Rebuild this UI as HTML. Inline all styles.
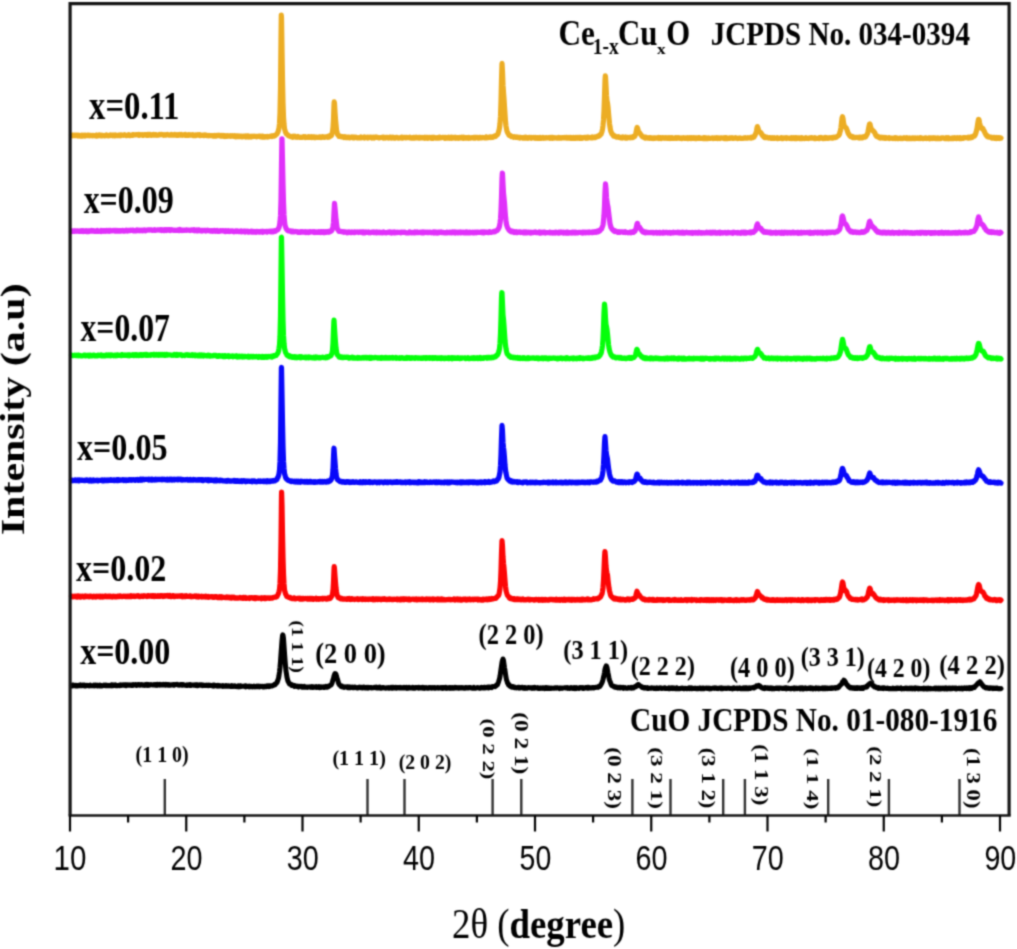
<!DOCTYPE html>
<html><head><meta charset="utf-8"><title>XRD patterns</title>
<style>html,body{margin:0;padding:0;background:#fff;}svg{display:block;}</style></head>
<body><svg width="1017" height="949" viewBox="0 0 1017 949">
<defs><filter id="bl" color-interpolation-filters="sRGB" x="0" y="0" width="1017" height="949" filterUnits="userSpaceOnUse"><feConvolveMatrix order="5" kernelMatrix="0.00009 0.00198 0.00548 0.00198 0.00009 0.00198 0.04220 0.11707 0.04220 0.00198 0.00548 0.11707 0.32480 0.11707 0.00548 0.00198 0.04220 0.11707 0.04220 0.00198 0.00009 0.00198 0.00548 0.00198 0.00009" edgeMode="duplicate" preserveAlpha="true"/></filter></defs>
<g filter="url(#bl)">
<rect width="1017" height="949" fill="#fff"/>
<path d="M71.5,135.39 L72.0,135.22 L72.5,135.72 L73.0,135.15 L73.5,135.61 L74.0,135.44 L74.5,135.14 L75.0,135.59 L75.5,135.12 L76.0,135.52 L76.5,135.16 L77.0,135.18 L77.5,135.51 L78.0,135.92 L78.5,135.21 L79.0,135.31 L79.5,135.72 L80.0,136.04 L80.5,135.67 L81.0,135.49 L81.5,136.07 L82.0,135.14 L82.5,135.95 L83.0,135.38 L83.5,135.24 L84.0,135.21 L84.5,135.40 L85.0,135.91 L85.5,135.27 L86.0,135.68 L86.5,135.73 L87.0,135.46 L87.5,135.64 L88.0,135.15 L88.5,135.15 L89.0,135.29 L89.5,135.77 L90.0,135.51 L90.5,135.40 L91.0,135.67 L91.5,135.54 L92.0,135.38 L92.5,135.87 L93.0,135.78 L93.5,135.32 L94.0,135.65 L94.5,135.60 L95.0,135.94 L95.5,135.79 L96.0,135.35 L96.5,136.04 L97.0,135.18 L97.5,135.47 L98.0,135.81 L98.5,135.20 L99.0,135.53 L99.5,135.08 L100.0,135.71 L100.5,135.80 L101.0,135.60 L101.5,135.90 L102.0,135.34 L102.5,135.71 L103.0,135.61 L103.5,135.59 L104.0,135.46 L104.5,135.84 L105.0,135.94 L105.5,135.47 L106.0,135.65 L106.5,135.04 L107.0,135.68 L107.5,135.62 L108.0,135.96 L108.5,135.78 L109.0,135.24 L109.5,135.34 L110.0,135.62 L110.5,134.96 L111.0,135.40 L111.5,135.10 L112.0,135.04 L112.5,134.98 L113.0,135.68 L113.5,135.03 L114.0,135.15 L114.5,135.28 L115.0,135.76 L115.5,134.96 L116.0,135.32 L116.5,135.42 L117.0,135.74 L117.5,135.67 L118.0,135.71 L118.5,135.12 L119.0,135.25 L119.5,135.18 L120.0,135.70 L120.5,135.77 L121.0,134.95 L121.5,134.97 L122.0,135.02 L122.5,135.02 L123.0,135.26 L123.5,135.36 L124.0,135.02 L124.5,134.76 L125.0,135.16 L125.5,135.11 L126.0,135.30 L126.5,135.67 L127.0,135.40 L127.5,135.22 L128.0,135.32 L128.5,135.37 L129.0,134.74 L129.5,135.57 L130.0,135.45 L130.5,135.53 L131.0,135.45 L131.5,135.03 L132.0,135.03 L132.5,134.73 L133.0,135.25 L133.5,134.67 L134.0,134.67 L134.5,134.80 L135.0,134.75 L135.5,134.92 L136.0,134.62 L136.5,134.56 L137.0,134.71 L137.5,134.65 L138.0,134.90 L138.5,134.56 L139.0,135.40 L139.5,135.13 L140.0,134.66 L140.5,134.76 L141.0,134.84 L141.5,134.85 L142.0,134.60 L142.5,135.32 L143.0,135.46 L143.5,134.93 L144.0,134.94 L144.5,134.53 L145.0,134.54 L145.5,134.78 L146.0,134.69 L146.5,135.25 L147.0,134.58 L147.5,134.43 L148.0,135.35 L148.5,134.92 L149.0,134.54 L149.5,134.93 L150.0,134.41 L150.5,134.90 L151.0,135.35 L151.5,135.23 L152.0,135.05 L152.5,134.61 L153.0,134.71 L153.5,134.51 L154.0,135.11 L154.5,134.87 L155.0,135.11 L155.5,134.65 L156.0,134.54 L156.5,135.13 L157.0,135.30 L157.5,135.16 L158.0,135.11 L158.5,135.12 L159.0,135.04 L159.5,134.52 L160.0,134.81 L160.5,134.65 L161.0,134.32 L161.5,134.32 L162.0,134.57 L162.5,134.54 L163.0,134.98 L163.5,135.24 L164.0,134.73 L164.5,135.22 L165.0,135.27 L165.5,135.23 L166.0,134.64 L166.5,134.50 L167.0,134.50 L167.5,134.47 L168.0,134.48 L168.5,134.90 L169.0,135.18 L169.5,135.12 L170.0,134.76 L170.5,134.94 L171.0,135.08 L171.5,134.37 L172.0,134.95 L172.5,135.20 L173.0,135.08 L173.5,135.05 L174.0,134.78 L174.5,134.48 L175.0,135.10 L175.5,134.64 L176.0,135.11 L176.5,135.29 L177.0,134.72 L177.5,134.73 L178.0,135.28 L178.5,135.06 L179.0,134.51 L179.5,134.47 L180.0,134.50 L180.5,135.26 L181.0,135.17 L181.5,134.52 L182.0,135.20 L182.5,135.36 L183.0,135.05 L183.5,134.75 L184.0,134.95 L184.5,134.54 L185.0,134.43 L185.5,135.40 L186.0,135.08 L186.5,134.97 L187.0,135.38 L187.5,134.89 L188.0,135.34 L188.5,135.30 L189.0,134.70 L189.5,134.75 L190.0,134.80 L190.5,134.75 L191.0,135.11 L191.5,134.79 L192.0,134.96 L192.5,134.69 L193.0,135.48 L193.5,134.93 L194.0,135.04 L194.5,135.18 L195.0,135.51 L195.5,135.04 L196.0,135.55 L196.5,135.14 L197.0,135.19 L197.5,135.19 L198.0,134.70 L198.5,135.13 L199.0,134.89 L199.5,134.72 L200.0,135.53 L200.5,134.91 L201.0,135.23 L201.5,135.49 L202.0,135.34 L202.5,135.12 L203.0,135.32 L203.5,135.37 L204.0,135.62 L204.5,134.95 L205.0,135.42 L205.5,135.12 L206.0,135.16 L206.5,135.67 L207.0,135.42 L207.5,135.49 L208.0,135.70 L208.5,135.87 L209.0,135.41 L209.5,135.60 L210.0,135.51 L210.5,135.53 L211.0,135.72 L211.5,135.50 L212.0,135.59 L212.5,135.55 L213.0,136.03 L213.5,135.80 L214.0,135.99 L214.5,136.07 L215.0,135.41 L215.5,135.72 L216.0,136.12 L216.5,136.03 L217.0,135.34 L217.5,135.34 L218.0,135.68 L218.5,135.32 L219.0,135.51 L219.5,135.35 L220.0,135.96 L220.5,136.09 L221.0,136.22 L221.5,135.49 L222.0,136.07 L222.5,136.03 L223.0,135.53 L223.5,136.28 L224.0,136.38 L224.5,135.65 L225.0,136.39 L225.5,135.85 L226.0,135.96 L226.5,136.47 L227.0,136.33 L227.5,135.67 L228.0,135.96 L228.5,136.06 L229.0,135.89 L229.5,135.77 L230.0,135.90 L230.5,136.32 L231.0,135.63 L231.5,136.18 L232.0,136.08 L232.5,135.67 L233.0,136.00 L233.5,136.30 L234.0,136.20 L234.5,135.77 L235.0,136.70 L235.5,136.52 L236.0,136.72 L236.5,135.86 L237.0,136.04 L237.5,135.82 L238.0,136.57 L238.5,136.08 L239.0,135.95 L239.5,136.25 L240.0,136.75 L240.5,136.67 L241.0,136.13 L241.5,136.03 L242.0,136.81 L242.5,136.47 L243.0,136.61 L243.5,136.01 L244.0,135.99 L244.5,136.63 L245.0,136.38 L245.5,136.04 L246.0,136.92 L246.5,136.62 L247.0,136.80 L247.5,136.09 L248.0,136.87 L248.5,136.09 L249.0,136.90 L249.5,136.50 L250.0,136.39 L250.5,136.61 L251.0,137.00 L251.5,136.35 L252.0,136.22 L252.5,136.62 L253.0,136.34 L253.5,136.22 L254.0,136.28 L254.5,136.17 L255.0,136.33 L255.5,136.45 L256.0,136.44 L256.5,136.90 L257.0,136.44 L257.5,136.65 L258.0,136.34 L258.5,136.51 L259.0,136.18 L259.5,136.42 L260.0,136.19 L260.5,136.91 L261.0,136.73 L261.5,136.36 L262.0,136.65 L262.5,137.11 L263.0,136.28 L263.5,136.99 L264.0,136.60 L264.5,136.65 L265.0,136.99 L265.5,136.54 L266.0,136.64 L266.5,136.81 L267.0,137.09 L267.5,136.44 L268.0,136.91 L268.5,136.76 L269.0,136.67 L269.5,136.41 L270.0,136.32 L270.5,135.98 L271.0,136.01 L271.5,135.90 L272.0,136.50 L272.5,135.94 L273.0,135.76 L273.5,135.57 L274.0,136.20 L274.5,136.07 L275.0,135.67 L275.5,135.03 L276.0,134.66 L276.5,134.29 L277.0,133.89 L277.5,132.82 L278.0,131.99 L278.5,130.14 L279.0,128.17 L279.5,123.47 L280.0,113.09 L280.5,88.35 L281.0,39.17 L281.3,15.20 L281.5,17.59 L282.0,49.65 L282.5,79.73 L283.0,102.92 L283.5,116.87 L284.0,124.15 L284.5,128.55 L285.0,130.42 L285.5,132.18 L286.0,133.03 L286.5,134.07 L287.0,134.24 L287.5,134.63 L288.0,135.23 L288.5,135.41 L289.0,135.96 L289.5,136.07 L290.0,136.43 L290.5,136.45 L291.0,136.61 L291.5,136.85 L292.0,136.44 L292.5,136.44 L293.0,137.15 L293.5,136.36 L294.0,136.98 L294.5,136.94 L295.0,136.37 L295.5,137.20 L296.0,137.28 L296.5,137.04 L297.0,137.17 L297.5,137.27 L298.0,136.62 L298.5,137.02 L299.0,137.02 L299.5,137.37 L300.0,137.35 L300.5,137.38 L301.0,137.16 L301.5,137.48 L302.0,137.28 L302.5,137.30 L303.0,136.84 L303.5,136.65 L304.0,136.77 L304.5,137.00 L305.0,136.75 L305.5,137.49 L306.0,137.22 L306.5,137.30 L307.0,137.30 L307.5,137.36 L308.0,137.18 L308.5,136.69 L309.0,137.49 L309.5,137.45 L310.0,137.21 L310.5,137.24 L311.0,137.37 L311.5,136.78 L312.0,137.46 L312.5,136.97 L313.0,136.80 L313.5,136.99 L314.0,137.46 L314.5,136.93 L315.0,137.47 L315.5,137.71 L316.0,137.23 L316.5,137.11 L317.0,137.21 L317.5,137.41 L318.0,137.50 L318.5,137.34 L319.0,137.37 L319.5,136.80 L320.0,136.86 L320.5,136.96 L321.0,137.45 L321.5,137.00 L322.0,137.26 L322.5,136.69 L323.0,136.73 L323.5,136.92 L324.0,137.31 L324.5,137.31 L325.0,137.27 L325.5,136.85 L326.0,137.05 L326.5,136.95 L327.0,136.91 L327.5,136.50 L328.0,137.20 L328.5,136.41 L329.0,137.07 L329.5,136.87 L330.0,135.74 L330.5,135.88 L331.0,135.82 L331.5,135.33 L332.0,133.79 L332.5,131.72 L333.0,127.61 L333.5,119.37 L334.0,104.69 L334.2,101.95 L334.5,103.39 L335.0,112.09 L335.5,119.10 L336.0,124.53 L336.5,129.85 L337.0,132.40 L337.5,134.43 L338.0,135.22 L338.5,135.34 L339.0,136.41 L339.5,136.28 L340.0,136.03 L340.5,136.17 L341.0,136.78 L341.5,136.83 L342.0,136.76 L342.5,136.66 L343.0,136.92 L343.5,136.94 L344.0,137.50 L344.5,136.69 L345.0,137.47 L345.5,137.58 L346.0,136.89 L346.5,137.71 L347.0,137.52 L347.5,137.72 L348.0,137.12 L348.5,137.22 L349.0,137.25 L349.5,137.87 L350.0,137.47 L350.5,137.25 L351.0,137.32 L351.5,137.18 L352.0,136.96 L352.5,137.02 L353.0,137.76 L353.5,137.21 L354.0,137.87 L354.5,137.19 L355.0,137.21 L355.5,137.46 L356.0,137.15 L356.5,137.33 L357.0,137.92 L357.5,137.85 L358.0,137.78 L358.5,137.61 L359.0,137.89 L359.5,137.92 L360.0,137.54 L360.5,137.71 L361.0,137.04 L361.5,137.73 L362.0,137.45 L362.5,137.76 L363.0,137.65 L363.5,137.30 L364.0,137.06 L364.5,137.94 L365.0,137.14 L365.5,137.49 L366.0,137.37 L366.5,137.32 L367.0,137.77 L367.5,138.01 L368.0,137.29 L368.5,137.69 L369.0,137.34 L369.5,137.60 L370.0,137.44 L370.5,137.21 L371.0,137.21 L371.5,137.26 L372.0,137.96 L372.5,137.55 L373.0,137.28 L373.5,137.96 L374.0,138.06 L374.5,137.51 L375.0,137.20 L375.5,137.26 L376.0,137.16 L376.5,137.41 L377.0,137.16 L377.5,137.31 L378.0,137.33 L378.5,137.65 L379.0,137.97 L379.5,137.83 L380.0,137.50 L380.5,137.50 L381.0,137.61 L381.5,137.47 L382.0,137.43 L382.5,137.15 L383.0,137.37 L383.5,138.06 L384.0,137.22 L384.5,137.60 L385.0,137.73 L385.5,137.97 L386.0,137.32 L386.5,137.38 L387.0,137.36 L387.5,137.51 L388.0,137.56 L388.5,138.07 L389.0,137.96 L389.5,137.99 L390.0,137.14 L390.5,137.15 L391.0,137.83 L391.5,138.02 L392.0,137.60 L392.5,137.71 L393.0,137.13 L393.5,137.52 L394.0,138.06 L394.5,137.96 L395.0,137.99 L395.5,138.11 L396.0,137.39 L396.5,137.25 L397.0,137.29 L397.5,137.66 L398.0,137.83 L398.5,138.09 L399.0,137.87 L399.5,137.79 L400.0,137.91 L400.5,137.61 L401.0,137.70 L401.5,137.19 L402.0,137.94 L402.5,137.39 L403.0,138.08 L403.5,137.80 L404.0,137.46 L404.5,137.29 L405.0,137.42 L405.5,137.80 L406.0,137.86 L406.5,137.28 L407.0,137.24 L407.5,137.69 L408.0,137.75 L408.5,137.56 L409.0,137.40 L409.5,137.78 L410.0,137.19 L410.5,137.48 L411.0,137.64 L411.5,138.14 L412.0,137.83 L412.5,138.07 L413.0,137.66 L413.5,137.42 L414.0,137.43 L414.5,138.15 L415.0,137.89 L415.5,137.50 L416.0,137.21 L416.5,137.69 L417.0,137.87 L417.5,137.62 L418.0,137.45 L418.5,137.87 L419.0,138.13 L419.5,137.43 L420.0,137.24 L420.5,137.54 L421.0,137.63 L421.5,137.89 L422.0,137.41 L422.5,138.01 L423.0,137.95 L423.5,137.72 L424.0,137.42 L424.5,138.18 L425.0,137.53 L425.5,138.04 L426.0,137.45 L426.5,137.44 L427.0,137.98 L427.5,137.51 L428.0,138.17 L428.5,137.72 L429.0,137.41 L429.5,137.45 L430.0,137.64 L430.5,137.89 L431.0,138.18 L431.5,137.37 L432.0,137.62 L432.5,137.44 L433.0,138.21 L433.5,137.37 L434.0,137.28 L434.5,137.29 L435.0,137.63 L435.5,138.13 L436.0,138.12 L436.5,137.97 L437.0,138.24 L437.5,138.17 L438.0,137.57 L438.5,137.43 L439.0,138.18 L439.5,137.99 L440.0,137.28 L440.5,137.91 L441.0,137.62 L441.5,137.62 L442.0,137.58 L442.5,137.42 L443.0,137.25 L443.5,137.53 L444.0,137.60 L444.5,138.21 L445.0,137.38 L445.5,138.22 L446.0,137.46 L446.5,137.61 L447.0,138.08 L447.5,138.08 L448.0,137.69 L448.5,137.30 L449.0,137.73 L449.5,137.63 L450.0,138.18 L450.5,137.45 L451.0,137.62 L451.5,138.16 L452.0,137.29 L452.5,137.67 L453.0,138.07 L453.5,138.03 L454.0,137.30 L454.5,137.30 L455.0,137.32 L455.5,138.18 L456.0,137.52 L456.5,138.01 L457.0,138.16 L457.5,137.60 L458.0,137.53 L458.5,138.22 L459.0,137.88 L459.5,137.52 L460.0,137.98 L460.5,137.58 L461.0,137.54 L461.5,137.26 L462.0,138.02 L462.5,138.18 L463.0,137.89 L463.5,138.20 L464.0,137.28 L464.5,137.49 L465.0,137.73 L465.5,138.21 L466.0,138.21 L466.5,137.64 L467.0,137.50 L467.5,137.68 L468.0,137.74 L468.5,138.18 L469.0,137.43 L469.5,138.05 L470.0,137.98 L470.5,138.06 L471.0,138.01 L471.5,137.84 L472.0,137.56 L472.5,137.55 L473.0,137.59 L473.5,138.01 L474.0,137.30 L474.5,137.42 L475.0,137.97 L475.5,137.46 L476.0,137.27 L476.5,137.24 L477.0,137.75 L477.5,137.52 L478.0,138.17 L478.5,138.06 L479.0,138.16 L479.5,137.43 L480.0,137.24 L480.5,137.25 L481.0,137.64 L481.5,137.84 L482.0,137.57 L482.5,137.35 L483.0,137.52 L483.5,137.71 L484.0,137.75 L484.5,137.81 L485.0,137.89 L485.5,137.69 L486.0,137.13 L486.5,137.82 L487.0,137.25 L487.5,137.50 L488.0,137.28 L488.5,137.61 L489.0,137.03 L489.5,137.04 L490.0,136.99 L490.5,136.85 L491.0,137.52 L491.5,137.15 L492.0,136.82 L492.5,136.81 L493.0,137.30 L493.5,136.70 L494.0,136.28 L494.5,136.70 L495.0,136.34 L495.5,136.44 L496.0,135.26 L496.5,135.26 L497.0,135.13 L497.5,134.54 L498.0,133.79 L498.5,131.78 L499.0,130.39 L499.5,127.68 L500.0,123.41 L500.5,116.21 L501.0,101.38 L501.5,79.92 L502.0,63.46 L502.5,71.93 L503.0,85.19 L503.5,92.52 L504.0,98.75 L504.5,106.72 L505.0,114.14 L505.5,121.31 L506.0,126.09 L506.5,128.90 L507.0,131.18 L507.5,132.38 L508.0,133.44 L508.5,134.22 L509.0,135.11 L509.5,135.59 L510.0,135.49 L510.5,135.57 L511.0,136.11 L511.5,136.65 L512.0,136.31 L512.5,136.57 L513.0,136.58 L513.5,137.27 L514.0,137.10 L514.5,136.69 L515.0,136.80 L515.5,137.15 L516.0,137.36 L516.5,137.49 L517.0,136.98 L517.5,137.09 L518.0,137.66 L518.5,137.40 L519.0,137.30 L519.5,137.35 L520.0,138.02 L520.5,137.40 L521.0,137.67 L521.5,137.48 L522.0,137.56 L522.5,138.02 L523.0,138.17 L523.5,137.55 L524.0,137.39 L524.5,137.94 L525.0,137.42 L525.5,137.24 L526.0,138.14 L526.5,137.67 L527.0,138.08 L527.5,137.67 L528.0,138.16 L528.5,137.74 L529.0,137.45 L529.5,137.31 L530.0,137.85 L530.5,137.95 L531.0,138.22 L531.5,137.40 L532.0,137.94 L532.5,137.70 L533.0,137.83 L533.5,137.48 L534.0,137.62 L534.5,137.86 L535.0,138.27 L535.5,137.46 L536.0,137.84 L536.5,138.16 L537.0,138.33 L537.5,137.56 L538.0,137.49 L538.5,138.31 L539.0,138.35 L539.5,137.86 L540.0,137.43 L540.5,138.30 L541.0,137.77 L541.5,138.29 L542.0,138.01 L542.5,138.21 L543.0,137.55 L543.5,138.18 L544.0,137.61 L544.5,137.80 L545.0,138.24 L545.5,138.23 L546.0,137.58 L546.5,137.62 L547.0,137.80 L547.5,137.92 L548.0,137.79 L548.5,137.53 L549.0,137.65 L549.5,138.13 L550.0,138.31 L550.5,137.45 L551.0,137.97 L551.5,138.17 L552.0,137.45 L552.5,138.25 L553.0,137.53 L553.5,138.02 L554.0,137.97 L554.5,138.04 L555.0,137.72 L555.5,137.84 L556.0,138.00 L556.5,137.85 L557.0,138.08 L557.5,137.87 L558.0,137.86 L558.5,137.44 L559.0,138.04 L559.5,137.91 L560.0,137.66 L560.5,138.19 L561.0,138.20 L561.5,137.88 L562.0,137.60 L562.5,137.89 L563.0,137.53 L563.5,137.55 L564.0,137.85 L564.5,137.51 L565.0,137.86 L565.5,137.93 L566.0,137.46 L566.5,138.05 L567.0,137.50 L567.5,138.15 L568.0,138.19 L568.5,137.93 L569.0,137.47 L569.5,137.92 L570.0,137.79 L570.5,138.36 L571.0,137.54 L571.5,138.26 L572.0,138.40 L572.5,138.13 L573.0,138.21 L573.5,137.59 L574.0,138.38 L574.5,137.88 L575.0,138.35 L575.5,138.30 L576.0,137.55 L576.5,138.17 L577.0,138.31 L577.5,137.44 L578.0,137.72 L578.5,138.12 L579.0,137.52 L579.5,138.25 L580.0,137.62 L580.5,138.16 L581.0,137.48 L581.5,137.83 L582.0,138.24 L582.5,137.52 L583.0,137.57 L583.5,137.80 L584.0,137.61 L584.5,137.31 L585.0,137.45 L585.5,137.41 L586.0,138.18 L586.5,137.91 L587.0,138.11 L587.5,137.36 L588.0,137.96 L588.5,137.27 L589.0,137.67 L589.5,137.75 L590.0,137.45 L590.5,137.93 L591.0,137.59 L591.5,137.58 L592.0,137.84 L592.5,137.02 L593.0,137.86 L593.5,137.45 L594.0,137.15 L594.5,137.49 L595.0,136.88 L595.5,137.52 L596.0,137.00 L596.5,136.67 L597.0,136.94 L597.5,136.46 L598.0,136.00 L598.5,136.34 L599.0,135.36 L599.5,135.79 L600.0,134.79 L600.5,134.62 L601.0,134.24 L601.5,132.87 L602.0,131.57 L602.5,129.17 L603.0,125.56 L603.5,119.97 L604.0,110.61 L604.5,96.61 L605.0,80.53 L605.3,75.88 L605.5,76.73 L606.0,85.55 L606.5,95.45 L607.0,100.95 L607.5,103.11 L608.0,106.98 L608.5,112.94 L609.0,118.47 L609.5,123.54 L610.0,127.04 L610.5,129.99 L611.0,131.83 L611.5,132.72 L612.0,134.06 L612.5,134.59 L613.0,134.77 L613.5,135.98 L614.0,135.61 L614.5,135.78 L615.0,135.95 L615.5,136.67 L616.0,137.06 L616.5,137.10 L617.0,136.84 L617.5,136.80 L618.0,136.63 L618.5,137.33 L619.0,137.32 L619.5,137.16 L620.0,137.51 L620.5,137.35 L621.0,137.88 L621.5,137.71 L622.0,137.26 L622.5,137.94 L623.0,137.10 L623.5,137.61 L624.0,137.50 L624.5,137.35 L625.0,137.18 L625.5,137.91 L626.0,137.15 L626.5,137.69 L627.0,138.08 L627.5,137.28 L628.0,137.33 L628.5,137.73 L629.0,137.62 L629.5,137.73 L630.0,137.88 L630.5,137.21 L631.0,137.30 L631.5,137.23 L632.0,136.90 L632.5,137.65 L633.0,137.41 L633.5,137.15 L634.0,136.17 L634.5,136.59 L635.0,135.79 L635.5,134.34 L636.0,132.75 L636.5,129.93 L637.0,127.72 L637.1,127.47 L637.5,128.12 L638.0,129.68 L638.5,131.30 L639.0,132.34 L639.5,132.68 L640.0,133.44 L640.5,134.19 L641.0,134.64 L641.5,135.69 L642.0,136.16 L642.5,136.94 L643.0,136.98 L643.5,136.93 L644.0,137.47 L644.5,137.91 L645.0,137.25 L645.5,137.99 L646.0,137.18 L646.5,137.47 L647.0,137.49 L647.5,138.03 L648.0,138.26 L648.5,138.09 L649.0,137.69 L649.5,138.26 L650.0,137.73 L650.5,137.65 L651.0,138.33 L651.5,138.07 L652.0,138.14 L652.5,138.12 L653.0,138.45 L653.5,137.95 L654.0,138.32 L654.5,138.19 L655.0,138.36 L655.5,137.94 L656.0,138.23 L656.5,138.09 L657.0,137.83 L657.5,137.74 L658.0,138.15 L658.5,137.61 L659.0,138.45 L659.5,137.68 L660.0,137.57 L660.5,137.65 L661.0,138.48 L661.5,137.90 L662.0,137.70 L662.5,137.59 L663.0,137.60 L663.5,138.26 L664.0,138.20 L664.5,138.27 L665.0,138.31 L665.5,137.64 L666.0,138.17 L666.5,137.94 L667.0,138.40 L667.5,138.40 L668.0,138.47 L668.5,137.65 L669.0,138.45 L669.5,138.50 L670.0,138.53 L670.5,137.70 L671.0,137.80 L671.5,137.71 L672.0,137.63 L672.5,138.44 L673.0,138.41 L673.5,138.23 L674.0,138.43 L674.5,138.23 L675.0,137.89 L675.5,137.70 L676.0,137.70 L676.5,138.36 L677.0,137.81 L677.5,137.93 L678.0,138.03 L678.5,137.63 L679.0,137.87 L679.5,137.90 L680.0,138.33 L680.5,137.98 L681.0,137.94 L681.5,138.58 L682.0,138.12 L682.5,138.47 L683.0,138.24 L683.5,137.65 L684.0,138.04 L684.5,138.06 L685.0,138.40 L685.5,137.97 L686.0,138.33 L686.5,138.16 L687.0,137.84 L687.5,138.49 L688.0,137.72 L688.5,138.45 L689.0,137.80 L689.5,137.63 L690.0,137.83 L690.5,138.39 L691.0,138.61 L691.5,137.64 L692.0,138.13 L692.5,138.13 L693.0,138.43 L693.5,137.82 L694.0,138.13 L694.5,137.98 L695.0,138.47 L695.5,137.90 L696.0,138.58 L696.5,137.92 L697.0,137.86 L697.5,138.34 L698.0,138.14 L698.5,137.75 L699.0,138.28 L699.5,137.72 L700.0,138.43 L700.5,138.34 L701.0,138.43 L701.5,138.27 L702.0,138.00 L702.5,138.05 L703.0,138.04 L703.5,138.54 L704.0,137.73 L704.5,138.54 L705.0,137.67 L705.5,137.85 L706.0,137.91 L706.5,138.55 L707.0,138.15 L707.5,138.03 L708.0,138.53 L708.5,137.88 L709.0,138.11 L709.5,138.18 L710.0,138.41 L710.5,138.40 L711.0,138.30 L711.5,138.00 L712.0,137.98 L712.5,137.81 L713.0,138.50 L713.5,138.32 L714.0,138.40 L714.5,137.82 L715.0,138.09 L715.5,138.43 L716.0,138.23 L716.5,137.78 L717.0,138.12 L717.5,138.54 L718.0,137.89 L718.5,137.85 L719.0,137.96 L719.5,138.36 L720.0,138.50 L720.5,137.81 L721.0,137.81 L721.5,137.90 L722.0,137.98 L722.5,138.18 L723.0,137.81 L723.5,137.98 L724.0,137.84 L724.5,138.63 L725.0,138.38 L725.5,137.75 L726.0,138.61 L726.5,137.75 L727.0,138.03 L727.5,138.63 L728.0,138.44 L728.5,138.38 L729.0,138.08 L729.5,137.84 L730.0,138.28 L730.5,137.75 L731.0,137.85 L731.5,138.03 L732.0,137.68 L732.5,138.04 L733.0,138.43 L733.5,138.33 L734.0,138.14 L734.5,138.27 L735.0,138.10 L735.5,137.77 L736.0,138.23 L736.5,138.03 L737.0,138.36 L737.5,138.53 L738.0,138.05 L738.5,138.19 L739.0,138.36 L739.5,138.03 L740.0,137.83 L740.5,138.32 L741.0,138.47 L741.5,138.36 L742.0,138.28 L742.5,138.43 L743.0,138.25 L743.5,138.20 L744.0,138.00 L744.5,137.85 L745.0,138.16 L745.5,137.61 L746.0,137.92 L746.5,138.27 L747.0,138.18 L747.5,138.08 L748.0,137.67 L748.5,137.82 L749.0,137.82 L749.5,137.95 L750.0,137.69 L750.5,137.90 L751.0,138.09 L751.5,137.27 L752.0,137.64 L752.5,137.63 L753.0,137.08 L753.5,136.96 L754.0,137.14 L754.5,135.74 L755.0,135.54 L755.5,134.04 L756.0,132.97 L756.5,130.81 L757.0,127.98 L757.4,126.58 L757.5,127.03 L758.0,128.09 L758.5,130.05 L759.0,131.13 L759.5,131.90 L760.0,132.35 L760.5,132.34 L761.0,132.82 L761.5,134.18 L762.0,134.31 L762.5,135.54 L763.0,135.87 L763.5,136.71 L764.0,136.43 L764.5,137.55 L765.0,137.12 L765.5,136.97 L766.0,137.31 L766.5,137.52 L767.0,137.21 L767.5,137.67 L768.0,137.73 L768.5,138.05 L769.0,137.74 L769.5,137.68 L770.0,137.67 L770.5,138.21 L771.0,138.42 L771.5,138.03 L772.0,137.74 L772.5,138.33 L773.0,137.94 L773.5,137.77 L774.0,137.70 L774.5,138.35 L775.0,138.39 L775.5,138.23 L776.0,138.07 L776.5,138.17 L777.0,137.84 L777.5,138.58 L778.0,137.97 L778.5,138.26 L779.0,138.45 L779.5,138.45 L780.0,138.11 L780.5,137.93 L781.0,138.19 L781.5,137.77 L782.0,138.48 L782.5,138.01 L783.0,138.50 L783.5,137.92 L784.0,138.03 L784.5,137.91 L785.0,138.09 L785.5,137.85 L786.0,137.67 L786.5,138.39 L787.0,137.95 L787.5,137.91 L788.0,137.97 L788.5,138.15 L789.0,138.10 L789.5,138.31 L790.0,138.33 L790.5,138.04 L791.0,138.60 L791.5,138.53 L792.0,137.73 L792.5,138.51 L793.0,138.58 L793.5,138.46 L794.0,137.82 L794.5,138.51 L795.0,138.31 L795.5,137.69 L796.0,137.69 L796.5,138.63 L797.0,138.34 L797.5,137.93 L798.0,137.78 L798.5,137.82 L799.0,137.91 L799.5,138.46 L800.0,138.03 L800.5,137.83 L801.0,138.58 L801.5,138.47 L802.0,137.85 L802.5,138.57 L803.0,138.29 L803.5,138.46 L804.0,138.35 L804.5,138.57 L805.0,138.46 L805.5,138.51 L806.0,137.87 L806.5,138.37 L807.0,138.20 L807.5,138.41 L808.0,138.11 L808.5,138.55 L809.0,138.22 L809.5,137.93 L810.0,137.90 L810.5,137.80 L811.0,138.15 L811.5,137.72 L812.0,138.12 L812.5,137.80 L813.0,138.15 L813.5,138.15 L814.0,138.19 L814.5,138.51 L815.0,137.65 L815.5,138.48 L816.0,138.11 L816.5,138.20 L817.0,138.30 L817.5,138.47 L818.0,138.00 L818.5,138.04 L819.0,138.58 L819.5,137.69 L820.0,138.24 L820.5,138.24 L821.0,137.62 L821.5,138.20 L822.0,138.27 L822.5,138.51 L823.0,137.90 L823.5,138.54 L824.0,138.06 L824.5,138.03 L825.0,138.43 L825.5,137.55 L826.0,138.23 L826.5,138.12 L827.0,137.82 L827.5,138.33 L828.0,137.82 L828.5,137.90 L829.0,137.93 L829.5,138.16 L830.0,137.57 L830.5,137.77 L831.0,137.72 L831.5,137.82 L832.0,138.05 L832.5,137.47 L833.0,137.95 L833.5,137.47 L834.0,137.50 L834.5,137.18 L835.0,137.32 L835.5,137.67 L836.0,137.21 L836.5,137.17 L837.0,136.50 L837.5,136.21 L838.0,135.84 L838.5,135.65 L839.0,135.02 L839.5,134.18 L840.0,131.94 L840.5,130.39 L841.0,127.34 L841.5,122.88 L842.0,118.36 L842.4,117.03 L842.5,116.70 L843.0,118.66 L843.5,122.52 L844.0,124.73 L844.5,126.21 L845.0,126.93 L845.5,127.32 L846.0,127.54 L846.5,128.57 L847.0,129.97 L847.5,131.51 L848.0,132.73 L848.5,133.92 L849.0,134.32 L849.5,135.45 L850.0,135.76 L850.5,136.46 L851.0,136.10 L851.5,136.41 L852.0,136.44 L852.5,137.32 L853.0,137.58 L853.5,137.42 L854.0,137.21 L854.5,137.72 L855.0,137.74 L855.5,137.56 L856.0,137.29 L856.5,137.36 L857.0,137.51 L857.5,137.42 L858.0,137.54 L858.5,137.75 L859.0,138.04 L859.5,137.16 L860.0,137.66 L860.5,137.11 L861.0,137.16 L861.5,137.81 L862.0,137.53 L862.5,137.82 L863.0,137.27 L863.5,136.74 L864.0,137.00 L864.5,137.05 L865.0,137.19 L865.5,136.97 L866.0,136.10 L866.5,135.50 L867.0,134.40 L867.5,133.75 L868.0,131.58 L868.5,129.14 L869.0,126.24 L869.5,124.11 L869.7,124.46 L870.0,124.12 L870.5,126.65 L871.0,127.76 L871.5,129.96 L872.0,129.97 L872.5,130.14 L873.0,131.00 L873.5,130.89 L874.0,132.08 L874.5,132.45 L875.0,133.25 L875.5,134.83 L876.0,135.48 L876.5,136.20 L877.0,136.52 L877.5,136.21 L878.0,137.02 L878.5,137.31 L879.0,137.22 L879.5,137.82 L880.0,137.24 L880.5,138.04 L881.0,137.86 L881.5,137.22 L882.0,137.27 L882.5,137.95 L883.0,138.16 L883.5,137.46 L884.0,137.72 L884.5,138.16 L885.0,137.62 L885.5,138.34 L886.0,137.98 L886.5,137.57 L887.0,137.90 L887.5,138.12 L888.0,138.00 L888.5,138.25 L889.0,137.73 L889.5,138.39 L890.0,137.96 L890.5,138.25 L891.0,138.25 L891.5,138.04 L892.0,138.02 L892.5,138.42 L893.0,138.59 L893.5,138.43 L894.0,138.22 L894.5,137.95 L895.0,137.73 L895.5,138.64 L896.0,138.38 L896.5,138.51 L897.0,138.01 L897.5,138.29 L898.0,138.67 L898.5,138.52 L899.0,138.30 L899.5,138.01 L900.0,138.13 L900.5,138.59 L901.0,138.08 L901.5,138.39 L902.0,138.31 L902.5,138.61 L903.0,138.52 L903.5,138.00 L904.0,137.72 L904.5,137.98 L905.0,138.14 L905.5,138.31 L906.0,138.54 L906.5,138.61 L907.0,137.77 L907.5,138.56 L908.0,138.54 L908.5,138.60 L909.0,138.30 L909.5,138.01 L910.0,138.59 L910.5,138.54 L911.0,138.42 L911.5,138.65 L912.0,138.09 L912.5,137.82 L913.0,138.29 L913.5,138.54 L914.0,137.94 L914.5,138.49 L915.0,138.68 L915.5,137.98 L916.0,138.35 L916.5,138.42 L917.0,138.21 L917.5,137.95 L918.0,138.00 L918.5,138.50 L919.0,138.54 L919.5,138.21 L920.0,137.84 L920.5,138.56 L921.0,138.52 L921.5,137.98 L922.0,138.33 L922.5,138.65 L923.0,138.64 L923.5,138.27 L924.0,138.23 L924.5,138.34 L925.0,137.94 L925.5,137.95 L926.0,137.93 L926.5,138.45 L927.0,138.12 L927.5,138.32 L928.0,138.16 L928.5,138.27 L929.0,137.90 L929.5,137.80 L930.0,138.75 L930.5,138.13 L931.0,137.86 L931.5,138.39 L932.0,138.54 L932.5,137.91 L933.0,138.35 L933.5,138.10 L934.0,138.27 L934.5,137.77 L935.0,137.78 L935.5,138.74 L936.0,138.62 L936.5,138.24 L937.0,138.32 L937.5,138.01 L938.0,138.53 L938.5,138.17 L939.0,138.69 L939.5,138.51 L940.0,138.56 L940.5,138.71 L941.0,138.00 L941.5,137.78 L942.0,137.94 L942.5,137.92 L943.0,137.82 L943.5,137.79 L944.0,138.29 L944.5,138.61 L945.0,138.19 L945.5,138.68 L946.0,138.64 L946.5,137.79 L947.0,138.32 L947.5,138.12 L948.0,137.84 L948.5,138.68 L949.0,137.98 L949.5,138.28 L950.0,138.35 L950.5,138.67 L951.0,138.38 L951.5,138.10 L952.0,138.15 L952.5,137.86 L953.0,138.66 L953.5,138.68 L954.0,137.91 L954.5,137.72 L955.0,137.93 L955.5,138.03 L956.0,138.57 L956.5,138.57 L957.0,138.49 L957.5,137.70 L958.0,138.43 L958.5,138.35 L959.0,138.28 L959.5,138.61 L960.0,137.67 L960.5,137.75 L961.0,138.35 L961.5,138.52 L962.0,138.24 L962.5,137.85 L963.0,138.13 L963.5,138.28 L964.0,137.61 L964.5,137.81 L965.0,137.72 L965.5,137.56 L966.0,137.89 L966.5,137.55 L967.0,137.59 L967.5,137.45 L968.0,137.95 L968.5,137.23 L969.0,137.88 L969.5,137.30 L970.0,137.07 L970.5,137.87 L971.0,137.07 L971.5,137.66 L972.0,137.45 L972.5,137.30 L973.0,136.34 L973.5,136.38 L974.0,135.68 L974.5,136.05 L975.0,135.32 L975.5,134.19 L976.0,132.70 L976.5,130.71 L977.0,128.63 L977.5,125.08 L978.0,121.91 L978.5,119.36 L978.6,119.31 L979.0,119.65 L979.5,122.51 L980.0,124.84 L980.5,126.31 L981.0,128.12 L981.5,127.98 L982.0,128.25 L982.5,128.15 L983.0,128.73 L983.5,130.14 L984.0,130.73 L984.5,131.71 L985.0,133.10 L985.5,133.85 L986.0,135.20 L986.5,135.02 L987.0,136.38 L987.5,135.84 L988.0,136.98 L988.5,136.99 L989.0,136.73 L989.5,137.15 L990.0,137.09 L990.5,137.17 L991.0,137.20 L991.5,137.44 L992.0,138.14 L992.5,138.20 L993.0,138.18 L993.5,137.40 L994.0,137.63 L994.5,138.27 L995.0,137.46 L995.5,138.16 L996.0,137.75 L996.5,138.46 L997.0,137.52 L997.5,138.33 L998.0,137.88 L998.5,137.70 L999.0,137.58 L999.5,138.42 L1000.0,138.13 L1000.5,137.80 L1001.0,138.06" fill="none" stroke="#ECAD24" stroke-width="5.2" stroke-linejoin="round" stroke-linecap="round"/>
<path d="M71.5,231.58 L72.0,230.89 L72.5,231.24 L73.0,230.81 L73.5,230.85 L74.0,231.44 L74.5,231.38 L75.0,230.86 L75.5,230.75 L76.0,230.75 L76.5,231.27 L77.0,231.16 L77.5,230.94 L78.0,230.87 L78.5,231.27 L79.0,231.37 L79.5,231.47 L80.0,231.24 L80.5,230.86 L81.0,230.72 L81.5,231.38 L82.0,231.06 L82.5,231.37 L83.0,230.70 L83.5,231.45 L84.0,230.98 L84.5,231.48 L85.0,231.50 L85.5,231.13 L86.0,230.65 L86.5,231.54 L87.0,231.10 L87.5,231.50 L88.0,230.89 L88.5,230.80 L89.0,231.45 L89.5,230.98 L90.0,230.77 L90.5,230.98 L91.0,231.20 L91.5,230.60 L92.0,231.11 L92.5,231.04 L93.0,231.10 L93.5,230.70 L94.0,231.29 L94.5,231.39 L95.0,231.44 L95.5,230.89 L96.0,231.27 L96.5,230.94 L97.0,231.30 L97.5,230.61 L98.0,231.41 L98.5,231.49 L99.0,231.03 L99.5,231.04 L100.0,231.05 L100.5,231.05 L101.0,230.53 L101.5,231.47 L102.0,230.72 L102.5,230.67 L103.0,230.59 L103.5,230.73 L104.0,231.29 L104.5,230.50 L105.0,230.56 L105.5,231.15 L106.0,230.64 L106.5,230.46 L107.0,231.03 L107.5,231.00 L108.0,230.94 L108.5,231.12 L109.0,230.51 L109.5,231.27 L110.0,231.11 L110.5,230.43 L111.0,230.50 L111.5,230.86 L112.0,230.86 L112.5,230.63 L113.0,230.47 L113.5,230.74 L114.0,230.47 L114.5,230.91 L115.0,231.17 L115.5,230.45 L116.0,230.87 L116.5,231.03 L117.0,230.44 L117.5,231.10 L118.0,231.20 L118.5,230.64 L119.0,230.66 L119.5,231.07 L120.0,230.75 L120.5,230.61 L121.0,231.15 L121.5,230.98 L122.0,230.53 L122.5,230.42 L123.0,230.51 L123.5,230.60 L124.0,231.13 L124.5,230.95 L125.0,231.05 L125.5,230.94 L126.0,230.96 L126.5,230.16 L127.0,230.61 L127.5,231.04 L128.0,231.01 L128.5,230.32 L129.0,230.48 L129.5,230.68 L130.0,230.40 L130.5,230.56 L131.0,230.09 L131.5,230.44 L132.0,230.50 L132.5,230.01 L133.0,230.12 L133.5,230.94 L134.0,230.74 L134.5,230.89 L135.0,230.58 L135.5,230.74 L136.0,230.81 L136.5,230.80 L137.0,229.94 L137.5,230.54 L138.0,230.15 L138.5,230.55 L139.0,230.14 L139.5,230.40 L140.0,230.77 L140.5,230.46 L141.0,230.08 L141.5,230.34 L142.0,230.25 L142.5,230.75 L143.0,230.08 L143.5,230.09 L144.0,230.43 L144.5,229.89 L145.0,230.36 L145.5,230.71 L146.0,230.26 L146.5,230.01 L147.0,230.20 L147.5,230.25 L148.0,229.86 L148.5,229.83 L149.0,229.83 L149.5,229.98 L150.0,230.09 L150.5,229.96 L151.0,229.91 L151.5,229.75 L152.0,230.20 L152.5,230.49 L153.0,230.25 L153.5,230.21 L154.0,230.28 L154.5,229.83 L155.0,230.33 L155.5,230.07 L156.0,230.15 L156.5,230.21 L157.0,230.07 L157.5,229.90 L158.0,229.83 L158.5,229.80 L159.0,230.09 L159.5,229.96 L160.0,230.15 L160.5,229.58 L161.0,229.91 L161.5,230.42 L162.0,229.79 L162.5,230.11 L163.0,230.04 L163.5,229.83 L164.0,230.53 L164.5,229.83 L165.0,230.31 L165.5,229.69 L166.0,229.60 L166.5,230.40 L167.0,229.97 L167.5,229.59 L168.0,229.92 L168.5,229.97 L169.0,230.26 L169.5,229.63 L170.0,229.75 L170.5,230.48 L171.0,230.26 L171.5,229.68 L172.0,229.86 L172.5,229.88 L173.0,230.20 L173.5,230.15 L174.0,230.38 L174.5,230.35 L175.0,230.05 L175.5,230.28 L176.0,230.28 L176.5,230.30 L177.0,230.02 L177.5,230.33 L178.0,230.26 L178.5,230.47 L179.0,229.69 L179.5,230.43 L180.0,229.57 L180.5,230.34 L181.0,230.16 L181.5,230.08 L182.0,230.55 L182.5,230.16 L183.0,230.01 L183.5,230.39 L184.0,230.48 L184.5,230.22 L185.0,230.00 L185.5,230.08 L186.0,230.09 L186.5,230.36 L187.0,229.94 L187.5,230.04 L188.0,230.22 L188.5,230.05 L189.0,230.00 L189.5,230.47 L190.0,230.54 L190.5,230.20 L191.0,230.15 L191.5,229.90 L192.0,230.03 L192.5,229.88 L193.0,230.32 L193.5,230.34 L194.0,229.85 L194.5,230.69 L195.0,230.11 L195.5,230.64 L196.0,230.64 L196.5,230.77 L197.0,230.03 L197.5,230.26 L198.0,230.76 L198.5,229.87 L199.0,229.91 L199.5,230.44 L200.0,230.39 L200.5,230.82 L201.0,230.69 L201.5,230.46 L202.0,230.93 L202.5,230.46 L203.0,230.48 L203.5,230.66 L204.0,230.37 L204.5,230.35 L205.0,230.60 L205.5,230.37 L206.0,230.98 L206.5,230.72 L207.0,230.58 L207.5,230.17 L208.0,230.46 L208.5,230.50 L209.0,230.67 L209.5,230.70 L210.0,231.02 L210.5,231.11 L211.0,230.65 L211.5,230.62 L212.0,230.81 L212.5,231.20 L213.0,230.56 L213.5,230.76 L214.0,231.06 L214.5,230.43 L215.0,230.59 L215.5,231.26 L216.0,231.12 L216.5,230.82 L217.0,230.44 L217.5,231.23 L218.0,231.04 L218.5,231.19 L219.0,231.37 L219.5,231.28 L220.0,230.83 L220.5,230.58 L221.0,230.72 L221.5,230.96 L222.0,230.97 L222.5,230.66 L223.0,230.67 L223.5,231.13 L224.0,231.12 L224.5,230.88 L225.0,231.54 L225.5,231.19 L226.0,230.61 L226.5,230.99 L227.0,231.38 L227.5,230.92 L228.0,231.31 L228.5,230.64 L229.0,230.95 L229.5,231.50 L230.0,231.26 L230.5,231.36 L231.0,230.90 L231.5,231.21 L232.0,231.28 L232.5,231.00 L233.0,231.40 L233.5,231.29 L234.0,231.77 L234.5,231.36 L235.0,231.21 L235.5,230.93 L236.0,230.98 L236.5,231.59 L237.0,230.95 L237.5,230.96 L238.0,231.04 L238.5,231.40 L239.0,231.72 L239.5,231.52 L240.0,231.72 L240.5,230.99 L241.0,230.95 L241.5,231.72 L242.0,231.28 L242.5,231.68 L243.0,231.33 L243.5,231.16 L244.0,231.27 L244.5,231.11 L245.0,231.92 L245.5,231.61 L246.0,231.39 L246.5,231.50 L247.0,231.44 L247.5,231.12 L248.0,231.97 L248.5,231.67 L249.0,232.05 L249.5,231.54 L250.0,231.73 L250.5,231.37 L251.0,231.17 L251.5,232.07 L252.0,232.00 L252.5,231.46 L253.0,232.06 L253.5,231.98 L254.0,231.47 L254.5,231.78 L255.0,232.14 L255.5,231.69 L256.0,232.15 L256.5,231.44 L257.0,231.60 L257.5,231.93 L258.0,231.44 L258.5,231.53 L259.0,232.10 L259.5,231.71 L260.0,232.02 L260.5,231.48 L261.0,231.41 L261.5,231.60 L262.0,231.43 L262.5,232.21 L263.0,231.53 L263.5,231.80 L264.0,231.35 L264.5,231.77 L265.0,231.62 L265.5,231.63 L266.0,231.29 L266.5,231.34 L267.0,232.04 L267.5,231.55 L268.0,231.43 L268.5,231.37 L269.0,231.44 L269.5,231.38 L270.0,231.16 L270.5,231.76 L271.0,231.41 L271.5,231.19 L272.0,231.70 L272.5,231.04 L273.0,231.16 L273.5,231.66 L274.0,230.87 L274.5,231.09 L275.0,231.37 L275.5,231.19 L276.0,230.36 L276.5,230.32 L277.0,230.38 L277.5,229.63 L278.0,229.65 L278.5,228.11 L279.0,227.68 L279.5,225.39 L280.0,221.92 L280.5,215.69 L281.0,199.74 L281.5,165.65 L281.9,138.75 L282.0,138.91 L282.5,160.63 L283.0,183.75 L283.5,202.65 L284.0,214.98 L284.5,221.18 L285.0,225.40 L285.5,226.66 L286.0,228.31 L286.5,229.18 L287.0,229.51 L287.5,230.44 L288.0,230.39 L288.5,230.91 L289.0,231.02 L289.5,230.93 L290.0,231.14 L290.5,230.95 L291.0,231.13 L291.5,231.88 L292.0,231.41 L292.5,231.81 L293.0,231.31 L293.5,231.81 L294.0,231.64 L294.5,231.82 L295.0,231.64 L295.5,231.44 L296.0,231.71 L296.5,231.65 L297.0,231.57 L297.5,232.17 L298.0,231.76 L298.5,231.89 L299.0,232.41 L299.5,232.29 L300.0,232.41 L300.5,232.40 L301.0,231.68 L301.5,231.84 L302.0,231.60 L302.5,232.26 L303.0,232.25 L303.5,231.94 L304.0,232.01 L304.5,232.26 L305.0,232.31 L305.5,231.87 L306.0,232.47 L306.5,231.98 L307.0,232.26 L307.5,231.82 L308.0,231.76 L308.5,232.56 L309.0,232.38 L309.5,232.37 L310.0,231.70 L310.5,231.70 L311.0,231.82 L311.5,231.86 L312.0,231.97 L312.5,232.05 L313.0,231.71 L313.5,231.98 L314.0,232.31 L314.5,231.85 L315.0,232.51 L315.5,232.24 L316.0,232.39 L316.5,231.93 L317.0,232.11 L317.5,232.36 L318.0,232.02 L318.5,231.67 L319.0,232.50 L319.5,232.44 L320.0,231.95 L320.5,231.70 L321.0,232.51 L321.5,232.25 L322.0,231.69 L322.5,231.88 L323.0,231.73 L323.5,232.40 L324.0,231.81 L324.5,232.50 L325.0,232.31 L325.5,231.63 L326.0,232.21 L326.5,231.88 L327.0,232.20 L327.5,232.24 L328.0,231.64 L328.5,231.38 L329.0,232.15 L329.5,231.52 L330.0,231.88 L330.5,231.44 L331.0,231.21 L331.5,230.90 L332.0,230.08 L332.5,228.85 L333.0,226.41 L333.5,222.47 L334.0,212.73 L334.5,203.39 L335.0,208.16 L335.5,213.49 L336.0,219.39 L336.5,223.35 L337.0,227.16 L337.5,229.15 L338.0,229.69 L338.5,230.62 L339.0,231.45 L339.5,231.40 L340.0,231.51 L340.5,231.37 L341.0,231.29 L341.5,231.68 L342.0,231.81 L342.5,231.65 L343.0,231.81 L343.5,231.68 L344.0,232.28 L344.5,232.27 L345.0,231.87 L345.5,231.89 L346.0,232.18 L346.5,232.13 L347.0,232.63 L347.5,232.06 L348.0,232.02 L348.5,232.62 L349.0,231.89 L349.5,232.32 L350.0,232.09 L350.5,232.58 L351.0,232.32 L351.5,232.54 L352.0,231.96 L352.5,232.46 L353.0,232.40 L353.5,232.26 L354.0,232.57 L354.5,232.64 L355.0,231.93 L355.5,232.11 L356.0,232.18 L356.5,232.03 L357.0,231.89 L357.5,232.11 L358.0,232.03 L358.5,232.54 L359.0,232.29 L359.5,231.96 L360.0,232.17 L360.5,232.32 L361.0,232.21 L361.5,232.02 L362.0,231.93 L362.5,231.87 L363.0,232.85 L363.5,232.61 L364.0,231.95 L364.5,232.58 L365.0,232.85 L365.5,232.43 L366.0,231.98 L366.5,232.36 L367.0,232.31 L367.5,232.06 L368.0,232.42 L368.5,231.89 L369.0,232.80 L369.5,232.53 L370.0,232.51 L370.5,232.82 L371.0,232.54 L371.5,232.14 L372.0,232.13 L372.5,232.03 L373.0,231.92 L373.5,232.67 L374.0,232.73 L374.5,232.19 L375.0,232.08 L375.5,232.54 L376.0,232.75 L376.5,232.83 L377.0,232.07 L377.5,232.69 L378.0,232.74 L378.5,232.65 L379.0,232.23 L379.5,232.09 L380.0,232.73 L380.5,232.23 L381.0,232.28 L381.5,232.46 L382.0,232.28 L382.5,232.75 L383.0,232.16 L383.5,231.96 L384.0,232.49 L384.5,232.55 L385.0,232.74 L385.5,232.63 L386.0,232.83 L386.5,232.87 L387.0,232.42 L387.5,232.43 L388.0,232.08 L388.5,232.23 L389.0,232.51 L389.5,232.01 L390.0,232.62 L390.5,232.10 L391.0,232.38 L391.5,232.90 L392.0,232.02 L392.5,231.98 L393.0,232.38 L393.5,232.13 L394.0,232.66 L394.5,231.94 L395.0,232.78 L395.5,232.80 L396.0,232.73 L396.5,232.37 L397.0,232.23 L397.5,232.61 L398.0,232.46 L398.5,232.37 L399.0,232.29 L399.5,232.39 L400.0,232.62 L400.5,232.78 L401.0,232.86 L401.5,232.12 L402.0,232.25 L402.5,232.40 L403.0,232.52 L403.5,232.30 L404.0,232.15 L404.5,232.04 L405.0,232.28 L405.5,232.42 L406.0,232.93 L406.5,232.87 L407.0,232.83 L407.5,232.94 L408.0,232.93 L408.5,232.58 L409.0,232.78 L409.5,232.03 L410.0,232.64 L410.5,232.58 L411.0,232.27 L411.5,232.54 L412.0,232.92 L412.5,232.45 L413.0,232.62 L413.5,232.27 L414.0,232.32 L414.5,232.86 L415.0,232.00 L415.5,232.16 L416.0,232.65 L416.5,232.42 L417.0,232.06 L417.5,232.64 L418.0,232.35 L418.5,232.56 L419.0,232.40 L419.5,232.51 L420.0,232.55 L420.5,232.38 L421.0,232.10 L421.5,232.16 L422.0,232.87 L422.5,232.53 L423.0,232.10 L423.5,232.85 L424.0,232.24 L424.5,232.08 L425.0,232.52 L425.5,232.24 L426.0,232.48 L426.5,232.54 L427.0,232.22 L427.5,232.56 L428.0,232.10 L428.5,232.51 L429.0,232.58 L429.5,232.07 L430.0,232.40 L430.5,232.07 L431.0,232.43 L431.5,232.86 L432.0,232.55 L432.5,232.71 L433.0,232.75 L433.5,232.11 L434.0,232.99 L434.5,232.72 L435.0,232.10 L435.5,232.83 L436.0,232.39 L436.5,232.17 L437.0,232.96 L437.5,232.56 L438.0,232.78 L438.5,232.14 L439.0,232.78 L439.5,232.06 L440.0,232.24 L440.5,232.38 L441.0,232.02 L441.5,232.60 L442.0,232.22 L442.5,232.31 L443.0,232.71 L443.5,232.43 L444.0,232.90 L444.5,232.63 L445.0,232.88 L445.5,232.57 L446.0,232.93 L446.5,232.88 L447.0,232.18 L447.5,232.75 L448.0,232.35 L448.5,232.77 L449.0,232.69 L449.5,232.83 L450.0,232.13 L450.5,232.38 L451.0,232.75 L451.5,232.96 L452.0,232.73 L452.5,232.05 L453.0,232.61 L453.5,232.11 L454.0,232.56 L454.5,232.81 L455.0,232.12 L455.5,232.94 L456.0,232.68 L456.5,232.26 L457.0,232.20 L457.5,232.46 L458.0,232.85 L458.5,232.59 L459.0,232.12 L459.5,232.03 L460.0,232.12 L460.5,232.81 L461.0,232.19 L461.5,232.56 L462.0,232.30 L462.5,232.69 L463.0,232.39 L463.5,232.15 L464.0,232.88 L464.5,232.54 L465.0,232.69 L465.5,232.81 L466.0,232.95 L466.5,232.01 L467.0,232.34 L467.5,232.15 L468.0,232.50 L468.5,232.87 L469.0,232.79 L469.5,232.03 L470.0,232.17 L470.5,232.81 L471.0,232.67 L471.5,232.38 L472.0,232.46 L472.5,232.14 L473.0,232.82 L473.5,232.37 L474.0,232.85 L474.5,232.58 L475.0,232.04 L475.5,232.29 L476.0,232.18 L476.5,232.85 L477.0,232.54 L477.5,231.99 L478.0,232.11 L478.5,232.30 L479.0,232.40 L479.5,232.50 L480.0,232.31 L480.5,232.27 L481.0,231.91 L481.5,232.48 L482.0,232.23 L482.5,231.91 L483.0,232.33 L483.5,232.85 L484.0,231.90 L484.5,231.99 L485.0,232.50 L485.5,232.09 L486.0,232.07 L486.5,232.28 L487.0,232.03 L487.5,232.31 L488.0,232.25 L488.5,232.66 L489.0,232.66 L489.5,231.67 L490.0,232.17 L490.5,232.34 L491.0,232.40 L491.5,232.25 L492.0,232.05 L492.5,231.99 L493.0,231.65 L493.5,231.48 L494.0,231.89 L494.5,231.85 L495.0,231.77 L495.5,231.35 L496.0,230.76 L496.5,230.96 L497.0,230.61 L497.5,229.96 L498.0,229.54 L498.5,228.51 L499.0,227.67 L499.5,225.98 L500.0,223.15 L500.5,219.03 L501.0,210.86 L501.5,197.43 L502.0,179.09 L502.3,173.15 L502.5,173.61 L503.0,184.21 L503.5,193.33 L504.0,197.92 L504.5,202.92 L505.0,210.43 L505.5,216.21 L506.0,220.90 L506.5,224.29 L507.0,226.19 L507.5,227.51 L508.0,228.39 L508.5,229.33 L509.0,229.85 L509.5,230.67 L510.0,230.80 L510.5,231.44 L511.0,231.04 L511.5,231.79 L512.0,231.59 L512.5,231.20 L513.0,231.40 L513.5,231.89 L514.0,232.37 L514.5,231.80 L515.0,232.28 L515.5,231.98 L516.0,232.46 L516.5,231.70 L517.0,232.15 L517.5,232.60 L518.0,232.00 L518.5,232.01 L519.0,231.80 L519.5,231.96 L520.0,232.09 L520.5,232.54 L521.0,232.07 L521.5,232.27 L522.0,232.08 L522.5,232.49 L523.0,232.77 L523.5,232.56 L524.0,232.12 L524.5,232.67 L525.0,232.91 L525.5,232.55 L526.0,232.04 L526.5,232.78 L527.0,232.85 L527.5,232.32 L528.0,232.12 L528.5,232.18 L529.0,232.53 L529.5,232.88 L530.0,232.65 L530.5,232.93 L531.0,232.23 L531.5,232.35 L532.0,232.77 L532.5,232.68 L533.0,232.44 L533.5,232.71 L534.0,232.37 L534.5,232.10 L535.0,232.46 L535.5,232.09 L536.0,232.67 L536.5,232.39 L537.0,232.55 L537.5,232.65 L538.0,232.32 L538.5,232.52 L539.0,232.08 L539.5,232.99 L540.0,232.63 L540.5,233.06 L541.0,232.13 L541.5,232.69 L542.0,232.80 L542.5,232.40 L543.0,232.17 L543.5,232.23 L544.0,232.22 L544.5,232.85 L545.0,232.17 L545.5,232.90 L546.0,232.51 L546.5,232.62 L547.0,232.67 L547.5,232.64 L548.0,232.74 L548.5,232.69 L549.0,232.42 L549.5,232.83 L550.0,232.35 L550.5,232.80 L551.0,232.86 L551.5,232.87 L552.0,232.40 L552.5,232.87 L553.0,233.07 L553.5,232.55 L554.0,232.37 L554.5,232.62 L555.0,233.04 L555.5,232.23 L556.0,232.11 L556.5,232.57 L557.0,232.75 L557.5,232.87 L558.0,232.46 L558.5,233.09 L559.0,232.33 L559.5,232.85 L560.0,232.19 L560.5,232.13 L561.0,232.23 L561.5,232.16 L562.0,232.60 L562.5,232.65 L563.0,232.28 L563.5,233.04 L564.0,232.46 L564.5,232.24 L565.0,232.27 L565.5,232.83 L566.0,233.02 L566.5,232.26 L567.0,232.12 L567.5,232.87 L568.0,232.33 L568.5,233.07 L569.0,232.59 L569.5,232.72 L570.0,232.43 L570.5,232.89 L571.0,232.54 L571.5,232.41 L572.0,232.98 L572.5,232.19 L573.0,232.81 L573.5,232.14 L574.0,232.72 L574.5,232.47 L575.0,232.93 L575.5,232.13 L576.0,232.63 L576.5,232.47 L577.0,232.98 L577.5,233.00 L578.0,232.68 L578.5,232.27 L579.0,232.30 L579.5,232.30 L580.0,232.47 L580.5,232.26 L581.0,232.23 L581.5,232.78 L582.0,232.66 L582.5,232.31 L583.0,233.00 L583.5,232.21 L584.0,232.56 L584.5,232.14 L585.0,232.84 L585.5,232.83 L586.0,232.22 L586.5,232.69 L587.0,232.75 L587.5,232.20 L588.0,232.24 L588.5,232.38 L589.0,232.77 L589.5,232.02 L590.0,232.52 L590.5,232.41 L591.0,232.25 L591.5,232.35 L592.0,232.62 L592.5,231.92 L593.0,232.56 L593.5,231.99 L594.0,232.37 L594.5,232.40 L595.0,231.67 L595.5,232.28 L596.0,232.34 L596.5,231.56 L597.0,231.18 L597.5,231.15 L598.0,231.88 L598.5,230.75 L599.0,231.45 L599.5,230.44 L600.0,230.72 L600.5,229.69 L601.0,229.25 L601.5,229.09 L602.0,227.57 L602.5,226.47 L603.0,224.93 L603.5,221.20 L604.0,215.33 L604.5,205.70 L605.0,191.95 L605.5,183.91 L606.0,188.73 L606.5,197.21 L607.0,201.95 L607.5,204.95 L608.0,207.15 L608.5,211.29 L609.0,215.57 L609.5,219.59 L610.0,223.76 L610.5,225.41 L611.0,227.62 L611.5,228.01 L612.0,229.20 L612.5,229.44 L613.0,230.19 L613.5,230.28 L614.0,231.07 L614.5,230.76 L615.0,231.53 L615.5,231.45 L616.0,231.19 L616.5,231.54 L617.0,231.77 L617.5,232.27 L618.0,231.77 L618.5,231.70 L619.0,232.50 L619.5,232.47 L620.0,232.35 L620.5,231.93 L621.0,231.87 L621.5,231.98 L622.0,231.81 L622.5,231.81 L623.0,232.29 L623.5,232.21 L624.0,232.37 L624.5,232.18 L625.0,231.84 L625.5,232.53 L626.0,232.50 L626.5,232.39 L627.0,232.39 L627.5,232.53 L628.0,232.82 L628.5,232.70 L629.0,232.54 L629.5,232.20 L630.0,232.10 L630.5,232.17 L631.0,232.69 L631.5,232.06 L632.0,232.00 L632.5,231.94 L633.0,231.57 L633.5,232.28 L634.0,231.08 L634.5,231.37 L635.0,231.19 L635.5,229.68 L636.0,228.65 L636.5,226.37 L637.0,224.06 L637.3,223.39 L637.5,223.37 L638.0,225.41 L638.5,226.77 L639.0,227.67 L639.5,227.18 L640.0,228.25 L640.5,228.58 L641.0,229.72 L641.5,230.35 L642.0,230.69 L642.5,231.78 L643.0,231.12 L643.5,232.08 L644.0,232.34 L644.5,232.12 L645.0,232.29 L645.5,232.76 L646.0,232.05 L646.5,232.49 L647.0,232.65 L647.5,232.31 L648.0,232.67 L648.5,232.38 L649.0,232.53 L649.5,232.63 L650.0,232.71 L650.5,232.37 L651.0,232.69 L651.5,232.62 L652.0,232.31 L652.5,232.70 L653.0,232.36 L653.5,233.02 L654.0,232.59 L654.5,232.84 L655.0,232.65 L655.5,232.61 L656.0,232.36 L656.5,232.28 L657.0,233.07 L657.5,232.68 L658.0,232.68 L658.5,232.68 L659.0,232.97 L659.5,232.40 L660.0,232.34 L660.5,232.99 L661.0,232.63 L661.5,232.81 L662.0,233.00 L662.5,233.07 L663.0,233.05 L663.5,232.22 L664.0,232.56 L664.5,233.02 L665.0,233.00 L665.5,232.31 L666.0,232.34 L666.5,232.44 L667.0,232.30 L667.5,232.55 L668.0,233.00 L668.5,232.72 L669.0,232.65 L669.5,232.29 L670.0,232.60 L670.5,233.20 L671.0,232.90 L671.5,232.65 L672.0,232.68 L672.5,233.01 L673.0,232.97 L673.5,232.36 L674.0,232.89 L674.5,232.58 L675.0,232.73 L675.5,232.45 L676.0,232.58 L676.5,232.55 L677.0,232.60 L677.5,232.23 L678.0,232.42 L678.5,232.79 L679.0,232.28 L679.5,232.40 L680.0,232.94 L680.5,232.50 L681.0,232.55 L681.5,232.46 L682.0,233.06 L682.5,232.32 L683.0,232.86 L683.5,233.08 L684.0,232.43 L684.5,232.65 L685.0,233.02 L685.5,232.85 L686.0,232.60 L686.5,232.27 L687.0,232.67 L687.5,232.60 L688.0,232.94 L688.5,232.53 L689.0,232.64 L689.5,232.88 L690.0,233.04 L690.5,232.59 L691.0,232.62 L691.5,232.81 L692.0,233.16 L692.5,232.43 L693.0,233.21 L693.5,232.95 L694.0,232.61 L694.5,232.90 L695.0,232.57 L695.5,232.31 L696.0,232.99 L696.5,232.62 L697.0,232.76 L697.5,232.74 L698.0,233.14 L698.5,233.00 L699.0,232.27 L699.5,232.83 L700.0,232.70 L700.5,232.70 L701.0,233.08 L701.5,232.66 L702.0,232.72 L702.5,233.13 L703.0,232.68 L703.5,232.73 L704.0,232.75 L704.5,233.07 L705.0,232.91 L705.5,232.98 L706.0,232.65 L706.5,232.28 L707.0,232.92 L707.5,232.80 L708.0,233.01 L708.5,233.01 L709.0,232.36 L709.5,232.47 L710.0,232.32 L710.5,233.06 L711.0,232.35 L711.5,232.33 L712.0,233.00 L712.5,232.81 L713.0,232.30 L713.5,232.93 L714.0,232.96 L714.5,232.73 L715.0,232.30 L715.5,232.94 L716.0,232.66 L716.5,232.83 L717.0,233.24 L717.5,233.06 L718.0,233.12 L718.5,232.39 L719.0,232.58 L719.5,232.76 L720.0,232.25 L720.5,233.23 L721.0,232.52 L721.5,232.51 L722.0,232.56 L722.5,232.50 L723.0,233.10 L723.5,232.80 L724.0,232.76 L724.5,232.66 L725.0,232.29 L725.5,232.55 L726.0,233.11 L726.5,233.04 L727.0,233.10 L727.5,232.50 L728.0,232.44 L728.5,232.29 L729.0,232.78 L729.5,232.61 L730.0,232.70 L730.5,232.73 L731.0,232.82 L731.5,232.60 L732.0,233.04 L732.5,232.43 L733.0,233.15 L733.5,232.79 L734.0,232.28 L734.5,232.54 L735.0,232.76 L735.5,232.64 L736.0,232.79 L736.5,232.55 L737.0,232.49 L737.5,233.01 L738.0,232.51 L738.5,232.92 L739.0,233.01 L739.5,232.80 L740.0,232.66 L740.5,233.14 L741.0,232.64 L741.5,233.07 L742.0,232.25 L742.5,232.62 L743.0,232.82 L743.5,232.22 L744.0,233.03 L744.5,232.23 L745.0,232.75 L745.5,232.32 L746.0,233.05 L746.5,232.68 L747.0,232.90 L747.5,232.59 L748.0,232.74 L748.5,232.72 L749.0,232.32 L749.5,232.21 L750.0,232.80 L750.5,232.07 L751.0,232.79 L751.5,232.02 L752.0,231.84 L752.5,231.74 L753.0,232.31 L753.5,232.31 L754.0,231.54 L754.5,231.44 L755.0,230.51 L755.5,230.32 L756.0,228.84 L756.5,226.58 L757.0,224.68 L757.4,224.58 L757.5,223.91 L758.0,225.52 L758.5,226.31 L759.0,227.21 L759.5,228.04 L760.0,227.97 L760.5,228.44 L761.0,228.47 L761.5,229.85 L762.0,229.90 L762.5,230.99 L763.0,230.76 L763.5,231.76 L764.0,232.21 L764.5,231.82 L765.0,231.61 L765.5,232.07 L766.0,232.42 L766.5,232.07 L767.0,232.44 L767.5,232.04 L768.0,232.44 L768.5,232.74 L769.0,232.47 L769.5,232.74 L770.0,232.19 L770.5,232.93 L771.0,232.24 L771.5,233.05 L772.0,233.13 L772.5,233.09 L773.0,232.68 L773.5,232.46 L774.0,232.52 L774.5,232.93 L775.0,232.68 L775.5,233.12 L776.0,232.29 L776.5,232.69 L777.0,233.07 L777.5,232.81 L778.0,232.75 L778.5,232.31 L779.0,232.36 L779.5,232.49 L780.0,233.12 L780.5,233.07 L781.0,232.46 L781.5,233.16 L782.0,232.27 L782.5,232.84 L783.0,233.21 L783.5,232.58 L784.0,233.19 L784.5,232.90 L785.0,232.29 L785.5,232.58 L786.0,232.70 L786.5,232.49 L787.0,232.99 L787.5,232.43 L788.0,233.04 L788.5,232.55 L789.0,232.32 L789.5,232.81 L790.0,232.35 L790.5,232.80 L791.0,233.04 L791.5,232.85 L792.0,232.72 L792.5,232.29 L793.0,232.77 L793.5,232.35 L794.0,232.90 L794.5,232.39 L795.0,232.83 L795.5,232.61 L796.0,232.63 L796.5,232.92 L797.0,232.42 L797.5,232.43 L798.0,233.20 L798.5,232.59 L799.0,233.10 L799.5,233.13 L800.0,232.74 L800.5,232.40 L801.0,232.35 L801.5,233.13 L802.0,232.37 L802.5,232.75 L803.0,232.79 L803.5,232.37 L804.0,232.72 L804.5,232.41 L805.0,232.79 L805.5,232.76 L806.0,232.62 L806.5,232.45 L807.0,232.65 L807.5,232.45 L808.0,232.37 L808.5,232.48 L809.0,233.11 L809.5,232.74 L810.0,233.13 L810.5,232.25 L811.0,233.18 L811.5,232.72 L812.0,233.03 L812.5,232.80 L813.0,232.92 L813.5,232.46 L814.0,232.98 L814.5,232.38 L815.0,232.49 L815.5,232.25 L816.0,232.61 L816.5,232.73 L817.0,232.50 L817.5,233.10 L818.0,232.29 L818.5,232.78 L819.0,232.43 L819.5,232.79 L820.0,232.98 L820.5,232.90 L821.0,232.24 L821.5,232.42 L822.0,232.77 L822.5,233.15 L823.0,232.20 L823.5,232.77 L824.0,232.84 L824.5,232.95 L825.0,232.47 L825.5,232.93 L826.0,232.57 L826.5,233.02 L827.0,232.10 L827.5,233.02 L828.0,232.48 L828.5,232.45 L829.0,232.12 L829.5,232.26 L830.0,232.73 L830.5,232.65 L831.0,232.09 L831.5,232.26 L832.0,232.02 L832.5,232.04 L833.0,232.02 L833.5,232.08 L834.0,232.67 L834.5,232.62 L835.0,232.34 L835.5,231.93 L836.0,231.83 L836.5,231.97 L837.0,231.93 L837.5,231.55 L838.0,231.15 L838.5,230.32 L839.0,230.20 L839.5,229.62 L840.0,228.35 L840.5,225.84 L841.0,223.86 L841.5,220.14 L842.0,216.69 L842.4,216.21 L842.5,215.89 L843.0,217.40 L843.5,219.33 L844.0,222.07 L844.5,223.34 L845.0,223.78 L845.5,223.84 L846.0,224.35 L846.5,225.15 L847.0,226.07 L847.5,227.11 L848.0,228.57 L848.5,229.43 L849.0,230.22 L849.5,230.20 L850.0,231.28 L850.5,231.17 L851.0,231.83 L851.5,231.18 L852.0,232.18 L852.5,232.12 L853.0,231.68 L853.5,232.34 L854.0,231.80 L854.5,231.81 L855.0,232.12 L855.5,231.93 L856.0,232.22 L856.5,232.65 L857.0,232.45 L857.5,232.49 L858.0,232.18 L858.5,232.57 L859.0,232.58 L859.5,232.46 L860.0,232.71 L860.5,232.58 L861.0,232.14 L861.5,231.79 L862.0,232.31 L862.5,232.45 L863.0,231.89 L863.5,232.07 L864.0,232.22 L864.5,232.05 L865.0,231.10 L865.5,231.37 L866.0,230.60 L866.5,230.26 L867.0,230.32 L867.5,228.96 L868.0,227.74 L868.5,225.68 L869.0,223.32 L869.5,221.48 L869.7,221.35 L870.0,222.02 L870.5,223.16 L871.0,224.44 L871.5,225.39 L872.0,226.17 L872.5,226.83 L873.0,226.70 L873.5,227.22 L874.0,227.93 L874.5,227.98 L875.0,229.31 L875.5,229.36 L876.0,230.71 L876.5,230.54 L877.0,230.99 L877.5,231.95 L878.0,231.57 L878.5,231.60 L879.0,232.39 L879.5,232.21 L880.0,232.58 L880.5,232.15 L881.0,232.31 L881.5,232.82 L882.0,232.41 L882.5,232.93 L883.0,232.16 L883.5,232.83 L884.0,232.19 L884.5,232.57 L885.0,232.06 L885.5,232.26 L886.0,233.04 L886.5,232.57 L887.0,232.93 L887.5,232.39 L888.0,232.50 L888.5,232.26 L889.0,232.72 L889.5,233.03 L890.0,232.69 L890.5,232.56 L891.0,233.12 L891.5,233.09 L892.0,232.87 L892.5,232.29 L893.0,232.84 L893.5,232.66 L894.0,233.18 L894.5,232.59 L895.0,232.89 L895.5,232.87 L896.0,232.61 L896.5,232.76 L897.0,232.92 L897.5,233.15 L898.0,232.75 L898.5,232.62 L899.0,233.23 L899.5,232.31 L900.0,233.09 L900.5,232.94 L901.0,232.82 L901.5,232.71 L902.0,233.02 L902.5,233.16 L903.0,233.00 L903.5,233.02 L904.0,232.31 L904.5,232.60 L905.0,232.41 L905.5,233.23 L906.0,233.17 L906.5,232.42 L907.0,232.87 L907.5,232.86 L908.0,232.33 L908.5,232.68 L909.0,233.03 L909.5,232.93 L910.0,232.57 L910.5,233.05 L911.0,232.58 L911.5,232.83 L912.0,232.71 L912.5,233.27 L913.0,232.94 L913.5,233.10 L914.0,232.97 L914.5,232.67 L915.0,233.26 L915.5,233.00 L916.0,232.99 L916.5,232.57 L917.0,232.46 L917.5,232.87 L918.0,233.12 L918.5,233.09 L919.0,232.64 L919.5,232.44 L920.0,232.81 L920.5,233.18 L921.0,232.46 L921.5,233.04 L922.0,232.47 L922.5,232.61 L923.0,232.35 L923.5,232.60 L924.0,232.68 L924.5,233.27 L925.0,233.26 L925.5,232.49 L926.0,232.61 L926.5,233.24 L927.0,232.50 L927.5,232.62 L928.0,232.74 L928.5,232.41 L929.0,232.56 L929.5,232.69 L930.0,232.68 L930.5,233.26 L931.0,232.57 L931.5,232.50 L932.0,233.21 L932.5,232.75 L933.0,233.14 L933.5,232.93 L934.0,233.08 L934.5,232.61 L935.0,232.45 L935.5,233.05 L936.0,232.77 L936.5,232.85 L937.0,232.97 L937.5,233.05 L938.0,232.57 L938.5,232.66 L939.0,233.21 L939.5,232.82 L940.0,232.58 L940.5,232.92 L941.0,232.55 L941.5,233.06 L942.0,232.33 L942.5,233.11 L943.0,232.85 L943.5,232.64 L944.0,233.22 L944.5,232.55 L945.0,232.52 L945.5,232.35 L946.0,232.83 L946.5,233.03 L947.0,232.95 L947.5,232.69 L948.0,233.08 L948.5,232.38 L949.0,232.58 L949.5,232.91 L950.0,233.23 L950.5,232.90 L951.0,232.95 L951.5,233.03 L952.0,232.65 L952.5,233.19 L953.0,232.99 L953.5,232.59 L954.0,232.63 L954.5,233.04 L955.0,232.58 L955.5,232.42 L956.0,233.10 L956.5,232.75 L957.0,232.74 L957.5,232.88 L958.0,233.11 L958.5,232.33 L959.0,232.53 L959.5,232.25 L960.0,232.59 L960.5,232.67 L961.0,233.01 L961.5,232.82 L962.0,232.72 L962.5,232.53 L963.0,232.69 L963.5,232.38 L964.0,232.93 L964.5,232.86 L965.0,232.89 L965.5,232.18 L966.0,232.68 L966.5,232.74 L967.0,232.46 L967.5,232.83 L968.0,232.79 L968.5,232.59 L969.0,232.63 L969.5,232.40 L970.0,232.57 L970.5,231.75 L971.0,232.24 L971.5,232.14 L972.0,231.93 L972.5,231.45 L973.0,231.07 L973.5,231.38 L974.0,231.31 L974.5,230.37 L975.0,229.77 L975.5,229.02 L976.0,227.78 L976.5,226.80 L977.0,224.96 L977.5,222.10 L978.0,218.89 L978.5,217.50 L978.6,216.76 L979.0,217.95 L979.5,219.28 L980.0,221.04 L980.5,223.23 L981.0,223.65 L981.5,224.17 L982.0,224.07 L982.5,224.58 L983.0,225.08 L983.5,226.03 L984.0,226.18 L984.5,227.93 L985.0,228.10 L985.5,228.99 L986.0,230.03 L986.5,230.26 L987.0,230.66 L987.5,231.22 L988.0,231.12 L988.5,231.89 L989.0,231.47 L989.5,232.23 L990.0,232.31 L990.5,232.13 L991.0,231.69 L991.5,232.51 L992.0,231.81 L992.5,232.34 L993.0,232.30 L993.5,231.98 L994.0,232.58 L994.5,232.70 L995.0,232.59 L995.5,232.43 L996.0,232.56 L996.5,232.66 L997.0,232.31 L997.5,232.97 L998.0,233.11 L998.5,232.94 L999.0,233.10 L999.5,232.48 L1000.0,233.15 L1000.5,232.25 L1001.0,232.66" fill="none" stroke="#E030FA" stroke-width="5.2" stroke-linejoin="round" stroke-linecap="round"/>
<path d="M71.5,355.10 L72.0,355.43 L72.5,355.66 L73.0,355.69 L73.5,355.44 L74.0,355.33 L74.5,355.18 L75.0,355.39 L75.5,355.28 L76.0,355.19 L76.5,355.73 L77.0,355.52 L77.5,355.44 L78.0,355.20 L78.5,355.71 L79.0,355.21 L79.5,355.28 L80.0,355.57 L80.5,355.72 L81.0,355.99 L81.5,355.77 L82.0,355.97 L82.5,355.94 L83.0,355.74 L83.5,355.74 L84.0,355.09 L84.5,355.23 L85.0,355.04 L85.5,355.89 L86.0,355.75 L86.5,355.66 L87.0,355.29 L87.5,355.38 L88.0,355.19 L88.5,355.66 L89.0,356.02 L89.5,355.34 L90.0,355.07 L90.5,355.20 L91.0,355.38 L91.5,355.93 L92.0,355.83 L92.5,355.48 L93.0,355.13 L93.5,355.13 L94.0,355.18 L94.5,355.80 L95.0,355.49 L95.5,356.01 L96.0,355.93 L96.5,355.81 L97.0,355.49 L97.5,355.84 L98.0,355.14 L98.5,355.12 L99.0,355.57 L99.5,355.51 L100.0,355.21 L100.5,355.25 L101.0,355.02 L101.5,355.90 L102.0,355.70 L102.5,355.93 L103.0,355.97 L103.5,355.42 L104.0,355.71 L104.5,355.36 L105.0,355.78 L105.5,355.81 L106.0,355.10 L106.5,354.97 L107.0,355.17 L107.5,355.54 L108.0,355.33 L108.5,354.95 L109.0,355.77 L109.5,355.72 L110.0,355.40 L110.5,354.97 L111.0,355.81 L111.5,355.45 L112.0,354.98 L112.5,355.23 L113.0,355.53 L113.5,355.78 L114.0,355.38 L114.5,355.53 L115.0,355.09 L115.5,355.12 L116.0,355.78 L116.5,355.25 L117.0,354.96 L117.5,355.45 L118.0,354.97 L118.5,355.04 L119.0,355.29 L119.5,355.42 L120.0,355.46 L120.5,355.53 L121.0,355.25 L121.5,354.87 L122.0,355.52 L122.5,354.85 L123.0,355.26 L123.5,355.18 L124.0,355.45 L124.5,355.48 L125.0,355.00 L125.5,355.40 L126.0,355.44 L126.5,355.21 L127.0,354.87 L127.5,355.64 L128.0,355.32 L128.5,354.78 L129.0,354.94 L129.5,355.69 L130.0,354.92 L130.5,355.08 L131.0,355.47 L131.5,355.49 L132.0,355.30 L132.5,355.40 L133.0,354.69 L133.5,354.74 L134.0,355.61 L134.5,355.43 L135.0,354.66 L135.5,354.66 L136.0,354.85 L136.5,355.53 L137.0,354.81 L137.5,355.26 L138.0,355.51 L138.5,355.21 L139.0,355.49 L139.5,354.82 L140.0,354.71 L140.5,354.57 L141.0,355.30 L141.5,354.64 L142.0,355.50 L142.5,355.23 L143.0,354.70 L143.5,355.32 L144.0,354.67 L144.5,355.01 L145.0,354.60 L145.5,355.27 L146.0,355.37 L146.5,355.39 L147.0,354.47 L147.5,355.32 L148.0,355.02 L148.5,355.28 L149.0,354.95 L149.5,355.06 L150.0,355.03 L150.5,355.24 L151.0,354.51 L151.5,354.48 L152.0,354.97 L152.5,354.71 L153.0,354.81 L153.5,354.42 L154.0,355.15 L154.5,354.43 L155.0,355.23 L155.5,355.21 L156.0,354.85 L156.5,354.51 L157.0,355.04 L157.5,354.59 L158.0,354.81 L158.5,354.49 L159.0,355.35 L159.5,354.92 L160.0,354.73 L160.5,354.47 L161.0,355.10 L161.5,355.22 L162.0,355.22 L162.5,354.47 L163.0,354.73 L163.5,354.67 L164.0,355.13 L164.5,354.51 L165.0,354.97 L165.5,355.34 L166.0,355.14 L166.5,354.37 L167.0,354.44 L167.5,354.48 L168.0,355.06 L168.5,354.97 L169.0,354.89 L169.5,354.83 L170.0,354.78 L170.5,354.99 L171.0,355.03 L171.5,355.30 L172.0,355.12 L172.5,355.19 L173.0,355.31 L173.5,355.23 L174.0,355.12 L174.5,354.44 L175.0,355.09 L175.5,355.26 L176.0,354.85 L176.5,355.30 L177.0,354.61 L177.5,355.38 L178.0,354.88 L178.5,355.15 L179.0,354.70 L179.5,354.76 L180.0,354.81 L180.5,354.79 L181.0,354.57 L181.5,354.93 L182.0,355.47 L182.5,355.15 L183.0,355.44 L183.5,355.28 L184.0,355.36 L184.5,355.52 L185.0,355.29 L185.5,354.82 L186.0,354.80 L186.5,354.98 L187.0,354.59 L187.5,354.81 L188.0,355.48 L188.5,355.52 L189.0,354.94 L189.5,355.39 L190.0,355.41 L190.5,355.53 L191.0,355.45 L191.5,355.20 L192.0,354.78 L192.5,355.51 L193.0,355.01 L193.5,355.33 L194.0,355.09 L194.5,355.27 L195.0,355.71 L195.5,354.92 L196.0,355.30 L196.5,355.43 L197.0,355.33 L197.5,355.74 L198.0,355.22 L198.5,355.74 L199.0,355.53 L199.5,355.82 L200.0,354.96 L200.5,355.10 L201.0,355.18 L201.5,355.82 L202.0,354.94 L202.5,355.20 L203.0,355.67 L203.5,355.96 L204.0,355.16 L204.5,355.43 L205.0,355.70 L205.5,355.71 L206.0,355.78 L206.5,355.81 L207.0,355.32 L207.5,355.34 L208.0,355.12 L208.5,355.80 L209.0,355.34 L209.5,355.40 L210.0,356.12 L210.5,355.81 L211.0,355.78 L211.5,355.86 L212.0,355.81 L212.5,355.93 L213.0,355.55 L213.5,355.33 L214.0,355.35 L214.5,355.31 L215.0,355.67 L215.5,355.47 L216.0,355.45 L216.5,355.85 L217.0,356.34 L217.5,356.07 L218.0,355.68 L218.5,356.19 L219.0,355.61 L219.5,355.55 L220.0,355.77 L220.5,355.89 L221.0,356.18 L221.5,355.95 L222.0,356.25 L222.5,355.64 L223.0,356.49 L223.5,355.91 L224.0,356.42 L224.5,355.63 L225.0,356.45 L225.5,355.86 L226.0,356.50 L226.5,356.47 L227.0,356.35 L227.5,355.97 L228.0,355.72 L228.5,355.91 L229.0,356.64 L229.5,355.91 L230.0,356.43 L230.5,356.37 L231.0,356.46 L231.5,355.99 L232.0,355.97 L232.5,355.93 L233.0,356.83 L233.5,356.25 L234.0,356.53 L234.5,356.46 L235.0,356.13 L235.5,355.99 L236.0,355.95 L236.5,356.80 L237.0,356.09 L237.5,356.94 L238.0,356.35 L238.5,356.72 L239.0,356.15 L239.5,356.81 L240.0,356.29 L240.5,356.42 L241.0,356.59 L241.5,356.19 L242.0,356.34 L242.5,356.90 L243.0,356.40 L243.5,356.50 L244.0,356.90 L244.5,356.37 L245.0,356.35 L245.5,356.39 L246.0,356.56 L246.5,356.56 L247.0,356.84 L247.5,356.68 L248.0,357.09 L248.5,356.28 L249.0,356.91 L249.5,357.09 L250.0,356.50 L250.5,356.30 L251.0,356.72 L251.5,356.40 L252.0,356.76 L252.5,357.02 L253.0,356.41 L253.5,356.44 L254.0,356.81 L254.5,356.51 L255.0,356.57 L255.5,356.79 L256.0,356.47 L256.5,356.43 L257.0,356.73 L257.5,356.84 L258.0,357.31 L258.5,356.94 L259.0,356.46 L259.5,356.61 L260.0,357.14 L260.5,356.96 L261.0,357.27 L261.5,357.36 L262.0,357.26 L262.5,356.51 L263.0,357.34 L263.5,356.92 L264.0,356.63 L264.5,356.56 L265.0,357.25 L265.5,356.59 L266.0,356.45 L266.5,356.62 L267.0,357.27 L267.5,356.79 L268.0,357.05 L268.5,356.37 L269.0,356.72 L269.5,356.56 L270.0,356.42 L270.5,356.84 L271.0,356.49 L271.5,356.20 L272.0,357.00 L272.5,356.43 L273.0,356.04 L273.5,355.77 L274.0,356.29 L274.5,356.00 L275.0,355.32 L275.5,355.53 L276.0,355.50 L276.5,354.90 L277.0,354.08 L277.5,353.63 L278.0,352.72 L278.5,351.26 L279.0,348.37 L279.5,344.94 L280.0,336.78 L280.5,316.48 L281.0,271.96 L281.4,237.35 L281.5,237.27 L282.0,264.97 L282.5,295.14 L283.0,320.00 L283.5,335.67 L284.0,343.31 L284.5,348.00 L285.0,350.41 L285.5,352.42 L286.0,353.21 L286.5,354.02 L287.0,355.14 L287.5,355.40 L288.0,356.08 L288.5,355.80 L289.0,356.29 L289.5,355.79 L290.0,356.87 L290.5,356.27 L291.0,356.61 L291.5,356.73 L292.0,357.24 L292.5,356.85 L293.0,357.41 L293.5,357.09 L294.0,356.72 L294.5,357.38 L295.0,356.79 L295.5,357.61 L296.0,357.10 L296.5,356.90 L297.0,357.66 L297.5,357.04 L298.0,357.14 L298.5,357.10 L299.0,357.44 L299.5,356.81 L300.0,357.18 L300.5,356.98 L301.0,357.66 L301.5,356.84 L302.0,357.46 L302.5,357.12 L303.0,357.33 L303.5,357.45 L304.0,357.61 L304.5,357.04 L305.0,357.15 L305.5,357.04 L306.0,357.89 L306.5,357.08 L307.0,357.08 L307.5,357.47 L308.0,357.53 L308.5,357.84 L309.0,357.02 L309.5,357.20 L310.0,357.14 L310.5,357.56 L311.0,357.43 L311.5,357.39 L312.0,357.88 L312.5,357.65 L313.0,357.85 L313.5,357.95 L314.0,357.27 L314.5,357.94 L315.0,357.41 L315.5,357.05 L316.0,357.92 L316.5,357.11 L317.0,357.02 L317.5,357.29 L318.0,357.29 L318.5,357.96 L319.0,357.86 L319.5,357.41 L320.0,357.52 L320.5,357.83 L321.0,357.78 L321.5,357.62 L322.0,357.47 L322.5,357.06 L323.0,357.17 L323.5,357.57 L324.0,357.48 L324.5,357.67 L325.0,357.75 L325.5,357.78 L326.0,356.97 L326.5,356.81 L327.0,357.57 L327.5,357.17 L328.0,356.70 L328.5,357.09 L329.0,356.51 L329.5,356.30 L330.0,356.16 L330.5,355.94 L331.0,355.54 L331.5,354.07 L332.0,353.23 L332.5,350.08 L333.0,343.07 L333.5,329.99 L333.9,321.17 L334.0,320.21 L334.5,328.20 L335.0,335.76 L335.5,342.49 L336.0,348.03 L336.5,351.19 L337.0,354.11 L337.5,355.17 L338.0,355.36 L338.5,356.04 L339.0,356.90 L339.5,356.39 L340.0,356.78 L340.5,357.47 L341.0,357.52 L341.5,356.94 L342.0,357.51 L342.5,357.20 L343.0,357.55 L343.5,357.70 L344.0,357.09 L344.5,357.22 L345.0,357.24 L345.5,357.32 L346.0,357.11 L346.5,357.23 L347.0,357.51 L347.5,357.54 L348.0,357.21 L348.5,357.73 L349.0,358.10 L349.5,357.75 L350.0,357.54 L350.5,357.90 L351.0,357.64 L351.5,357.38 L352.0,357.70 L352.5,357.24 L353.0,357.91 L353.5,357.40 L354.0,357.61 L354.5,358.21 L355.0,358.02 L355.5,358.09 L356.0,357.91 L356.5,357.90 L357.0,357.98 L357.5,358.24 L358.0,357.48 L358.5,358.05 L359.0,357.59 L359.5,357.55 L360.0,358.12 L360.5,357.90 L361.0,358.16 L361.5,358.18 L362.0,357.90 L362.5,357.51 L363.0,357.33 L363.5,357.86 L364.0,358.05 L364.5,357.60 L365.0,357.40 L365.5,357.34 L366.0,357.51 L366.5,358.04 L367.0,357.35 L367.5,357.58 L368.0,357.62 L368.5,358.06 L369.0,358.34 L369.5,357.38 L370.0,357.48 L370.5,358.30 L371.0,358.34 L371.5,357.52 L372.0,357.71 L372.5,357.90 L373.0,357.70 L373.5,357.80 L374.0,357.86 L374.5,357.64 L375.0,357.44 L375.5,357.47 L376.0,357.55 L376.5,357.48 L377.0,358.02 L377.5,358.09 L378.0,357.66 L378.5,358.19 L379.0,358.13 L379.5,357.75 L380.0,357.90 L380.5,357.60 L381.0,358.34 L381.5,357.98 L382.0,357.47 L382.5,357.57 L383.0,358.12 L383.5,357.81 L384.0,358.14 L384.5,357.66 L385.0,358.23 L385.5,358.24 L386.0,357.53 L386.5,358.02 L387.0,357.63 L387.5,358.15 L388.0,358.25 L388.5,358.24 L389.0,357.68 L389.5,357.54 L390.0,358.11 L390.5,358.02 L391.0,357.59 L391.5,357.65 L392.0,358.04 L392.5,357.57 L393.0,358.10 L393.5,357.71 L394.0,357.73 L394.5,357.89 L395.0,358.00 L395.5,358.20 L396.0,357.51 L396.5,358.20 L397.0,357.70 L397.5,357.77 L398.0,358.12 L398.5,358.18 L399.0,358.10 L399.5,358.39 L400.0,357.69 L400.5,357.80 L401.0,358.16 L401.5,357.76 L402.0,357.65 L402.5,357.72 L403.0,358.27 L403.5,358.33 L404.0,358.22 L404.5,358.46 L405.0,358.30 L405.5,357.82 L406.0,357.83 L406.5,358.23 L407.0,357.57 L407.5,358.12 L408.0,357.61 L408.5,357.57 L409.0,358.03 L409.5,357.67 L410.0,358.46 L410.5,358.40 L411.0,357.99 L411.5,357.73 L412.0,357.65 L412.5,358.04 L413.0,358.06 L413.5,357.90 L414.0,358.25 L414.5,358.07 L415.0,358.32 L415.5,357.65 L416.0,357.61 L416.5,357.93 L417.0,358.03 L417.5,357.80 L418.0,358.22 L418.5,357.77 L419.0,357.87 L419.5,358.03 L420.0,358.27 L420.5,358.33 L421.0,357.93 L421.5,358.01 L422.0,358.49 L422.5,358.50 L423.0,358.18 L423.5,357.67 L424.0,358.02 L424.5,358.21 L425.0,357.85 L425.5,357.61 L426.0,358.55 L426.5,358.48 L427.0,357.71 L427.5,358.04 L428.0,358.20 L428.5,357.88 L429.0,357.65 L429.5,358.33 L430.0,358.36 L430.5,358.02 L431.0,357.67 L431.5,357.98 L432.0,357.68 L432.5,358.55 L433.0,357.64 L433.5,357.88 L434.0,358.36 L434.5,357.73 L435.0,357.70 L435.5,357.67 L436.0,357.76 L436.5,358.13 L437.0,358.44 L437.5,357.77 L438.0,357.78 L438.5,358.37 L439.0,358.03 L439.5,357.95 L440.0,357.73 L440.5,357.85 L441.0,358.58 L441.5,357.73 L442.0,357.87 L442.5,358.36 L443.0,358.51 L443.5,358.52 L444.0,358.09 L444.5,358.58 L445.0,358.22 L445.5,357.91 L446.0,358.09 L446.5,358.34 L447.0,358.36 L447.5,357.76 L448.0,357.82 L448.5,358.59 L449.0,357.74 L449.5,358.44 L450.0,357.97 L450.5,357.88 L451.0,357.89 L451.5,358.10 L452.0,358.62 L452.5,357.78 L453.0,358.49 L453.5,357.96 L454.0,357.81 L454.5,358.38 L455.0,357.98 L455.5,357.82 L456.0,358.06 L456.5,358.46 L457.0,358.50 L457.5,358.21 L458.0,357.65 L458.5,358.40 L459.0,358.25 L459.5,358.54 L460.0,358.59 L460.5,357.97 L461.0,358.49 L461.5,358.46 L462.0,357.91 L462.5,358.01 L463.0,358.02 L463.5,357.99 L464.0,358.02 L464.5,357.75 L465.0,357.87 L465.5,358.55 L466.0,358.05 L466.5,358.27 L467.0,358.52 L467.5,358.39 L468.0,357.88 L468.5,358.55 L469.0,358.44 L469.5,358.62 L470.0,358.36 L470.5,358.38 L471.0,358.44 L471.5,357.88 L472.0,358.28 L472.5,358.00 L473.0,358.46 L473.5,357.75 L474.0,358.15 L474.5,357.95 L475.0,358.43 L475.5,357.95 L476.0,358.45 L476.5,358.45 L477.0,358.47 L477.5,357.73 L478.0,358.52 L478.5,358.33 L479.0,358.25 L479.5,358.22 L480.0,357.61 L480.5,358.43 L481.0,358.10 L481.5,358.00 L482.0,357.87 L482.5,358.30 L483.0,358.29 L483.5,358.37 L484.0,357.70 L484.5,357.81 L485.0,357.71 L485.5,357.54 L486.0,357.75 L486.5,357.43 L487.0,358.18 L487.5,357.58 L488.0,357.40 L488.5,357.37 L489.0,358.01 L489.5,357.43 L490.0,357.65 L490.5,357.54 L491.0,357.89 L491.5,357.98 L492.0,357.26 L492.5,357.50 L493.0,357.67 L493.5,357.14 L494.0,357.43 L494.5,357.11 L495.0,356.50 L495.5,356.83 L496.0,356.24 L496.5,355.41 L497.0,355.43 L497.5,355.05 L498.0,353.91 L498.5,352.72 L499.0,350.93 L499.5,348.62 L500.0,343.51 L500.5,333.96 L501.0,318.37 L501.5,298.45 L501.8,292.54 L502.0,292.93 L502.5,304.21 L503.0,315.05 L503.5,319.53 L504.0,325.84 L504.5,333.11 L505.0,340.31 L505.5,345.26 L506.0,348.56 L506.5,351.41 L507.0,353.32 L507.5,354.38 L508.0,354.73 L508.5,355.17 L509.0,356.14 L509.5,356.54 L510.0,356.24 L510.5,357.13 L511.0,357.42 L511.5,357.02 L512.0,357.10 L512.5,357.54 L513.0,357.85 L513.5,357.21 L514.0,357.38 L514.5,357.47 L515.0,357.93 L515.5,357.43 L516.0,357.84 L516.5,357.83 L517.0,358.03 L517.5,357.54 L518.0,358.38 L518.5,358.45 L519.0,358.04 L519.5,358.29 L520.0,357.70 L520.5,358.45 L521.0,358.10 L521.5,358.33 L522.0,358.45 L522.5,357.96 L523.0,358.53 L523.5,357.83 L524.0,357.66 L524.5,358.14 L525.0,358.55 L525.5,358.56 L526.0,358.62 L526.5,358.19 L527.0,358.62 L527.5,358.25 L528.0,357.84 L528.5,358.34 L529.0,358.52 L529.5,358.14 L530.0,358.33 L530.5,357.99 L531.0,358.01 L531.5,358.16 L532.0,358.26 L532.5,358.22 L533.0,357.84 L533.5,357.76 L534.0,358.10 L534.5,358.48 L535.0,358.52 L535.5,358.01 L536.0,358.03 L536.5,358.29 L537.0,357.96 L537.5,358.39 L538.0,358.69 L538.5,357.99 L539.0,358.38 L539.5,358.51 L540.0,358.55 L540.5,358.51 L541.0,358.51 L541.5,358.08 L542.0,358.64 L542.5,358.73 L543.0,357.86 L543.5,358.76 L544.0,358.26 L544.5,357.90 L545.0,357.89 L545.5,358.62 L546.0,358.50 L546.5,357.96 L547.0,358.28 L547.5,358.46 L548.0,358.82 L548.5,358.16 L549.0,358.60 L549.5,358.08 L550.0,358.03 L550.5,357.99 L551.0,358.24 L551.5,358.45 L552.0,358.14 L552.5,358.00 L553.0,358.06 L553.5,357.92 L554.0,358.03 L554.5,358.16 L555.0,358.35 L555.5,358.03 L556.0,358.32 L556.5,358.28 L557.0,358.82 L557.5,358.33 L558.0,358.79 L558.5,358.32 L559.0,358.04 L559.5,358.44 L560.0,357.99 L560.5,358.02 L561.0,357.92 L561.5,358.55 L562.0,358.81 L562.5,358.25 L563.0,358.20 L563.5,358.27 L564.0,358.20 L564.5,358.54 L565.0,358.24 L565.5,358.00 L566.0,358.71 L566.5,358.42 L567.0,357.85 L567.5,358.69 L568.0,358.57 L568.5,358.20 L569.0,358.47 L569.5,358.76 L570.0,358.24 L570.5,358.27 L571.0,358.13 L571.5,358.39 L572.0,358.50 L572.5,358.57 L573.0,358.78 L573.5,357.97 L574.0,358.19 L574.5,358.68 L575.0,358.61 L575.5,358.41 L576.0,358.49 L576.5,358.15 L577.0,358.75 L577.5,358.35 L578.0,358.20 L578.5,357.98 L579.0,357.91 L579.5,358.69 L580.0,358.58 L580.5,357.80 L581.0,358.09 L581.5,358.24 L582.0,358.25 L582.5,358.11 L583.0,358.64 L583.5,358.08 L584.0,358.26 L584.5,358.64 L585.0,358.34 L585.5,358.17 L586.0,358.01 L586.5,358.05 L587.0,358.26 L587.5,358.42 L588.0,357.88 L588.5,357.97 L589.0,357.97 L589.5,357.92 L590.0,358.44 L590.5,358.04 L591.0,357.74 L591.5,357.77 L592.0,358.22 L592.5,357.51 L593.0,357.99 L593.5,357.27 L594.0,357.38 L594.5,357.17 L595.0,357.83 L595.5,357.08 L596.0,357.05 L596.5,356.74 L597.0,356.79 L597.5,357.08 L598.0,356.84 L598.5,356.75 L599.0,356.44 L599.5,355.60 L600.0,355.40 L600.5,353.81 L601.0,353.60 L601.5,351.58 L602.0,348.96 L602.5,345.53 L603.0,338.83 L603.5,327.37 L604.0,312.60 L604.5,304.04 L605.0,308.76 L605.5,318.30 L606.0,324.77 L606.5,326.69 L607.0,329.52 L607.5,334.07 L608.0,339.18 L608.5,344.50 L609.0,348.03 L609.5,350.13 L610.0,352.03 L610.5,353.34 L611.0,354.69 L611.5,355.42 L612.0,356.23 L612.5,356.01 L613.0,356.94 L613.5,356.65 L614.0,356.81 L614.5,356.85 L615.0,356.97 L615.5,357.84 L616.0,357.97 L616.5,357.77 L617.0,357.31 L617.5,357.39 L618.0,357.42 L618.5,357.67 L619.0,358.10 L619.5,357.47 L620.0,357.97 L620.5,358.16 L621.0,357.54 L621.5,357.97 L622.0,358.34 L622.5,358.15 L623.0,358.04 L623.5,358.48 L624.0,358.22 L624.5,357.96 L625.0,358.03 L625.5,358.58 L626.0,358.50 L626.5,358.56 L627.0,358.20 L627.5,357.78 L628.0,357.81 L628.5,358.01 L629.0,358.30 L629.5,357.59 L630.0,358.37 L630.5,358.32 L631.0,358.00 L631.5,357.44 L632.0,358.15 L632.5,357.67 L633.0,357.79 L633.5,357.50 L634.0,357.37 L634.5,356.60 L635.0,356.39 L635.5,355.13 L636.0,353.17 L636.5,350.60 L636.9,349.30 L637.0,349.34 L637.5,350.31 L638.0,352.45 L638.5,353.24 L639.0,353.65 L639.5,354.08 L640.0,354.90 L640.5,355.41 L641.0,355.80 L641.5,356.85 L642.0,356.81 L642.5,357.49 L643.0,357.27 L643.5,358.14 L644.0,357.90 L644.5,357.78 L645.0,358.50 L645.5,357.71 L646.0,358.61 L646.5,358.48 L647.0,357.90 L647.5,358.54 L648.0,358.38 L648.5,358.73 L649.0,358.43 L649.5,358.29 L650.0,358.81 L650.5,357.97 L651.0,358.67 L651.5,358.01 L652.0,358.19 L652.5,358.04 L653.0,358.80 L653.5,358.38 L654.0,358.67 L654.5,358.21 L655.0,358.69 L655.5,358.61 L656.0,358.07 L656.5,358.47 L657.0,358.70 L657.5,358.20 L658.0,358.64 L658.5,358.27 L659.0,358.36 L659.5,358.92 L660.0,358.94 L660.5,359.00 L661.0,358.43 L661.5,358.58 L662.0,358.82 L662.5,358.77 L663.0,358.47 L663.5,358.88 L664.0,358.42 L664.5,358.97 L665.0,358.50 L665.5,358.15 L666.0,358.78 L666.5,358.18 L667.0,358.71 L667.5,358.09 L668.0,359.03 L668.5,358.58 L669.0,358.78 L669.5,358.17 L670.0,358.68 L670.5,358.42 L671.0,358.30 L671.5,358.86 L672.0,358.08 L672.5,358.53 L673.0,358.14 L673.5,358.90 L674.0,358.95 L674.5,358.09 L675.0,358.52 L675.5,358.53 L676.0,358.78 L676.5,358.79 L677.0,358.41 L677.5,359.00 L678.0,358.25 L678.5,358.20 L679.0,358.88 L679.5,358.19 L680.0,358.25 L680.5,358.57 L681.0,358.41 L681.5,358.24 L682.0,359.00 L682.5,358.55 L683.0,358.86 L683.5,358.33 L684.0,358.99 L684.5,358.30 L685.0,358.98 L685.5,358.69 L686.0,359.05 L686.5,358.85 L687.0,358.71 L687.5,358.62 L688.0,358.94 L688.5,358.53 L689.0,358.18 L689.5,359.00 L690.0,358.89 L690.5,358.77 L691.0,358.83 L691.5,358.32 L692.0,358.55 L692.5,358.91 L693.0,359.05 L693.5,359.01 L694.0,358.25 L694.5,358.78 L695.0,358.65 L695.5,358.50 L696.0,358.26 L696.5,358.23 L697.0,358.57 L697.5,358.59 L698.0,358.37 L698.5,358.47 L699.0,358.65 L699.5,358.86 L700.0,358.69 L700.5,358.26 L701.0,358.99 L701.5,358.47 L702.0,359.06 L702.5,359.08 L703.0,358.24 L703.5,358.69 L704.0,359.07 L704.5,358.49 L705.0,358.65 L705.5,358.42 L706.0,358.14 L706.5,358.31 L707.0,358.23 L707.5,358.39 L708.0,358.74 L708.5,358.67 L709.0,359.06 L709.5,358.80 L710.0,358.47 L710.5,359.06 L711.0,358.74 L711.5,358.65 L712.0,358.97 L712.5,358.78 L713.0,358.47 L713.5,358.72 L714.0,358.41 L714.5,359.08 L715.0,358.36 L715.5,359.09 L716.0,358.18 L716.5,358.12 L717.0,358.67 L717.5,358.32 L718.0,358.62 L718.5,358.23 L719.0,358.95 L719.5,358.78 L720.0,358.80 L720.5,359.04 L721.0,359.11 L721.5,358.79 L722.0,358.83 L722.5,358.12 L723.0,358.17 L723.5,358.54 L724.0,359.08 L724.5,358.43 L725.0,358.68 L725.5,358.12 L726.0,358.53 L726.5,359.02 L727.0,358.70 L727.5,358.94 L728.0,358.13 L728.5,358.32 L729.0,358.29 L729.5,358.94 L730.0,358.21 L730.5,359.04 L731.0,358.38 L731.5,358.99 L732.0,358.62 L732.5,358.43 L733.0,359.07 L733.5,358.51 L734.0,358.80 L734.5,358.17 L735.0,358.93 L735.5,359.08 L736.0,358.21 L736.5,358.84 L737.0,358.37 L737.5,358.24 L738.0,358.46 L738.5,358.75 L739.0,359.04 L739.5,359.08 L740.0,359.07 L740.5,358.70 L741.0,358.72 L741.5,358.23 L742.0,358.79 L742.5,358.61 L743.0,358.41 L743.5,358.94 L744.0,358.29 L744.5,358.17 L745.0,358.18 L745.5,358.16 L746.0,358.59 L746.5,358.79 L747.0,358.13 L747.5,358.46 L748.0,358.51 L748.5,358.47 L749.0,358.30 L749.5,358.40 L750.0,357.83 L750.5,357.83 L751.0,358.14 L751.5,357.89 L752.0,358.33 L752.5,357.71 L753.0,358.15 L753.5,357.39 L754.0,356.98 L754.5,356.99 L755.0,356.31 L755.5,355.34 L756.0,354.37 L756.5,351.91 L757.0,350.37 L757.4,349.71 L757.5,349.32 L758.0,350.27 L758.5,352.17 L759.0,352.91 L759.5,353.02 L760.0,353.12 L760.5,353.38 L761.0,354.12 L761.5,354.56 L762.0,355.83 L762.5,356.24 L763.0,356.63 L763.5,357.23 L764.0,357.95 L764.5,357.48 L765.0,357.55 L765.5,357.82 L766.0,357.94 L766.5,358.60 L767.0,358.46 L767.5,358.23 L768.0,358.01 L768.5,357.92 L769.0,358.03 L769.5,358.78 L770.0,358.60 L770.5,358.13 L771.0,358.61 L771.5,358.06 L772.0,358.52 L772.5,358.36 L773.0,358.14 L773.5,358.79 L774.0,358.77 L774.5,358.58 L775.0,358.24 L775.5,358.75 L776.0,358.52 L776.5,358.75 L777.0,358.19 L777.5,359.00 L778.0,358.11 L778.5,358.33 L779.0,358.51 L779.5,358.31 L780.0,358.21 L780.5,358.81 L781.0,359.12 L781.5,358.46 L782.0,358.39 L782.5,358.80 L783.0,358.35 L783.5,358.54 L784.0,358.82 L784.5,358.57 L785.0,358.30 L785.5,358.21 L786.0,358.69 L786.5,359.13 L787.0,359.06 L787.5,358.25 L788.0,358.65 L788.5,358.64 L789.0,358.34 L789.5,358.82 L790.0,358.65 L790.5,358.96 L791.0,358.44 L791.5,359.09 L792.0,358.97 L792.5,358.63 L793.0,358.30 L793.5,358.64 L794.0,358.28 L794.5,358.84 L795.0,358.85 L795.5,358.73 L796.0,359.13 L796.5,358.20 L797.0,358.87 L797.5,358.96 L798.0,358.27 L798.5,358.48 L799.0,358.21 L799.5,358.74 L800.0,358.88 L800.5,358.50 L801.0,358.85 L801.5,358.52 L802.0,358.87 L802.5,358.43 L803.0,359.13 L803.5,358.59 L804.0,358.16 L804.5,358.25 L805.0,358.88 L805.5,359.02 L806.0,358.79 L806.5,358.31 L807.0,359.02 L807.5,358.87 L808.0,358.26 L808.5,358.53 L809.0,358.82 L809.5,358.15 L810.0,358.19 L810.5,358.50 L811.0,359.02 L811.5,359.14 L812.0,358.46 L812.5,359.05 L813.0,358.92 L813.5,359.00 L814.0,358.72 L814.5,359.10 L815.0,358.77 L815.5,359.07 L816.0,358.69 L816.5,358.32 L817.0,358.63 L817.5,358.60 L818.0,358.45 L818.5,358.48 L819.0,358.61 L819.5,358.69 L820.0,358.32 L820.5,358.37 L821.0,358.59 L821.5,358.58 L822.0,358.49 L822.5,358.73 L823.0,358.24 L823.5,358.58 L824.0,358.32 L824.5,358.81 L825.0,358.73 L825.5,358.80 L826.0,358.52 L826.5,358.24 L827.0,358.91 L827.5,358.48 L828.0,358.33 L828.5,358.23 L829.0,358.32 L829.5,358.60 L830.0,358.69 L830.5,358.33 L831.0,358.55 L831.5,358.00 L832.0,358.20 L832.5,358.06 L833.0,357.96 L833.5,357.96 L834.0,358.29 L834.5,358.20 L835.0,357.58 L835.5,357.50 L836.0,357.92 L836.5,357.64 L837.0,357.46 L837.5,357.18 L838.0,356.91 L838.5,356.06 L839.0,355.24 L839.5,354.64 L840.0,352.95 L840.5,351.85 L841.0,348.50 L841.5,344.90 L842.0,341.54 L842.4,339.94 L842.5,339.34 L843.0,341.06 L843.5,343.67 L844.0,346.65 L844.5,347.89 L845.0,348.17 L845.5,348.30 L846.0,348.67 L846.5,349.82 L847.0,351.31 L847.5,352.83 L848.0,353.98 L848.5,355.00 L849.0,355.37 L849.5,355.96 L850.0,356.33 L850.5,357.34 L851.0,356.82 L851.5,357.01 L852.0,357.29 L852.5,358.07 L853.0,358.10 L853.5,357.67 L854.0,358.26 L854.5,358.36 L855.0,357.94 L855.5,357.75 L856.0,358.36 L856.5,357.99 L857.0,357.76 L857.5,358.56 L858.0,358.10 L858.5,358.07 L859.0,358.26 L859.5,357.92 L860.0,357.67 L860.5,358.03 L861.0,357.99 L861.5,357.59 L862.0,357.92 L862.5,358.26 L863.0,357.76 L863.5,358.03 L864.0,357.88 L864.5,357.31 L865.0,356.98 L865.5,357.40 L866.0,357.03 L866.5,356.26 L867.0,355.49 L867.5,355.14 L868.0,353.73 L868.5,351.04 L869.0,349.05 L869.5,347.24 L869.7,346.71 L870.0,346.61 L870.5,348.33 L871.0,350.33 L871.5,351.50 L872.0,352.04 L872.5,351.88 L873.0,352.11 L873.5,352.52 L874.0,353.22 L874.5,353.94 L875.0,355.28 L875.5,355.22 L876.0,356.69 L876.5,356.43 L877.0,357.42 L877.5,357.10 L878.0,357.67 L878.5,357.63 L879.0,357.43 L879.5,358.29 L880.0,358.40 L880.5,357.93 L881.0,358.49 L881.5,358.25 L882.0,358.80 L882.5,357.91 L883.0,358.27 L883.5,358.14 L884.0,358.56 L884.5,358.74 L885.0,358.83 L885.5,358.55 L886.0,358.40 L886.5,358.83 L887.0,358.15 L887.5,358.32 L888.0,358.82 L888.5,358.52 L889.0,359.08 L889.5,358.19 L890.0,358.57 L890.5,358.33 L891.0,358.12 L891.5,358.22 L892.0,358.22 L892.5,358.51 L893.0,358.58 L893.5,358.66 L894.0,358.44 L894.5,358.86 L895.0,358.68 L895.5,359.15 L896.0,358.34 L896.5,358.68 L897.0,358.67 L897.5,358.55 L898.0,359.04 L898.5,358.39 L899.0,359.07 L899.5,358.55 L900.0,358.53 L900.5,358.81 L901.0,358.76 L901.5,358.48 L902.0,358.29 L902.5,359.16 L903.0,358.57 L903.5,358.32 L904.0,358.86 L904.5,358.74 L905.0,358.54 L905.5,358.54 L906.0,359.06 L906.5,358.55 L907.0,358.63 L907.5,359.18 L908.0,358.58 L908.5,358.62 L909.0,358.38 L909.5,358.89 L910.0,358.89 L910.5,358.67 L911.0,358.63 L911.5,358.46 L912.0,359.02 L912.5,358.69 L913.0,359.06 L913.5,358.61 L914.0,358.96 L914.5,358.26 L915.0,358.45 L915.5,359.19 L916.0,358.92 L916.5,358.91 L917.0,358.73 L917.5,358.71 L918.0,358.43 L918.5,358.41 L919.0,358.88 L919.5,358.93 L920.0,358.50 L920.5,358.88 L921.0,358.38 L921.5,358.85 L922.0,358.41 L922.5,358.75 L923.0,358.55 L923.5,358.79 L924.0,358.38 L924.5,358.72 L925.0,358.86 L925.5,358.38 L926.0,358.55 L926.5,358.92 L927.0,358.79 L927.5,358.86 L928.0,359.02 L928.5,358.81 L929.0,358.47 L929.5,358.69 L930.0,359.07 L930.5,358.81 L931.0,359.00 L931.5,358.61 L932.0,358.69 L932.5,359.21 L933.0,359.06 L933.5,358.90 L934.0,358.35 L934.5,358.85 L935.0,358.28 L935.5,359.18 L936.0,359.21 L936.5,358.97 L937.0,358.51 L937.5,359.09 L938.0,358.42 L938.5,359.07 L939.0,358.76 L939.5,358.25 L940.0,359.13 L940.5,358.68 L941.0,359.07 L941.5,358.92 L942.0,358.77 L942.5,359.10 L943.0,358.44 L943.5,359.13 L944.0,358.57 L944.5,358.26 L945.0,358.57 L945.5,358.29 L946.0,358.30 L946.5,358.85 L947.0,358.35 L947.5,358.38 L948.0,358.51 L948.5,358.50 L949.0,359.14 L949.5,359.12 L950.0,359.08 L950.5,359.20 L951.0,358.65 L951.5,359.00 L952.0,358.49 L952.5,359.13 L953.0,359.01 L953.5,358.93 L954.0,358.42 L954.5,358.28 L955.0,359.11 L955.5,358.73 L956.0,358.79 L956.5,359.04 L957.0,358.31 L957.5,358.86 L958.0,358.62 L958.5,358.94 L959.0,358.60 L959.5,358.34 L960.0,359.09 L960.5,358.40 L961.0,358.86 L961.5,358.94 L962.0,358.34 L962.5,358.78 L963.0,358.47 L963.5,358.28 L964.0,358.26 L964.5,358.98 L965.0,358.38 L965.5,358.50 L966.0,358.47 L966.5,357.97 L967.0,358.67 L967.5,358.63 L968.0,358.73 L968.5,358.17 L969.0,357.98 L969.5,358.07 L970.0,358.39 L970.5,358.25 L971.0,357.91 L971.5,357.94 L972.0,357.45 L972.5,358.07 L973.0,357.45 L973.5,357.27 L974.0,357.27 L974.5,356.30 L975.0,356.30 L975.5,355.18 L976.0,354.56 L976.5,352.31 L977.0,350.40 L977.5,348.13 L978.0,345.27 L978.5,343.47 L978.6,343.57 L979.0,343.62 L979.5,345.64 L980.0,347.24 L980.5,349.57 L981.0,349.92 L981.5,350.87 L982.0,350.70 L982.5,350.87 L983.0,351.28 L983.5,351.46 L984.0,353.01 L984.5,353.46 L985.0,354.91 L985.5,355.58 L986.0,356.10 L986.5,356.74 L987.0,356.76 L987.5,357.31 L988.0,357.84 L988.5,357.27 L989.0,357.34 L989.5,357.78 L990.0,357.98 L990.5,357.71 L991.0,357.86 L991.5,358.57 L992.0,358.14 L992.5,357.95 L993.0,358.03 L993.5,358.46 L994.0,358.10 L994.5,358.42 L995.0,358.51 L995.5,358.43 L996.0,358.52 L996.5,358.87 L997.0,358.07 L997.5,359.00 L998.0,358.28 L998.5,358.13 L999.0,358.87 L999.5,358.69 L1000.0,358.67 L1000.5,358.35 L1001.0,358.93" fill="none" stroke="#05FF0A" stroke-width="5.2" stroke-linejoin="round" stroke-linecap="round"/>
<path d="M71.5,480.28 L72.0,480.70 L72.5,480.20 L73.0,480.55 L73.5,480.62 L74.0,480.35 L74.5,480.46 L75.0,480.04 L75.5,480.62 L76.0,480.67 L76.5,480.13 L77.0,480.53 L77.5,480.71 L78.0,480.08 L78.5,480.82 L79.0,480.85 L79.5,480.03 L80.0,480.23 L80.5,480.06 L81.0,480.23 L81.5,480.07 L82.0,480.47 L82.5,480.23 L83.0,480.28 L83.5,480.44 L84.0,480.35 L84.5,480.76 L85.0,480.70 L85.5,480.09 L86.0,480.20 L86.5,479.98 L87.0,480.30 L87.5,480.08 L88.0,480.66 L88.5,480.74 L89.0,480.96 L89.5,480.17 L90.0,480.00 L90.5,480.71 L91.0,480.37 L91.5,480.88 L92.0,480.34 L92.5,480.26 L93.0,480.02 L93.5,480.89 L94.0,480.45 L94.5,480.38 L95.0,480.37 L95.5,480.70 L96.0,480.76 L96.5,480.40 L97.0,480.10 L97.5,480.32 L98.0,480.80 L98.5,480.32 L99.0,480.56 L99.5,480.46 L100.0,480.36 L100.5,480.47 L101.0,480.13 L101.5,480.44 L102.0,480.74 L102.5,479.95 L103.0,480.24 L103.5,480.74 L104.0,480.84 L104.5,479.87 L105.0,480.47 L105.5,480.47 L106.0,480.68 L106.5,480.30 L107.0,479.96 L107.5,480.12 L108.0,480.53 L108.5,480.54 L109.0,480.01 L109.5,480.44 L110.0,480.45 L110.5,480.44 L111.0,479.80 L111.5,480.21 L112.0,480.09 L112.5,480.35 L113.0,480.09 L113.5,479.87 L114.0,480.41 L114.5,480.02 L115.0,480.51 L115.5,480.02 L116.0,480.25 L116.5,480.51 L117.0,479.81 L117.5,480.42 L118.0,479.75 L118.5,480.61 L119.0,479.69 L119.5,480.38 L120.0,480.02 L120.5,479.82 L121.0,480.03 L121.5,480.13 L122.0,480.03 L122.5,479.73 L123.0,480.12 L123.5,479.89 L124.0,480.55 L124.5,479.96 L125.0,480.00 L125.5,479.79 L126.0,480.52 L126.5,479.86 L127.0,480.18 L127.5,480.36 L128.0,479.91 L128.5,480.26 L129.0,479.78 L129.5,479.60 L130.0,479.53 L130.5,479.92 L131.0,480.34 L131.5,479.66 L132.0,479.89 L132.5,480.20 L133.0,479.71 L133.5,479.58 L134.0,479.93 L134.5,479.83 L135.0,480.34 L135.5,480.29 L136.0,479.62 L136.5,479.93 L137.0,479.78 L137.5,479.39 L138.0,479.79 L138.5,480.26 L139.0,479.63 L139.5,479.91 L140.0,480.03 L140.5,479.37 L141.0,480.22 L141.5,479.40 L142.0,479.59 L142.5,479.99 L143.0,479.29 L143.5,479.64 L144.0,479.38 L144.5,479.72 L145.0,479.25 L145.5,479.38 L146.0,479.45 L146.5,479.30 L147.0,479.30 L147.5,479.40 L148.0,479.71 L148.5,479.33 L149.0,480.01 L149.5,479.59 L150.0,479.42 L150.5,479.41 L151.0,480.00 L151.5,479.20 L152.0,479.89 L152.5,479.24 L153.0,480.08 L153.5,479.54 L154.0,479.72 L154.5,479.98 L155.0,479.22 L155.5,479.18 L156.0,479.80 L156.5,479.69 L157.0,479.82 L157.5,479.37 L158.0,479.59 L158.5,479.27 L159.0,479.52 L159.5,479.36 L160.0,479.66 L160.5,479.37 L161.0,479.35 L161.5,479.71 L162.0,479.15 L162.5,479.86 L163.0,479.56 L163.5,479.29 L164.0,479.17 L164.5,479.56 L165.0,479.56 L165.5,479.77 L166.0,479.43 L166.5,479.46 L167.0,479.94 L167.5,479.32 L168.0,480.03 L168.5,479.94 L169.0,480.04 L169.5,479.99 L170.0,479.31 L170.5,479.87 L171.0,479.67 L171.5,479.26 L172.0,480.05 L172.5,479.71 L173.0,479.87 L173.5,479.62 L174.0,479.15 L174.5,479.93 L175.0,479.25 L175.5,479.33 L176.0,479.69 L176.5,479.28 L177.0,479.55 L177.5,479.80 L178.0,479.19 L178.5,479.76 L179.0,479.21 L179.5,479.58 L180.0,479.76 L180.5,479.80 L181.0,479.17 L181.5,479.32 L182.0,480.09 L182.5,479.53 L183.0,479.57 L183.5,479.53 L184.0,479.86 L184.5,479.91 L185.0,479.82 L185.5,479.58 L186.0,479.76 L186.5,479.71 L187.0,479.39 L187.5,480.16 L188.0,480.18 L188.5,480.01 L189.0,480.23 L189.5,479.71 L190.0,480.09 L190.5,479.50 L191.0,480.02 L191.5,480.00 L192.0,480.23 L192.5,480.14 L193.0,480.19 L193.5,479.59 L194.0,480.12 L194.5,479.82 L195.0,479.67 L195.5,479.73 L196.0,480.17 L196.5,480.23 L197.0,480.24 L197.5,480.08 L198.0,479.59 L198.5,479.59 L199.0,480.01 L199.5,479.67 L200.0,479.81 L200.5,479.58 L201.0,479.65 L201.5,480.22 L202.0,479.74 L202.5,480.38 L203.0,479.87 L203.5,480.41 L204.0,479.87 L204.5,479.85 L205.0,479.99 L205.5,479.62 L206.0,480.06 L206.5,480.02 L207.0,479.66 L207.5,480.52 L208.0,480.05 L208.5,479.69 L209.0,480.66 L209.5,479.95 L210.0,479.98 L210.5,479.77 L211.0,479.86 L211.5,480.48 L212.0,480.37 L212.5,480.31 L213.0,480.06 L213.5,480.12 L214.0,480.82 L214.5,480.23 L215.0,480.86 L215.5,480.77 L216.0,480.03 L216.5,480.76 L217.0,479.95 L217.5,480.66 L218.0,480.77 L218.5,480.67 L219.0,480.54 L219.5,480.82 L220.0,480.17 L220.5,480.57 L221.0,480.31 L221.5,480.46 L222.0,480.27 L222.5,480.80 L223.0,480.68 L223.5,480.90 L224.0,480.76 L224.5,480.75 L225.0,481.08 L225.5,480.99 L226.0,480.75 L226.5,480.53 L227.0,481.14 L227.5,480.60 L228.0,480.35 L228.5,480.59 L229.0,480.98 L229.5,481.22 L230.0,480.94 L230.5,480.97 L231.0,481.26 L231.5,481.12 L232.0,480.80 L232.5,480.83 L233.0,481.14 L233.5,480.71 L234.0,480.51 L234.5,481.04 L235.0,481.24 L235.5,480.69 L236.0,481.14 L236.5,481.36 L237.0,480.61 L237.5,480.63 L238.0,481.00 L238.5,480.85 L239.0,481.48 L239.5,481.54 L240.0,481.00 L240.5,481.36 L241.0,481.21 L241.5,480.76 L242.0,481.57 L242.5,480.78 L243.0,480.69 L243.5,481.08 L244.0,480.66 L244.5,481.13 L245.0,481.07 L245.5,481.63 L246.0,481.09 L246.5,481.54 L247.0,481.48 L247.5,481.30 L248.0,480.96 L248.5,481.03 L249.0,481.23 L249.5,481.14 L250.0,481.40 L250.5,481.27 L251.0,481.09 L251.5,481.39 L252.0,481.78 L252.5,481.00 L253.0,481.14 L253.5,480.82 L254.0,480.91 L254.5,480.88 L255.0,481.25 L255.5,481.67 L256.0,481.54 L256.5,481.81 L257.0,481.69 L257.5,481.44 L258.0,481.44 L258.5,480.88 L259.0,481.25 L259.5,481.13 L260.0,481.49 L260.5,480.94 L261.0,481.42 L261.5,481.25 L262.0,481.37 L262.5,481.28 L263.0,480.98 L263.5,481.60 L264.0,481.67 L264.5,481.46 L265.0,480.97 L265.5,481.45 L266.0,481.71 L266.5,481.82 L267.0,481.58 L267.5,480.85 L268.0,481.67 L268.5,481.43 L269.0,481.02 L269.5,481.64 L270.0,481.52 L270.5,481.55 L271.0,480.86 L271.5,481.14 L272.0,480.88 L272.5,480.73 L273.0,481.12 L273.5,480.87 L274.0,480.47 L274.5,480.54 L275.0,480.74 L275.5,480.16 L276.0,480.22 L276.5,479.50 L277.0,479.42 L277.5,477.78 L278.0,477.25 L278.5,475.91 L279.0,473.82 L279.5,470.17 L280.0,461.94 L280.5,442.70 L281.0,400.44 L281.4,367.92 L281.5,367.50 L282.0,394.75 L282.5,422.44 L283.0,446.02 L283.5,461.18 L284.0,468.40 L284.5,473.46 L285.0,475.16 L285.5,477.30 L286.0,478.48 L286.5,478.65 L287.0,479.32 L287.5,479.57 L288.0,480.36 L288.5,480.43 L289.0,480.70 L289.5,480.58 L290.0,480.97 L290.5,481.45 L291.0,481.37 L291.5,481.63 L292.0,480.99 L292.5,481.32 L293.0,481.24 L293.5,481.25 L294.0,481.75 L294.5,481.16 L295.0,481.57 L295.5,481.82 L296.0,482.01 L296.5,481.11 L297.0,481.39 L297.5,481.63 L298.0,482.09 L298.5,481.34 L299.0,482.03 L299.5,481.60 L300.0,481.77 L300.5,482.16 L301.0,481.31 L301.5,481.58 L302.0,481.42 L302.5,481.41 L303.0,481.59 L303.5,481.99 L304.0,481.88 L304.5,481.43 L305.0,482.12 L305.5,481.83 L306.0,481.47 L306.5,482.15 L307.0,482.16 L307.5,481.56 L308.0,482.29 L308.5,482.17 L309.0,481.59 L309.5,481.36 L310.0,482.23 L310.5,482.20 L311.0,481.47 L311.5,482.14 L312.0,482.15 L312.5,482.02 L313.0,482.22 L313.5,482.37 L314.0,481.71 L314.5,482.22 L315.0,482.31 L315.5,481.70 L316.0,482.07 L316.5,482.07 L317.0,482.24 L317.5,481.95 L318.0,481.66 L318.5,481.63 L319.0,481.92 L319.5,481.51 L320.0,482.23 L320.5,482.26 L321.0,481.60 L321.5,482.05 L322.0,482.02 L322.5,481.45 L323.0,482.10 L323.5,482.07 L324.0,481.59 L324.5,481.37 L325.0,481.52 L325.5,481.99 L326.0,481.65 L326.5,481.95 L327.0,481.24 L327.5,481.13 L328.0,481.29 L328.5,481.72 L329.0,480.87 L329.5,480.60 L330.0,481.04 L330.5,480.04 L331.0,480.12 L331.5,478.75 L332.0,477.56 L332.5,475.24 L333.0,469.28 L333.5,456.84 L333.9,448.82 L334.0,448.25 L334.5,455.34 L335.0,461.87 L335.5,468.45 L336.0,473.42 L336.5,476.76 L337.0,478.43 L337.5,479.71 L338.0,479.81 L338.5,480.50 L339.0,480.71 L339.5,480.92 L340.0,481.54 L340.5,481.14 L341.0,481.35 L341.5,481.39 L342.0,482.03 L342.5,481.86 L343.0,481.75 L343.5,481.68 L344.0,482.26 L344.5,482.30 L345.0,481.84 L345.5,481.97 L346.0,482.29 L346.5,481.70 L347.0,481.72 L347.5,481.57 L348.0,481.99 L348.5,482.26 L349.0,481.66 L349.5,481.95 L350.0,482.51 L350.5,482.01 L351.0,481.92 L351.5,482.38 L352.0,482.44 L352.5,481.93 L353.0,481.69 L353.5,482.21 L354.0,482.31 L354.5,482.50 L355.0,482.24 L355.5,481.90 L356.0,482.11 L356.5,481.88 L357.0,482.05 L357.5,482.07 L358.0,482.52 L358.5,482.52 L359.0,482.54 L359.5,482.09 L360.0,482.58 L360.5,481.76 L361.0,482.55 L361.5,482.27 L362.0,482.50 L362.5,482.05 L363.0,482.63 L363.5,481.66 L364.0,482.49 L364.5,482.46 L365.0,482.02 L365.5,482.48 L366.0,481.86 L366.5,482.41 L367.0,482.12 L367.5,482.07 L368.0,481.86 L368.5,482.46 L369.0,482.39 L369.5,481.76 L370.0,482.65 L370.5,481.89 L371.0,482.05 L371.5,482.09 L372.0,482.25 L372.5,482.57 L373.0,482.62 L373.5,482.31 L374.0,482.05 L374.5,481.79 L375.0,481.76 L375.5,482.21 L376.0,482.27 L376.5,482.14 L377.0,482.68 L377.5,482.11 L378.0,482.05 L378.5,482.12 L379.0,481.87 L379.5,482.64 L380.0,482.29 L380.5,482.25 L381.0,482.13 L381.5,481.96 L382.0,482.03 L382.5,482.21 L383.0,482.16 L383.5,482.69 L384.0,482.28 L384.5,481.92 L385.0,481.77 L385.5,481.88 L386.0,482.07 L386.5,482.51 L387.0,482.61 L387.5,481.96 L388.0,482.51 L388.5,482.17 L389.0,482.27 L389.5,482.27 L390.0,481.78 L390.5,481.80 L391.0,482.40 L391.5,482.43 L392.0,482.12 L392.5,482.66 L393.0,482.56 L393.5,482.05 L394.0,481.81 L394.5,482.30 L395.0,482.40 L395.5,481.97 L396.0,481.79 L396.5,482.24 L397.0,481.79 L397.5,482.49 L398.0,482.38 L398.5,482.04 L399.0,482.20 L399.5,481.99 L400.0,481.95 L400.5,481.94 L401.0,482.58 L401.5,482.22 L402.0,482.48 L402.5,482.11 L403.0,482.58 L403.5,482.37 L404.0,482.42 L404.5,482.16 L405.0,482.34 L405.5,481.97 L406.0,482.75 L406.5,482.45 L407.0,482.31 L407.5,482.42 L408.0,481.88 L408.5,482.12 L409.0,482.01 L409.5,482.63 L410.0,481.80 L410.5,482.23 L411.0,482.66 L411.5,482.57 L412.0,482.51 L412.5,482.09 L413.0,482.02 L413.5,482.50 L414.0,482.09 L414.5,482.52 L415.0,482.15 L415.5,482.56 L416.0,482.37 L416.5,482.62 L417.0,482.79 L417.5,482.18 L418.0,482.79 L418.5,481.81 L419.0,482.68 L419.5,481.84 L420.0,482.35 L420.5,482.20 L421.0,482.58 L421.5,482.13 L422.0,482.02 L422.5,482.60 L423.0,482.36 L423.5,482.57 L424.0,482.30 L424.5,481.85 L425.0,482.59 L425.5,482.04 L426.0,482.29 L426.5,481.82 L427.0,482.08 L427.5,482.49 L428.0,482.59 L428.5,482.46 L429.0,482.27 L429.5,482.56 L430.0,482.50 L430.5,482.03 L431.0,482.36 L431.5,482.43 L432.0,482.56 L432.5,482.03 L433.0,482.14 L433.5,482.18 L434.0,481.93 L434.5,482.18 L435.0,482.57 L435.5,482.41 L436.0,482.01 L436.5,482.57 L437.0,481.96 L437.5,482.59 L438.0,481.99 L438.5,481.94 L439.0,482.09 L439.5,482.36 L440.0,482.11 L440.5,482.73 L441.0,482.78 L441.5,482.13 L442.0,482.60 L442.5,482.54 L443.0,482.41 L443.5,482.10 L444.0,482.80 L444.5,482.81 L445.0,481.86 L445.5,482.18 L446.0,482.17 L446.5,482.05 L447.0,482.28 L447.5,482.75 L448.0,481.88 L448.5,482.69 L449.0,482.16 L449.5,481.87 L450.0,482.76 L450.5,482.13 L451.0,482.07 L451.5,481.97 L452.0,482.23 L452.5,481.98 L453.0,482.04 L453.5,482.11 L454.0,482.44 L454.5,482.31 L455.0,482.16 L455.5,482.39 L456.0,482.63 L456.5,482.58 L457.0,482.20 L457.5,482.78 L458.0,482.65 L458.5,482.42 L459.0,482.34 L459.5,482.19 L460.0,482.00 L460.5,482.75 L461.0,482.47 L461.5,481.96 L462.0,482.79 L462.5,482.75 L463.0,481.89 L463.5,482.56 L464.0,482.10 L464.5,482.39 L465.0,482.69 L465.5,482.21 L466.0,482.36 L466.5,482.52 L467.0,482.05 L467.5,482.48 L468.0,482.28 L468.5,482.84 L469.0,482.04 L469.5,482.56 L470.0,481.89 L470.5,482.12 L471.0,481.96 L471.5,481.99 L472.0,482.37 L472.5,482.02 L473.0,482.63 L473.5,481.93 L474.0,482.46 L474.5,482.69 L475.0,481.96 L475.5,482.04 L476.0,482.59 L476.5,482.29 L477.0,482.75 L477.5,482.15 L478.0,482.21 L478.5,482.76 L479.0,482.14 L479.5,482.76 L480.0,482.68 L480.5,481.98 L481.0,482.32 L481.5,482.71 L482.0,481.88 L482.5,482.60 L483.0,482.52 L483.5,482.48 L484.0,482.32 L484.5,481.81 L485.0,482.66 L485.5,481.79 L486.0,482.45 L486.5,482.38 L487.0,481.95 L487.5,482.30 L488.0,482.00 L488.5,482.32 L489.0,481.58 L489.5,482.44 L490.0,481.86 L490.5,482.24 L491.0,481.86 L491.5,482.15 L492.0,481.58 L492.5,481.76 L493.0,481.17 L493.5,481.54 L494.0,481.02 L494.5,481.68 L495.0,481.34 L495.5,480.91 L496.0,481.23 L496.5,480.92 L497.0,480.57 L497.5,479.23 L498.0,479.22 L498.5,478.37 L499.0,477.00 L499.5,474.47 L500.0,472.06 L500.5,465.48 L501.0,454.60 L501.5,438.16 L502.0,425.46 L502.5,431.31 L503.0,442.66 L503.5,447.75 L504.0,451.89 L504.5,457.95 L505.0,465.12 L505.5,469.97 L506.0,473.07 L506.5,475.46 L507.0,477.84 L507.5,478.70 L508.0,479.38 L508.5,479.48 L509.0,480.19 L509.5,481.05 L510.0,480.36 L510.5,480.99 L511.0,480.80 L511.5,481.88 L512.0,481.11 L512.5,482.06 L513.0,482.03 L513.5,482.00 L514.0,481.38 L514.5,482.09 L515.0,481.93 L515.5,481.98 L516.0,481.67 L516.5,482.07 L517.0,482.39 L517.5,481.75 L518.0,482.52 L518.5,482.09 L519.0,481.95 L519.5,481.95 L520.0,482.18 L520.5,482.39 L521.0,482.33 L521.5,482.66 L522.0,482.29 L522.5,482.31 L523.0,482.79 L523.5,482.03 L524.0,481.84 L524.5,482.16 L525.0,482.16 L525.5,481.97 L526.0,482.28 L526.5,481.90 L527.0,482.79 L527.5,482.36 L528.0,482.76 L528.5,482.59 L529.0,482.62 L529.5,482.66 L530.0,482.20 L530.5,482.64 L531.0,482.12 L531.5,482.47 L532.0,482.51 L532.5,482.70 L533.0,482.09 L533.5,482.27 L534.0,482.76 L534.5,482.74 L535.0,482.92 L535.5,482.06 L536.0,482.16 L536.5,482.05 L537.0,482.67 L537.5,482.70 L538.0,482.60 L538.5,482.74 L539.0,482.48 L539.5,482.52 L540.0,482.88 L540.5,482.61 L541.0,482.62 L541.5,482.56 L542.0,482.46 L542.5,482.73 L543.0,482.55 L543.5,482.10 L544.0,482.40 L544.5,482.40 L545.0,482.41 L545.5,482.54 L546.0,482.34 L546.5,482.37 L547.0,482.41 L547.5,482.36 L548.0,482.96 L548.5,482.08 L549.0,482.01 L549.5,482.71 L550.0,482.39 L550.5,482.44 L551.0,482.58 L551.5,482.36 L552.0,482.23 L552.5,482.01 L553.0,482.87 L553.5,482.94 L554.0,482.28 L554.5,482.46 L555.0,482.32 L555.5,482.06 L556.0,482.89 L556.5,482.84 L557.0,482.24 L557.5,482.26 L558.0,482.70 L558.5,482.80 L559.0,482.47 L559.5,482.39 L560.0,482.24 L560.5,482.80 L561.0,482.87 L561.5,482.86 L562.0,482.12 L562.5,482.60 L563.0,482.99 L563.5,482.72 L564.0,482.46 L564.5,482.15 L565.0,482.06 L565.5,482.73 L566.0,482.07 L566.5,482.81 L567.0,482.67 L567.5,482.47 L568.0,482.89 L568.5,482.93 L569.0,482.61 L569.5,482.10 L570.0,482.58 L570.5,482.41 L571.0,482.24 L571.5,482.92 L572.0,482.72 L572.5,482.11 L573.0,482.22 L573.5,482.33 L574.0,482.56 L574.5,482.31 L575.0,482.42 L575.5,482.79 L576.0,482.16 L576.5,482.69 L577.0,482.30 L577.5,482.91 L578.0,482.92 L578.5,482.29 L579.0,482.56 L579.5,482.06 L580.0,482.36 L580.5,482.57 L581.0,482.58 L581.5,482.28 L582.0,481.96 L582.5,482.05 L583.0,482.48 L583.5,482.08 L584.0,482.21 L584.5,482.51 L585.0,482.79 L585.5,482.39 L586.0,482.12 L586.5,482.44 L587.0,482.12 L587.5,482.61 L588.0,481.97 L588.5,482.07 L589.0,482.23 L589.5,482.68 L590.0,481.91 L590.5,481.92 L591.0,481.83 L591.5,481.89 L592.0,481.98 L592.5,482.01 L593.0,482.34 L593.5,481.94 L594.0,481.96 L594.5,481.83 L595.0,482.15 L595.5,482.20 L596.0,481.64 L596.5,482.04 L597.0,481.26 L597.5,481.85 L598.0,481.24 L598.5,481.20 L599.0,480.66 L599.5,480.25 L600.0,479.73 L600.5,479.98 L601.0,478.79 L601.5,478.19 L602.0,476.59 L602.5,474.48 L603.0,470.49 L603.5,464.21 L604.0,454.53 L604.5,442.91 L604.9,437.32 L605.0,436.68 L605.5,443.12 L606.0,450.53 L606.5,454.50 L607.0,456.84 L607.5,459.35 L608.0,463.88 L608.5,467.89 L609.0,471.34 L609.5,474.08 L610.0,476.14 L610.5,477.56 L611.0,478.63 L611.5,479.79 L612.0,480.31 L612.5,480.61 L613.0,481.11 L613.5,481.13 L614.0,480.79 L614.5,480.88 L615.0,481.14 L615.5,481.35 L616.0,481.72 L616.5,482.10 L617.0,481.93 L617.5,481.84 L618.0,481.71 L618.5,482.50 L619.0,482.31 L619.5,481.94 L620.0,481.67 L620.5,482.64 L621.0,481.94 L621.5,482.55 L622.0,481.84 L622.5,482.39 L623.0,482.11 L623.5,482.66 L624.0,482.08 L624.5,481.89 L625.0,481.99 L625.5,482.60 L626.0,482.78 L626.5,482.45 L627.0,482.48 L627.5,482.08 L628.0,482.06 L628.5,481.87 L629.0,482.75 L629.5,481.80 L630.0,482.34 L630.5,482.05 L631.0,481.85 L631.5,482.05 L632.0,482.48 L632.5,481.72 L633.0,481.52 L633.5,481.83 L634.0,481.64 L634.5,481.14 L635.0,480.23 L635.5,479.96 L636.0,477.65 L636.5,475.62 L637.0,474.05 L637.1,474.21 L637.5,474.61 L638.0,476.13 L638.5,477.40 L639.0,478.09 L639.5,477.99 L640.0,478.07 L640.5,479.58 L641.0,479.51 L641.5,480.44 L642.0,480.75 L642.5,481.56 L643.0,481.99 L643.5,481.52 L644.0,481.81 L644.5,482.47 L645.0,482.38 L645.5,481.86 L646.0,482.48 L646.5,482.63 L647.0,482.28 L647.5,482.05 L648.0,482.58 L648.5,482.26 L649.0,482.09 L649.5,482.14 L650.0,482.39 L650.5,482.13 L651.0,482.40 L651.5,482.57 L652.0,482.58 L652.5,482.44 L653.0,482.84 L653.5,482.14 L654.0,482.39 L654.5,483.00 L655.0,482.93 L655.5,482.99 L656.0,482.84 L656.5,482.62 L657.0,482.87 L657.5,482.66 L658.0,482.21 L658.5,482.35 L659.0,482.20 L659.5,482.98 L660.0,482.43 L660.5,482.51 L661.0,482.65 L661.5,482.21 L662.0,482.82 L662.5,482.91 L663.0,482.92 L663.5,483.00 L664.0,482.44 L664.5,482.27 L665.0,482.89 L665.5,482.82 L666.0,482.50 L666.5,482.48 L667.0,482.29 L667.5,482.97 L668.0,482.60 L668.5,482.95 L669.0,482.48 L669.5,482.46 L670.0,482.65 L670.5,482.89 L671.0,483.03 L671.5,482.50 L672.0,482.84 L672.5,482.55 L673.0,483.01 L673.5,482.91 L674.0,482.71 L674.5,482.51 L675.0,482.43 L675.5,483.04 L676.0,482.96 L676.5,482.46 L677.0,482.24 L677.5,482.35 L678.0,483.12 L678.5,482.20 L679.0,482.97 L679.5,482.69 L680.0,482.72 L680.5,482.70 L681.0,482.57 L681.5,482.72 L682.0,482.26 L682.5,483.09 L683.0,482.27 L683.5,482.31 L684.0,482.84 L684.5,482.81 L685.0,482.98 L685.5,482.86 L686.0,483.10 L686.5,482.22 L687.0,482.18 L687.5,482.41 L688.0,482.95 L688.5,482.33 L689.0,482.71 L689.5,482.95 L690.0,482.33 L690.5,482.70 L691.0,483.08 L691.5,482.93 L692.0,482.58 L692.5,482.66 L693.0,482.46 L693.5,483.14 L694.0,482.96 L694.5,482.86 L695.0,482.49 L695.5,482.91 L696.0,482.67 L696.5,482.98 L697.0,482.55 L697.5,483.07 L698.0,482.87 L698.5,482.64 L699.0,482.75 L699.5,482.99 L700.0,482.72 L700.5,483.15 L701.0,482.19 L701.5,483.08 L702.0,482.90 L702.5,482.68 L703.0,483.04 L703.5,482.34 L704.0,482.53 L704.5,482.90 L705.0,483.01 L705.5,482.56 L706.0,483.18 L706.5,482.84 L707.0,482.24 L707.5,482.31 L708.0,482.27 L708.5,482.76 L709.0,482.51 L709.5,482.45 L710.0,482.64 L710.5,482.27 L711.0,483.10 L711.5,483.03 L712.0,482.75 L712.5,482.64 L713.0,482.50 L713.5,482.80 L714.0,482.54 L714.5,483.17 L715.0,483.15 L715.5,482.92 L716.0,483.02 L716.5,482.27 L717.0,482.32 L717.5,482.54 L718.0,482.32 L718.5,482.62 L719.0,483.18 L719.5,483.03 L720.0,483.16 L720.5,482.42 L721.0,482.42 L721.5,482.22 L722.0,482.47 L722.5,482.25 L723.0,482.72 L723.5,482.50 L724.0,482.87 L724.5,482.76 L725.0,482.79 L725.5,482.50 L726.0,482.93 L726.5,482.88 L727.0,482.91 L727.5,482.67 L728.0,482.66 L728.5,482.48 L729.0,482.23 L729.5,482.66 L730.0,482.81 L730.5,482.38 L731.0,483.05 L731.5,483.07 L732.0,483.04 L732.5,483.01 L733.0,482.68 L733.5,482.36 L734.0,482.46 L734.5,482.92 L735.0,483.17 L735.5,482.29 L736.0,482.19 L736.5,482.53 L737.0,482.53 L737.5,482.77 L738.0,482.29 L738.5,483.02 L739.0,482.51 L739.5,483.08 L740.0,482.49 L740.5,482.47 L741.0,482.33 L741.5,483.12 L742.0,482.74 L742.5,482.97 L743.0,482.20 L743.5,482.68 L744.0,482.86 L744.5,483.10 L745.0,483.05 L745.5,482.21 L746.0,482.47 L746.5,483.08 L747.0,482.61 L747.5,483.01 L748.0,482.29 L748.5,482.05 L749.0,482.95 L749.5,482.24 L750.0,482.50 L750.5,482.27 L751.0,482.44 L751.5,482.74 L752.0,482.68 L752.5,482.53 L753.0,481.79 L753.5,482.21 L754.0,481.19 L754.5,481.27 L755.0,481.31 L755.5,479.85 L756.0,478.79 L756.5,477.41 L757.0,475.40 L757.4,475.19 L757.5,475.12 L758.0,475.32 L758.5,477.37 L759.0,477.42 L759.5,478.48 L760.0,478.32 L760.5,478.32 L761.0,478.66 L761.5,480.15 L762.0,480.55 L762.5,480.73 L763.0,481.49 L763.5,481.99 L764.0,482.20 L764.5,481.99 L765.0,481.87 L765.5,482.21 L766.0,482.75 L766.5,482.57 L767.0,482.56 L767.5,482.77 L768.0,482.37 L768.5,482.55 L769.0,482.86 L769.5,482.24 L770.0,482.91 L770.5,482.10 L771.0,482.62 L771.5,482.67 L772.0,482.26 L772.5,483.04 L773.0,482.57 L773.5,482.32 L774.0,482.55 L774.5,482.74 L775.0,482.58 L775.5,482.16 L776.0,482.26 L776.5,482.88 L777.0,482.31 L777.5,482.43 L778.0,482.99 L778.5,483.05 L779.0,483.07 L779.5,482.36 L780.0,482.20 L780.5,482.95 L781.0,482.80 L781.5,482.56 L782.0,482.22 L782.5,482.63 L783.0,482.44 L783.5,482.79 L784.0,483.19 L784.5,482.42 L785.0,482.28 L785.5,482.91 L786.0,482.32 L786.5,482.44 L787.0,482.65 L787.5,483.20 L788.0,482.54 L788.5,482.53 L789.0,482.69 L789.5,482.38 L790.0,482.62 L790.5,482.92 L791.0,482.54 L791.5,483.02 L792.0,482.41 L792.5,482.32 L793.0,482.85 L793.5,482.68 L794.0,483.14 L794.5,482.33 L795.0,482.97 L795.5,482.89 L796.0,482.59 L796.5,482.35 L797.0,482.84 L797.5,482.98 L798.0,482.70 L798.5,482.70 L799.0,482.91 L799.5,482.83 L800.0,482.65 L800.5,482.41 L801.0,482.69 L801.5,482.77 L802.0,483.12 L802.5,483.22 L803.0,482.78 L803.5,482.55 L804.0,482.44 L804.5,482.85 L805.0,482.96 L805.5,482.47 L806.0,482.91 L806.5,483.22 L807.0,482.61 L807.5,483.16 L808.0,482.65 L808.5,482.87 L809.0,483.08 L809.5,482.42 L810.0,482.56 L810.5,483.20 L811.0,482.28 L811.5,482.52 L812.0,482.69 L812.5,482.95 L813.0,482.84 L813.5,483.13 L814.0,482.87 L814.5,482.20 L815.0,482.27 L815.5,482.23 L816.0,482.63 L816.5,482.22 L817.0,482.72 L817.5,482.82 L818.0,482.39 L818.5,483.04 L819.0,482.59 L819.5,483.14 L820.0,482.53 L820.5,482.79 L821.0,482.71 L821.5,482.43 L822.0,482.94 L822.5,482.16 L823.0,482.40 L823.5,482.46 L824.0,483.02 L824.5,482.63 L825.0,482.16 L825.5,482.41 L826.0,482.72 L826.5,482.91 L827.0,482.20 L827.5,482.86 L828.0,482.46 L828.5,482.58 L829.0,482.46 L829.5,482.46 L830.0,482.99 L830.5,482.90 L831.0,482.88 L831.5,482.67 L832.0,482.61 L832.5,482.02 L833.0,481.87 L833.5,482.63 L834.0,482.42 L834.5,482.32 L835.0,481.93 L835.5,481.80 L836.0,482.36 L836.5,481.85 L837.0,481.19 L837.5,481.32 L838.0,481.08 L838.5,480.46 L839.0,480.90 L839.5,480.13 L840.0,479.00 L840.5,476.62 L841.0,474.78 L841.5,471.59 L842.0,469.38 L842.4,468.36 L842.5,468.32 L843.0,469.56 L843.5,471.08 L844.0,472.75 L844.5,473.83 L845.0,474.98 L845.5,475.16 L846.0,475.21 L846.5,475.65 L847.0,477.25 L847.5,477.54 L848.0,478.67 L848.5,479.12 L849.0,480.71 L849.5,480.62 L850.0,481.34 L850.5,481.64 L851.0,481.63 L851.5,482.20 L852.0,482.11 L852.5,482.36 L853.0,482.48 L853.5,481.67 L854.0,482.39 L854.5,481.91 L855.0,482.05 L855.5,482.10 L856.0,482.77 L856.5,481.86 L857.0,482.25 L857.5,481.95 L858.0,482.83 L858.5,482.33 L859.0,482.54 L859.5,482.35 L860.0,482.59 L860.5,482.14 L861.0,482.20 L861.5,482.51 L862.0,482.43 L862.5,482.58 L863.0,481.95 L863.5,482.42 L864.0,482.23 L864.5,481.96 L865.0,481.66 L865.5,481.64 L866.0,480.90 L866.5,480.55 L867.0,480.22 L867.5,479.22 L868.0,477.96 L868.5,477.00 L869.0,475.12 L869.5,473.55 L869.7,472.92 L870.0,473.59 L870.5,474.84 L871.0,476.00 L871.5,476.58 L872.0,477.43 L872.5,477.45 L873.0,477.43 L873.5,477.57 L874.0,478.76 L874.5,479.15 L875.0,480.10 L875.5,479.92 L876.0,480.50 L876.5,481.14 L877.0,480.99 L877.5,481.47 L878.0,481.89 L878.5,481.97 L879.0,482.51 L879.5,482.26 L880.0,482.40 L880.5,482.40 L881.0,482.65 L881.5,482.27 L882.0,481.94 L882.5,482.95 L883.0,482.79 L883.5,482.15 L884.0,482.16 L884.5,482.28 L885.0,482.74 L885.5,482.22 L886.0,482.13 L886.5,482.61 L887.0,482.14 L887.5,482.40 L888.0,482.53 L888.5,482.36 L889.0,482.17 L889.5,482.43 L890.0,482.42 L890.5,482.51 L891.0,482.60 L891.5,482.55 L892.0,482.52 L892.5,482.22 L893.0,483.04 L893.5,482.95 L894.0,482.71 L894.5,482.22 L895.0,482.45 L895.5,483.13 L896.0,482.68 L896.5,482.44 L897.0,483.05 L897.5,483.13 L898.0,482.36 L898.5,482.74 L899.0,482.80 L899.5,482.36 L900.0,482.57 L900.5,482.87 L901.0,482.92 L901.5,482.88 L902.0,482.87 L902.5,482.63 L903.0,482.32 L903.5,482.27 L904.0,483.10 L904.5,483.12 L905.0,483.17 L905.5,482.34 L906.0,483.03 L906.5,482.44 L907.0,482.61 L907.5,482.47 L908.0,483.13 L908.5,483.09 L909.0,483.10 L909.5,482.65 L910.0,483.21 L910.5,482.53 L911.0,482.85 L911.5,482.95 L912.0,482.51 L912.5,482.66 L913.0,482.37 L913.5,483.07 L914.0,482.46 L914.5,482.41 L915.0,482.55 L915.5,482.92 L916.0,482.92 L916.5,482.80 L917.0,483.13 L917.5,483.03 L918.0,482.49 L918.5,482.81 L919.0,482.45 L919.5,482.52 L920.0,482.43 L920.5,482.36 L921.0,482.63 L921.5,483.17 L922.0,482.94 L922.5,482.37 L923.0,482.50 L923.5,482.87 L924.0,482.81 L924.5,482.31 L925.0,482.38 L925.5,482.85 L926.0,482.88 L926.5,482.36 L927.0,483.06 L927.5,482.52 L928.0,482.87 L928.5,482.81 L929.0,482.62 L929.5,483.23 L930.0,482.68 L930.5,482.71 L931.0,482.82 L931.5,483.12 L932.0,483.27 L932.5,483.05 L933.0,482.82 L933.5,483.00 L934.0,482.92 L934.5,483.24 L935.0,483.25 L935.5,483.04 L936.0,482.50 L936.5,482.85 L937.0,482.72 L937.5,482.51 L938.0,483.06 L938.5,482.50 L939.0,482.99 L939.5,482.77 L940.0,482.71 L940.5,482.98 L941.0,483.00 L941.5,483.27 L942.0,483.28 L942.5,483.08 L943.0,482.54 L943.5,482.94 L944.0,482.77 L944.5,483.21 L945.0,482.72 L945.5,482.63 L946.0,482.29 L946.5,482.74 L947.0,482.80 L947.5,482.57 L948.0,482.37 L948.5,482.75 L949.0,482.33 L949.5,482.43 L950.0,482.70 L950.5,482.60 L951.0,482.75 L951.5,482.78 L952.0,482.64 L952.5,482.38 L953.0,482.26 L953.5,482.80 L954.0,483.21 L954.5,482.52 L955.0,482.59 L955.5,482.55 L956.0,482.97 L956.5,482.72 L957.0,483.01 L957.5,482.22 L958.0,482.34 L958.5,482.41 L959.0,482.57 L959.5,482.59 L960.0,482.57 L960.5,483.15 L961.0,482.61 L961.5,482.74 L962.0,483.12 L962.5,482.79 L963.0,482.73 L963.5,482.95 L964.0,482.45 L964.5,482.13 L965.0,483.04 L965.5,482.60 L966.0,482.63 L966.5,482.09 L967.0,482.75 L967.5,482.35 L968.0,482.59 L968.5,482.20 L969.0,482.80 L969.5,482.20 L970.0,482.06 L970.5,482.62 L971.0,481.88 L971.5,481.84 L972.0,481.96 L972.5,482.34 L973.0,481.32 L973.5,481.23 L974.0,481.57 L974.5,480.53 L975.0,480.42 L975.5,480.15 L976.0,479.16 L976.5,477.94 L977.0,475.48 L977.5,474.02 L978.0,471.18 L978.5,470.20 L978.6,469.76 L979.0,470.53 L979.5,471.65 L980.0,473.17 L980.5,474.37 L981.0,475.47 L981.5,475.35 L982.0,475.55 L982.5,476.37 L983.0,476.39 L983.5,477.26 L984.0,477.31 L984.5,478.44 L985.0,479.17 L985.5,479.45 L986.0,480.14 L986.5,481.23 L987.0,481.37 L987.5,481.42 L988.0,481.74 L988.5,482.15 L989.0,482.38 L989.5,482.13 L990.0,481.68 L990.5,482.57 L991.0,481.93 L991.5,482.06 L992.0,482.00 L992.5,482.42 L993.0,482.52 L993.5,482.43 L994.0,482.47 L994.5,482.16 L995.0,482.76 L995.5,482.60 L996.0,482.39 L996.5,482.93 L997.0,483.05 L997.5,483.05 L998.0,483.13 L998.5,482.22 L999.0,482.55 L999.5,482.62 L1000.0,482.44 L1000.5,482.93 L1001.0,483.10" fill="none" stroke="#0808FA" stroke-width="5.2" stroke-linejoin="round" stroke-linecap="round"/>
<path d="M71.5,596.11 L72.0,596.48 L72.5,596.95 L73.0,596.87 L73.5,596.44 L74.0,596.09 L74.5,596.45 L75.0,596.52 L75.5,596.79 L76.0,596.19 L76.5,596.29 L77.0,597.00 L77.5,596.03 L78.0,596.63 L78.5,596.12 L79.0,596.77 L79.5,596.45 L80.0,596.96 L80.5,596.26 L81.0,596.91 L81.5,596.27 L82.0,596.09 L82.5,596.13 L83.0,596.12 L83.5,596.44 L84.0,597.02 L84.5,596.41 L85.0,596.77 L85.5,596.09 L86.0,596.57 L86.5,596.60 L87.0,596.16 L87.5,596.64 L88.0,596.51 L88.5,596.39 L89.0,596.89 L89.5,596.76 L90.0,596.19 L90.5,596.17 L91.0,596.12 L91.5,596.33 L92.0,596.70 L92.5,597.04 L93.0,597.04 L93.5,596.93 L94.0,596.19 L94.5,596.86 L95.0,596.83 L95.5,596.54 L96.0,597.06 L96.5,596.66 L97.0,596.18 L97.5,596.28 L98.0,596.19 L98.5,596.67 L99.0,596.68 L99.5,596.92 L100.0,596.07 L100.5,596.07 L101.0,597.03 L101.5,596.31 L102.0,596.31 L102.5,596.91 L103.0,596.16 L103.5,596.84 L104.0,596.94 L104.5,596.60 L105.0,596.64 L105.5,596.04 L106.0,596.64 L106.5,596.64 L107.0,596.80 L107.5,596.54 L108.0,596.13 L108.5,596.24 L109.0,596.66 L109.5,596.09 L110.0,596.11 L110.5,596.25 L111.0,596.79 L111.5,596.54 L112.0,596.35 L112.5,596.95 L113.0,596.56 L113.5,596.21 L114.0,596.54 L114.5,596.82 L115.0,596.33 L115.5,596.39 L116.0,596.53 L116.5,596.94 L117.0,596.58 L117.5,596.12 L118.0,596.52 L118.5,596.25 L119.0,596.40 L119.5,596.63 L120.0,595.93 L120.5,596.42 L121.0,596.22 L121.5,596.50 L122.0,596.71 L122.5,596.35 L123.0,596.51 L123.5,596.16 L124.0,596.12 L124.5,596.37 L125.0,596.39 L125.5,596.07 L126.0,596.61 L126.5,596.34 L127.0,596.19 L127.5,596.08 L128.0,596.66 L128.5,596.72 L129.0,596.75 L129.5,596.05 L130.0,595.87 L130.5,596.42 L131.0,595.81 L131.5,596.63 L132.0,596.45 L132.5,596.10 L133.0,596.20 L133.5,596.44 L134.0,595.91 L134.5,596.11 L135.0,596.52 L135.5,596.41 L136.0,596.31 L136.5,595.82 L137.0,595.93 L137.5,595.96 L138.0,595.73 L138.5,596.33 L139.0,596.26 L139.5,596.61 L140.0,596.23 L140.5,596.59 L141.0,596.13 L141.5,596.18 L142.0,595.93 L142.5,596.11 L143.0,596.58 L143.5,596.12 L144.0,595.63 L144.5,595.98 L145.0,595.82 L145.5,596.24 L146.0,596.12 L146.5,596.08 L147.0,596.53 L147.5,596.36 L148.0,595.68 L148.5,595.62 L149.0,596.28 L149.5,596.18 L150.0,596.23 L150.5,596.07 L151.0,595.60 L151.5,596.02 L152.0,596.40 L152.5,596.16 L153.0,595.60 L153.5,595.68 L154.0,596.45 L154.5,596.09 L155.0,595.71 L155.5,596.25 L156.0,596.46 L156.5,596.40 L157.0,596.18 L157.5,596.34 L158.0,595.62 L158.5,595.99 L159.0,596.34 L159.5,595.87 L160.0,595.67 L160.5,596.39 L161.0,596.23 L161.5,595.53 L162.0,595.58 L162.5,596.08 L163.0,596.47 L163.5,596.14 L164.0,596.40 L164.5,595.63 L165.0,596.10 L165.5,595.71 L166.0,595.86 L166.5,595.68 L167.0,595.99 L167.5,595.58 L168.0,596.19 L168.5,596.18 L169.0,596.44 L169.5,596.31 L170.0,595.62 L170.5,596.41 L171.0,596.09 L171.5,596.49 L172.0,596.05 L172.5,595.64 L173.0,596.27 L173.5,595.74 L174.0,596.55 L174.5,596.11 L175.0,596.48 L175.5,596.08 L176.0,595.92 L176.5,596.26 L177.0,596.31 L177.5,596.07 L178.0,595.89 L178.5,596.04 L179.0,596.34 L179.5,595.86 L180.0,595.80 L180.5,596.13 L181.0,596.31 L181.5,595.73 L182.0,595.94 L182.5,596.65 L183.0,595.95 L183.5,596.47 L184.0,596.01 L184.5,595.80 L185.0,596.21 L185.5,596.60 L186.0,596.52 L186.5,595.80 L187.0,596.46 L187.5,596.39 L188.0,596.26 L188.5,596.45 L189.0,596.32 L189.5,595.99 L190.0,596.52 L190.5,595.96 L191.0,596.15 L191.5,596.71 L192.0,596.43 L192.5,596.39 L193.0,596.60 L193.5,596.39 L194.0,596.30 L194.5,596.48 L195.0,595.96 L195.5,596.30 L196.0,596.00 L196.5,596.97 L197.0,596.90 L197.5,596.66 L198.0,596.18 L198.5,596.89 L199.0,596.33 L199.5,596.86 L200.0,596.72 L200.5,596.69 L201.0,596.84 L201.5,596.38 L202.0,596.96 L202.5,596.69 L203.0,596.91 L203.5,597.01 L204.0,596.44 L204.5,596.61 L205.0,596.58 L205.5,596.31 L206.0,597.12 L206.5,596.95 L207.0,596.77 L207.5,596.84 L208.0,597.19 L208.5,596.39 L209.0,596.70 L209.5,597.04 L210.0,596.91 L210.5,596.88 L211.0,596.66 L211.5,596.64 L212.0,597.10 L212.5,596.79 L213.0,597.40 L213.5,597.38 L214.0,597.47 L214.5,596.79 L215.0,597.04 L215.5,596.65 L216.0,596.92 L216.5,596.65 L217.0,597.10 L217.5,597.57 L218.0,597.39 L218.5,597.01 L219.0,596.93 L219.5,597.61 L220.0,596.74 L220.5,597.55 L221.0,597.58 L221.5,596.81 L222.0,597.71 L222.5,597.42 L223.0,597.18 L223.5,597.23 L224.0,597.43 L224.5,597.36 L225.0,597.72 L225.5,597.76 L226.0,597.21 L226.5,596.91 L227.0,597.69 L227.5,597.58 L228.0,597.60 L228.5,597.03 L229.0,597.05 L229.5,597.89 L230.0,597.37 L230.5,597.49 L231.0,598.01 L231.5,597.24 L232.0,597.70 L232.5,597.14 L233.0,597.65 L233.5,597.85 L234.0,597.28 L234.5,597.90 L235.0,598.12 L235.5,597.99 L236.0,597.97 L236.5,598.14 L237.0,597.92 L237.5,597.77 L238.0,598.06 L238.5,598.06 L239.0,597.89 L239.5,597.94 L240.0,597.47 L240.5,597.64 L241.0,597.64 L241.5,598.19 L242.0,598.12 L242.5,597.64 L243.0,598.36 L243.5,597.44 L244.0,597.45 L244.5,597.73 L245.0,597.49 L245.5,598.38 L246.0,597.80 L246.5,597.84 L247.0,598.32 L247.5,598.00 L248.0,598.11 L248.5,597.93 L249.0,597.96 L249.5,598.47 L250.0,597.80 L250.5,598.06 L251.0,598.02 L251.5,597.70 L252.0,597.71 L252.5,598.08 L253.0,598.38 L253.5,598.02 L254.0,597.66 L254.5,598.54 L255.0,597.75 L255.5,598.51 L256.0,597.68 L256.5,598.29 L257.0,597.79 L257.5,597.91 L258.0,598.08 L258.5,598.42 L259.0,598.10 L259.5,598.09 L260.0,598.08 L260.5,598.20 L261.0,597.96 L261.5,598.64 L262.0,597.88 L262.5,597.82 L263.0,598.24 L263.5,598.04 L264.0,598.41 L264.5,597.73 L265.0,598.36 L265.5,598.05 L266.0,598.60 L266.5,597.97 L267.0,598.09 L267.5,597.97 L268.0,598.17 L268.5,597.90 L269.0,598.27 L269.5,597.99 L270.0,598.26 L270.5,597.82 L271.0,597.95 L271.5,598.01 L272.0,598.12 L272.5,598.00 L273.0,597.70 L273.5,597.28 L274.0,597.20 L274.5,597.11 L275.0,597.00 L275.5,596.81 L276.0,597.04 L276.5,596.41 L277.0,596.56 L277.5,595.33 L278.0,594.56 L278.5,593.36 L279.0,591.58 L279.5,589.23 L280.0,583.70 L280.5,570.97 L281.0,541.48 L281.5,496.35 L281.6,492.02 L282.0,504.83 L282.5,533.42 L283.0,557.46 L283.5,574.01 L284.0,583.92 L284.5,589.68 L285.0,591.97 L285.5,593.95 L286.0,594.53 L286.5,595.99 L287.0,596.64 L287.5,596.57 L288.0,596.89 L288.5,597.29 L289.0,597.23 L289.5,597.35 L290.0,597.41 L290.5,598.08 L291.0,598.00 L291.5,598.52 L292.0,598.60 L292.5,598.57 L293.0,598.70 L293.5,598.64 L294.0,597.87 L294.5,598.01 L295.0,598.89 L295.5,598.82 L296.0,598.59 L296.5,598.62 L297.0,598.46 L297.5,598.47 L298.0,598.21 L298.5,598.63 L299.0,598.37 L299.5,598.23 L300.0,599.00 L300.5,598.71 L301.0,599.03 L301.5,598.46 L302.0,598.75 L302.5,598.46 L303.0,599.03 L303.5,598.42 L304.0,598.86 L304.5,598.78 L305.0,598.56 L305.5,598.32 L306.0,598.73 L306.5,598.78 L307.0,599.08 L307.5,598.47 L308.0,598.46 L308.5,598.59 L309.0,599.09 L309.5,598.52 L310.0,598.93 L310.5,598.33 L311.0,598.39 L311.5,599.02 L312.0,598.81 L312.5,598.43 L313.0,598.79 L313.5,599.26 L314.0,598.72 L314.5,598.88 L315.0,598.75 L315.5,598.84 L316.0,598.38 L316.5,599.22 L317.0,598.91 L317.5,598.68 L318.0,598.62 L318.5,598.52 L319.0,599.27 L319.5,599.17 L320.0,598.71 L320.5,598.93 L321.0,598.87 L321.5,598.51 L322.0,598.34 L322.5,599.03 L323.0,598.45 L323.5,598.84 L324.0,598.28 L324.5,598.27 L325.0,598.39 L325.5,598.85 L326.0,598.78 L326.5,599.13 L327.0,598.75 L327.5,598.56 L328.0,597.99 L328.5,598.85 L329.0,598.27 L329.5,598.50 L330.0,597.49 L330.5,598.02 L331.0,597.28 L331.5,596.45 L332.0,595.71 L332.5,593.68 L333.0,590.53 L333.5,582.07 L334.0,569.98 L334.2,566.65 L334.5,568.86 L335.0,576.29 L335.5,582.32 L336.0,588.19 L336.5,591.72 L337.0,594.69 L337.5,595.90 L338.0,597.27 L338.5,597.74 L339.0,598.04 L339.5,598.14 L340.0,597.99 L340.5,598.78 L341.0,598.95 L341.5,599.02 L342.0,598.48 L342.5,599.02 L343.0,598.92 L343.5,599.13 L344.0,599.12 L344.5,598.81 L345.0,598.77 L345.5,599.20 L346.0,599.08 L346.5,598.98 L347.0,599.33 L347.5,598.50 L348.0,598.50 L348.5,598.96 L349.0,598.61 L349.5,599.36 L350.0,598.62 L350.5,599.42 L351.0,598.77 L351.5,598.69 L352.0,599.32 L352.5,599.25 L353.0,598.99 L353.5,599.18 L354.0,599.14 L354.5,599.54 L355.0,599.11 L355.5,599.15 L356.0,599.07 L356.5,599.03 L357.0,599.31 L357.5,598.74 L358.0,599.32 L358.5,599.56 L359.0,599.40 L359.5,599.19 L360.0,599.00 L360.5,598.75 L361.0,598.75 L361.5,599.20 L362.0,599.54 L362.5,599.53 L363.0,598.85 L363.5,599.42 L364.0,599.48 L364.5,599.16 L365.0,599.54 L365.5,598.87 L366.0,599.03 L366.5,599.21 L367.0,599.42 L367.5,599.15 L368.0,599.00 L368.5,599.57 L369.0,599.10 L369.5,599.13 L370.0,598.94 L370.5,599.20 L371.0,599.43 L371.5,599.08 L372.0,599.39 L372.5,599.22 L373.0,598.74 L373.5,599.70 L374.0,599.02 L374.5,599.28 L375.0,599.70 L375.5,598.95 L376.0,598.81 L376.5,598.95 L377.0,598.91 L377.5,599.61 L378.0,599.27 L378.5,598.80 L379.0,599.03 L379.5,599.28 L380.0,598.94 L380.5,599.08 L381.0,599.68 L381.5,599.22 L382.0,599.01 L382.5,599.38 L383.0,598.89 L383.5,599.30 L384.0,599.43 L384.5,598.88 L385.0,599.34 L385.5,599.10 L386.0,599.54 L386.5,599.41 L387.0,599.71 L387.5,599.41 L388.0,598.99 L388.5,598.99 L389.0,599.51 L389.5,599.62 L390.0,598.88 L390.5,599.23 L391.0,599.10 L391.5,599.29 L392.0,599.70 L392.5,599.39 L393.0,599.57 L393.5,599.59 L394.0,599.11 L394.5,599.45 L395.0,599.21 L395.5,599.31 L396.0,599.37 L396.5,599.51 L397.0,599.01 L397.5,599.69 L398.0,599.01 L398.5,599.16 L399.0,599.70 L399.5,599.84 L400.0,599.22 L400.5,599.81 L401.0,598.90 L401.5,599.82 L402.0,599.07 L402.5,598.90 L403.0,599.63 L403.5,599.03 L404.0,599.63 L404.5,598.88 L405.0,599.00 L405.5,599.24 L406.0,598.97 L406.5,599.35 L407.0,599.23 L407.5,599.63 L408.0,599.38 L408.5,599.86 L409.0,599.74 L409.5,599.07 L410.0,599.81 L410.5,599.79 L411.0,599.47 L411.5,599.43 L412.0,599.08 L412.5,599.23 L413.0,599.13 L413.5,599.11 L414.0,599.53 L414.5,599.24 L415.0,599.68 L415.5,599.49 L416.0,599.75 L416.5,599.01 L417.0,599.77 L417.5,599.43 L418.0,599.56 L418.5,599.17 L419.0,599.63 L419.5,599.34 L420.0,599.66 L420.5,599.52 L421.0,599.08 L421.5,599.24 L422.0,599.69 L422.5,598.96 L423.0,599.58 L423.5,599.49 L424.0,599.66 L424.5,599.28 L425.0,599.43 L425.5,599.43 L426.0,599.70 L426.5,599.03 L427.0,599.47 L427.5,599.22 L428.0,599.55 L428.5,599.22 L429.0,599.17 L429.5,599.20 L430.0,599.86 L430.5,599.33 L431.0,599.85 L431.5,599.71 L432.0,599.24 L432.5,599.53 L433.0,598.99 L433.5,599.91 L434.0,599.61 L434.5,599.10 L435.0,599.50 L435.5,599.48 L436.0,599.66 L436.5,599.28 L437.0,599.90 L437.5,599.61 L438.0,599.07 L438.5,599.81 L439.0,599.88 L439.5,599.30 L440.0,599.71 L440.5,599.86 L441.0,599.88 L441.5,599.07 L442.0,599.84 L442.5,599.25 L443.0,599.81 L443.5,599.70 L444.0,599.48 L444.5,599.91 L445.0,599.82 L445.5,600.01 L446.0,599.97 L446.5,599.59 L447.0,599.75 L447.5,599.69 L448.0,599.42 L448.5,599.52 L449.0,599.53 L449.5,599.24 L450.0,599.29 L450.5,599.87 L451.0,599.87 L451.5,599.73 L452.0,599.72 L452.5,599.54 L453.0,599.60 L453.5,599.70 L454.0,599.04 L454.5,599.48 L455.0,600.00 L455.5,599.24 L456.0,599.50 L456.5,599.11 L457.0,599.29 L457.5,599.86 L458.0,599.07 L458.5,599.84 L459.0,599.84 L459.5,599.91 L460.0,599.30 L460.5,599.97 L461.0,599.41 L461.5,599.49 L462.0,599.99 L462.5,599.59 L463.0,599.72 L463.5,599.15 L464.0,599.05 L464.5,599.31 L465.0,599.15 L465.5,599.87 L466.0,599.29 L466.5,600.00 L467.0,599.72 L467.5,599.24 L468.0,599.75 L468.5,599.36 L469.0,599.57 L469.5,599.12 L470.0,599.87 L470.5,599.83 L471.0,599.62 L471.5,599.73 L472.0,599.38 L472.5,599.16 L473.0,599.36 L473.5,599.77 L474.0,599.59 L474.5,599.16 L475.0,599.27 L475.5,599.50 L476.0,599.03 L476.5,599.06 L477.0,599.46 L477.5,599.14 L478.0,599.90 L478.5,599.13 L479.0,599.75 L479.5,599.79 L480.0,599.30 L480.5,599.52 L481.0,599.97 L481.5,599.59 L482.0,599.35 L482.5,599.93 L483.0,599.20 L483.5,599.89 L484.0,599.23 L484.5,599.33 L485.0,599.21 L485.5,599.54 L486.0,599.75 L486.5,599.54 L487.0,599.02 L487.5,599.80 L488.0,599.51 L488.5,599.27 L489.0,599.59 L489.5,598.81 L490.0,599.27 L490.5,599.41 L491.0,599.36 L491.5,599.20 L492.0,598.53 L492.5,598.88 L493.0,598.59 L493.5,598.83 L494.0,598.51 L494.5,598.44 L495.0,598.36 L495.5,598.22 L496.0,598.29 L496.5,597.38 L497.0,597.00 L497.5,596.41 L498.0,595.68 L498.5,595.51 L499.0,594.26 L499.5,591.43 L500.0,588.19 L500.5,582.33 L501.0,570.70 L501.5,553.33 L502.0,540.58 L502.5,546.29 L503.0,557.03 L503.5,563.25 L504.0,568.08 L504.5,573.86 L505.0,580.72 L505.5,586.30 L506.0,590.33 L506.5,592.37 L507.0,594.05 L507.5,595.40 L508.0,595.97 L508.5,596.58 L509.0,597.00 L509.5,598.04 L510.0,598.40 L510.5,597.78 L511.0,598.72 L511.5,598.91 L512.0,598.85 L512.5,598.60 L513.0,599.22 L513.5,598.56 L514.0,598.59 L514.5,599.56 L515.0,598.88 L515.5,599.62 L516.0,599.50 L516.5,598.83 L517.0,598.91 L517.5,599.49 L518.0,599.02 L518.5,599.56 L519.0,599.59 L519.5,599.17 L520.0,599.44 L520.5,599.19 L521.0,599.87 L521.5,599.64 L522.0,599.71 L522.5,599.66 L523.0,599.11 L523.5,599.94 L524.0,599.85 L524.5,599.59 L525.0,599.68 L525.5,599.59 L526.0,599.86 L526.5,599.65 L527.0,599.40 L527.5,599.64 L528.0,599.35 L528.5,599.14 L529.0,599.67 L529.5,600.02 L530.0,599.88 L530.5,599.37 L531.0,599.68 L531.5,599.75 L532.0,599.76 L532.5,599.64 L533.0,599.69 L533.5,599.88 L534.0,600.07 L534.5,599.71 L535.0,599.98 L535.5,599.88 L536.0,599.33 L536.5,599.47 L537.0,599.53 L537.5,599.57 L538.0,599.71 L538.5,599.52 L539.0,600.22 L539.5,599.96 L540.0,599.60 L540.5,599.93 L541.0,600.16 L541.5,599.40 L542.0,599.87 L542.5,600.20 L543.0,599.62 L543.5,600.12 L544.0,600.05 L544.5,599.57 L545.0,599.39 L545.5,600.06 L546.0,599.67 L546.5,599.61 L547.0,599.72 L547.5,599.99 L548.0,600.15 L548.5,600.18 L549.0,600.03 L549.5,599.44 L550.0,599.64 L550.5,599.27 L551.0,599.47 L551.5,599.61 L552.0,599.45 L552.5,599.75 L553.0,599.41 L553.5,599.93 L554.0,599.69 L554.5,599.52 L555.0,599.96 L555.5,599.61 L556.0,599.30 L556.5,600.12 L557.0,600.04 L557.5,600.16 L558.0,599.58 L558.5,599.55 L559.0,599.98 L559.5,599.43 L560.0,600.25 L560.5,599.94 L561.0,599.83 L561.5,599.34 L562.0,599.57 L562.5,599.71 L563.0,600.27 L563.5,599.43 L564.0,599.88 L564.5,599.37 L565.0,600.26 L565.5,600.04 L566.0,600.10 L566.5,600.04 L567.0,599.47 L567.5,599.53 L568.0,599.33 L568.5,599.84 L569.0,599.37 L569.5,599.47 L570.0,599.46 L570.5,600.20 L571.0,600.07 L571.5,599.57 L572.0,600.25 L572.5,599.44 L573.0,599.42 L573.5,599.66 L574.0,600.08 L574.5,599.37 L575.0,600.06 L575.5,599.81 L576.0,600.07 L576.5,599.60 L577.0,599.31 L577.5,599.36 L578.0,599.98 L578.5,599.76 L579.0,600.01 L579.5,599.45 L580.0,599.52 L580.5,599.45 L581.0,600.08 L581.5,599.93 L582.0,599.38 L582.5,599.94 L583.0,599.25 L583.5,599.67 L584.0,599.45 L584.5,599.95 L585.0,599.90 L585.5,599.85 L586.0,599.36 L586.5,599.19 L587.0,599.78 L587.5,599.82 L588.0,599.12 L588.5,599.93 L589.0,599.97 L589.5,599.42 L590.0,599.56 L590.5,599.67 L591.0,599.92 L591.5,599.61 L592.0,599.45 L592.5,599.66 L593.0,599.35 L593.5,598.84 L594.0,599.31 L594.5,599.12 L595.0,598.97 L595.5,598.96 L596.0,598.70 L596.5,598.69 L597.0,599.00 L597.5,599.00 L598.0,598.40 L598.5,598.58 L599.0,597.60 L599.5,597.68 L600.0,597.50 L600.5,597.00 L601.0,595.90 L601.5,594.69 L602.0,594.02 L602.5,591.36 L603.0,587.49 L603.5,580.54 L604.0,569.83 L604.5,557.55 L604.9,551.58 L605.0,551.96 L605.5,557.84 L606.0,566.11 L606.5,570.54 L607.0,573.01 L607.5,575.12 L608.0,580.15 L608.5,584.29 L609.0,588.23 L609.5,590.81 L610.0,592.87 L610.5,595.00 L611.0,596.09 L611.5,596.79 L612.0,596.93 L612.5,597.59 L613.0,598.20 L613.5,598.34 L614.0,598.82 L614.5,598.18 L615.0,599.01 L615.5,598.37 L616.0,599.09 L616.5,599.09 L617.0,598.71 L617.5,599.12 L618.0,599.43 L618.5,599.68 L619.0,598.93 L619.5,599.40 L620.0,599.72 L620.5,599.08 L621.0,599.88 L621.5,599.95 L622.0,599.38 L622.5,599.26 L623.0,599.21 L623.5,599.30 L624.0,599.51 L624.5,599.81 L625.0,600.05 L625.5,599.68 L626.0,600.08 L626.5,599.55 L627.0,599.78 L627.5,599.12 L628.0,599.54 L628.5,599.13 L629.0,599.23 L629.5,599.89 L630.0,599.18 L630.5,599.33 L631.0,599.52 L631.5,599.47 L632.0,598.92 L632.5,598.92 L633.0,599.37 L633.5,598.95 L634.0,598.41 L634.5,598.45 L635.0,597.77 L635.5,597.44 L636.0,594.95 L636.5,593.01 L637.0,591.28 L637.1,591.64 L637.5,592.48 L638.0,593.74 L638.5,594.16 L639.0,595.11 L639.5,595.25 L640.0,596.37 L640.5,596.82 L641.0,597.46 L641.5,597.74 L642.0,598.39 L642.5,598.83 L643.0,598.93 L643.5,599.30 L644.0,598.95 L644.5,599.38 L645.0,600.02 L645.5,599.49 L646.0,599.65 L646.5,599.94 L647.0,600.03 L647.5,599.98 L648.0,599.65 L648.5,600.00 L649.0,599.51 L649.5,599.94 L650.0,599.35 L650.5,599.54 L651.0,599.53 L651.5,599.72 L652.0,600.12 L652.5,599.41 L653.0,600.27 L653.5,599.49 L654.0,600.36 L654.5,600.36 L655.0,600.03 L655.5,600.27 L656.0,600.37 L656.5,599.88 L657.0,600.29 L657.5,599.48 L658.0,600.23 L658.5,600.10 L659.0,600.23 L659.5,599.61 L660.0,599.54 L660.5,599.99 L661.0,600.07 L661.5,600.16 L662.0,599.65 L662.5,600.04 L663.0,600.44 L663.5,599.73 L664.0,600.30 L664.5,600.44 L665.0,600.16 L665.5,599.93 L666.0,599.91 L666.5,599.96 L667.0,599.62 L667.5,599.57 L668.0,599.78 L668.5,599.67 L669.0,600.40 L669.5,599.86 L670.0,600.38 L670.5,600.07 L671.0,600.40 L671.5,600.40 L672.0,600.22 L672.5,599.96 L673.0,599.76 L673.5,600.08 L674.0,599.83 L674.5,600.34 L675.0,599.56 L675.5,600.15 L676.0,599.86 L676.5,599.94 L677.0,600.06 L677.5,600.51 L678.0,600.52 L678.5,599.88 L679.0,600.48 L679.5,600.48 L680.0,600.05 L680.5,600.09 L681.0,599.73 L681.5,600.32 L682.0,600.02 L682.5,600.30 L683.0,600.46 L683.5,600.16 L684.0,600.23 L684.5,600.09 L685.0,599.67 L685.5,600.00 L686.0,599.60 L686.5,599.72 L687.0,600.52 L687.5,599.92 L688.0,599.68 L688.5,599.98 L689.0,599.61 L689.5,600.15 L690.0,599.78 L690.5,599.77 L691.0,600.19 L691.5,600.48 L692.0,599.56 L692.5,600.27 L693.0,600.13 L693.5,600.04 L694.0,599.98 L694.5,599.57 L695.0,599.91 L695.5,600.08 L696.0,599.89 L696.5,600.55 L697.0,599.90 L697.5,600.40 L698.0,600.37 L698.5,600.35 L699.0,600.05 L699.5,600.06 L700.0,600.41 L700.5,599.68 L701.0,599.79 L701.5,599.58 L702.0,600.06 L702.5,600.02 L703.0,600.52 L703.5,600.50 L704.0,599.97 L704.5,600.06 L705.0,599.67 L705.5,600.32 L706.0,600.09 L706.5,599.74 L707.0,600.45 L707.5,599.61 L708.0,599.76 L708.5,600.05 L709.0,600.57 L709.5,599.71 L710.0,599.84 L710.5,600.37 L711.0,599.91 L711.5,600.50 L712.0,599.59 L712.5,599.81 L713.0,599.89 L713.5,600.43 L714.0,599.68 L714.5,600.25 L715.0,600.47 L715.5,600.55 L716.0,600.39 L716.5,599.63 L717.0,600.06 L717.5,599.80 L718.0,599.70 L718.5,599.82 L719.0,600.32 L719.5,600.16 L720.0,599.71 L720.5,599.87 L721.0,599.65 L721.5,600.51 L722.0,600.34 L722.5,600.05 L723.0,600.54 L723.5,600.56 L724.0,599.79 L724.5,599.84 L725.0,599.77 L725.5,600.21 L726.0,600.18 L726.5,600.10 L727.0,600.36 L727.5,600.11 L728.0,599.90 L728.5,600.25 L729.0,600.53 L729.5,599.63 L730.0,600.07 L730.5,599.72 L731.0,600.33 L731.5,600.01 L732.0,600.42 L732.5,600.25 L733.0,600.54 L733.5,600.16 L734.0,600.17 L734.5,600.55 L735.0,600.38 L735.5,599.91 L736.0,599.67 L736.5,600.49 L737.0,599.63 L737.5,600.49 L738.0,600.50 L738.5,600.22 L739.0,600.51 L739.5,600.16 L740.0,600.30 L740.5,600.15 L741.0,599.77 L741.5,599.62 L742.0,600.28 L742.5,599.99 L743.0,599.65 L743.5,600.08 L744.0,599.78 L744.5,599.77 L745.0,600.38 L745.5,600.11 L746.0,600.23 L746.5,600.29 L747.0,599.89 L747.5,599.89 L748.0,599.86 L748.5,599.76 L749.0,600.16 L749.5,600.24 L750.0,599.62 L750.5,599.99 L751.0,599.45 L751.5,599.18 L752.0,599.78 L752.5,599.78 L753.0,599.21 L753.5,599.71 L754.0,599.21 L754.5,598.47 L755.0,598.38 L755.5,597.63 L756.0,595.67 L756.5,594.72 L757.0,592.45 L757.4,591.55 L757.5,591.64 L758.0,592.61 L758.5,593.93 L759.0,594.66 L759.5,594.90 L760.0,595.67 L760.5,595.98 L761.0,596.39 L761.5,596.71 L762.0,597.81 L762.5,597.54 L763.0,598.11 L763.5,598.35 L764.0,599.15 L764.5,599.32 L765.0,599.17 L765.5,599.58 L766.0,599.14 L766.5,599.24 L767.0,600.23 L767.5,600.19 L768.0,599.41 L768.5,600.03 L769.0,599.91 L769.5,599.96 L770.0,600.29 L770.5,600.10 L771.0,600.42 L771.5,600.17 L772.0,600.42 L772.5,599.63 L773.0,600.35 L773.5,599.85 L774.0,600.46 L774.5,600.34 L775.0,600.52 L775.5,600.32 L776.0,599.96 L776.5,600.09 L777.0,600.36 L777.5,599.64 L778.0,600.12 L778.5,600.15 L779.0,600.31 L779.5,599.94 L780.0,600.20 L780.5,600.33 L781.0,599.98 L781.5,600.28 L782.0,600.51 L782.5,599.98 L783.0,600.14 L783.5,600.10 L784.0,600.45 L784.5,599.88 L785.0,599.90 L785.5,600.01 L786.0,600.27 L786.5,599.77 L787.0,600.60 L787.5,600.13 L788.0,600.35 L788.5,600.04 L789.0,599.65 L789.5,600.01 L790.0,600.20 L790.5,599.72 L791.0,600.61 L791.5,600.22 L792.0,600.09 L792.5,599.66 L793.0,599.88 L793.5,599.97 L794.0,600.28 L794.5,599.81 L795.0,600.12 L795.5,599.90 L796.0,600.20 L796.5,600.32 L797.0,600.15 L797.5,600.38 L798.0,600.26 L798.5,599.72 L799.0,600.29 L799.5,600.12 L800.0,600.39 L800.5,600.57 L801.0,599.98 L801.5,600.48 L802.0,599.86 L802.5,600.28 L803.0,599.64 L803.5,600.46 L804.0,600.08 L804.5,600.09 L805.0,600.13 L805.5,600.00 L806.0,599.86 L806.5,600.32 L807.0,600.26 L807.5,599.68 L808.0,599.90 L808.5,600.56 L809.0,599.91 L809.5,599.92 L810.0,600.20 L810.5,599.99 L811.0,600.57 L811.5,600.60 L812.0,599.75 L812.5,599.84 L813.0,599.78 L813.5,600.06 L814.0,599.89 L814.5,600.28 L815.0,600.49 L815.5,599.68 L816.0,599.63 L816.5,599.71 L817.0,599.91 L817.5,599.73 L818.0,600.02 L818.5,599.95 L819.0,600.31 L819.5,600.55 L820.0,600.55 L820.5,599.99 L821.0,600.21 L821.5,599.69 L822.0,600.17 L822.5,600.43 L823.0,600.43 L823.5,599.68 L824.0,599.70 L824.5,600.42 L825.0,600.21 L825.5,600.27 L826.0,599.56 L826.5,600.10 L827.0,599.49 L827.5,600.19 L828.0,600.24 L828.5,599.75 L829.0,599.41 L829.5,600.12 L830.0,600.37 L830.5,599.96 L831.0,599.68 L831.5,599.61 L832.0,600.06 L832.5,600.18 L833.0,599.53 L833.5,599.33 L834.0,600.05 L834.5,599.41 L835.0,599.34 L835.5,599.11 L836.0,599.40 L836.5,599.51 L837.0,598.81 L837.5,598.96 L838.0,598.20 L838.5,597.81 L839.0,597.62 L839.5,596.93 L840.0,595.44 L840.5,593.46 L841.0,590.83 L841.5,587.37 L842.0,583.95 L842.4,582.17 L842.5,582.00 L843.0,583.14 L843.5,586.35 L844.0,588.35 L844.5,589.23 L845.0,590.72 L845.5,590.27 L846.0,591.33 L846.5,591.30 L847.0,592.84 L847.5,594.53 L848.0,595.56 L848.5,596.50 L849.0,597.07 L849.5,597.25 L850.0,598.44 L850.5,598.70 L851.0,598.68 L851.5,598.96 L852.0,599.36 L852.5,599.17 L853.0,599.25 L853.5,599.34 L854.0,599.66 L854.5,599.72 L855.0,599.36 L855.5,599.84 L856.0,599.47 L856.5,599.79 L857.0,599.51 L857.5,600.05 L858.0,600.10 L858.5,599.94 L859.0,599.54 L859.5,599.51 L860.0,599.58 L860.5,599.73 L861.0,599.14 L861.5,599.62 L862.0,599.96 L862.5,599.04 L863.0,599.81 L863.5,599.41 L864.0,599.73 L864.5,599.33 L865.0,599.15 L865.5,598.96 L866.0,598.31 L866.5,597.56 L867.0,597.62 L867.5,596.62 L868.0,594.99 L868.5,592.46 L869.0,590.38 L869.5,588.59 L869.7,588.16 L870.0,588.47 L870.5,589.88 L871.0,592.10 L871.5,592.96 L872.0,593.94 L872.5,594.11 L873.0,593.52 L873.5,594.43 L874.0,594.63 L874.5,595.63 L875.0,596.40 L875.5,597.30 L876.0,597.47 L876.5,598.34 L877.0,598.41 L877.5,599.11 L878.0,599.05 L878.5,599.38 L879.0,599.86 L879.5,599.26 L880.0,599.07 L880.5,600.03 L881.0,599.72 L881.5,599.90 L882.0,600.12 L882.5,600.22 L883.0,599.75 L883.5,600.38 L884.0,599.81 L884.5,600.17 L885.0,600.30 L885.5,599.85 L886.0,599.92 L886.5,599.88 L887.0,599.87 L887.5,599.95 L888.0,600.40 L888.5,599.62 L889.0,600.56 L889.5,600.37 L890.0,600.15 L890.5,600.24 L891.0,599.90 L891.5,600.37 L892.0,600.49 L892.5,600.00 L893.0,600.13 L893.5,599.85 L894.0,599.89 L894.5,600.49 L895.0,600.29 L895.5,600.10 L896.0,600.29 L896.5,599.84 L897.0,599.66 L897.5,600.02 L898.0,600.24 L898.5,599.85 L899.0,600.21 L899.5,600.00 L900.0,599.94 L900.5,600.42 L901.0,600.04 L901.5,600.42 L902.0,600.43 L902.5,600.06 L903.0,599.72 L903.5,600.53 L904.0,600.24 L904.5,600.27 L905.0,600.38 L905.5,600.24 L906.0,600.60 L906.5,599.71 L907.0,600.67 L907.5,600.32 L908.0,600.11 L908.5,600.61 L909.0,600.60 L909.5,600.30 L910.0,599.72 L910.5,600.33 L911.0,600.12 L911.5,600.28 L912.0,600.54 L912.5,599.84 L913.0,600.56 L913.5,600.02 L914.0,599.97 L914.5,599.75 L915.0,599.82 L915.5,599.98 L916.0,600.25 L916.5,600.66 L917.0,599.89 L917.5,600.01 L918.0,600.09 L918.5,600.36 L919.0,600.07 L919.5,600.39 L920.0,599.87 L920.5,599.77 L921.0,600.30 L921.5,600.45 L922.0,599.86 L922.5,599.77 L923.0,600.39 L923.5,599.79 L924.0,600.65 L924.5,600.42 L925.0,599.89 L925.5,600.14 L926.0,599.78 L926.5,599.81 L927.0,600.08 L927.5,600.60 L928.0,600.64 L928.5,600.48 L929.0,600.36 L929.5,600.31 L930.0,600.24 L930.5,600.38 L931.0,600.22 L931.5,600.12 L932.0,600.56 L932.5,600.03 L933.0,600.13 L933.5,600.41 L934.0,600.69 L934.5,600.07 L935.0,600.16 L935.5,600.13 L936.0,599.94 L936.5,600.08 L937.0,600.51 L937.5,599.91 L938.0,600.20 L938.5,600.01 L939.0,600.30 L939.5,600.50 L940.0,599.84 L940.5,600.21 L941.0,599.91 L941.5,600.37 L942.0,600.40 L942.5,599.94 L943.0,599.95 L943.5,600.02 L944.0,600.04 L944.5,600.61 L945.0,600.59 L945.5,600.50 L946.0,600.10 L946.5,600.17 L947.0,599.91 L947.5,600.17 L948.0,600.66 L948.5,599.79 L949.0,600.10 L949.5,599.90 L950.0,600.54 L950.5,600.00 L951.0,600.18 L951.5,599.74 L952.0,600.38 L952.5,600.20 L953.0,600.48 L953.5,600.40 L954.0,600.42 L954.5,599.94 L955.0,599.92 L955.5,600.26 L956.0,599.71 L956.5,600.59 L957.0,600.37 L957.5,600.14 L958.0,600.00 L958.5,599.71 L959.0,600.18 L959.5,600.39 L960.0,599.73 L960.5,599.70 L961.0,600.28 L961.5,600.06 L962.0,600.37 L962.5,599.98 L963.0,600.54 L963.5,600.41 L964.0,599.85 L964.5,600.04 L965.0,600.08 L965.5,599.92 L966.0,600.27 L966.5,600.13 L967.0,600.21 L967.5,599.62 L968.0,599.83 L968.5,599.83 L969.0,599.83 L969.5,599.21 L970.0,599.94 L970.5,599.51 L971.0,599.13 L971.5,599.73 L972.0,599.31 L972.5,599.35 L973.0,599.17 L973.5,598.83 L974.0,598.83 L974.5,597.59 L975.0,597.32 L975.5,596.39 L976.0,595.75 L976.5,593.77 L977.0,591.43 L977.5,588.84 L978.0,586.10 L978.5,584.74 L978.6,584.55 L979.0,584.98 L979.5,586.37 L980.0,588.97 L980.5,590.27 L981.0,591.03 L981.5,591.38 L982.0,591.58 L982.5,591.96 L983.0,592.11 L983.5,593.11 L984.0,593.73 L984.5,595.26 L985.0,596.30 L985.5,596.52 L986.0,596.91 L986.5,598.32 L987.0,597.85 L987.5,598.74 L988.0,599.10 L988.5,599.02 L989.0,599.59 L989.5,598.98 L990.0,599.66 L990.5,599.94 L991.0,600.00 L991.5,600.02 L992.0,599.66 L992.5,599.79 L993.0,600.17 L993.5,599.74 L994.0,599.65 L994.5,599.45 L995.0,599.65 L995.5,599.61 L996.0,600.42 L996.5,599.82 L997.0,599.88 L997.5,600.52 L998.0,600.25 L998.5,600.01 L999.0,599.69 L999.5,599.97 L1000.0,599.90 L1000.5,600.57 L1001.0,600.05" fill="none" stroke="#FC0606" stroke-width="5.2" stroke-linejoin="round" stroke-linecap="round"/>
<path d="M71.5,685.94 L72.0,685.24 L72.5,685.02 L73.0,685.87 L73.5,685.05 L74.0,685.77 L74.5,685.58 L75.0,685.27 L75.5,685.82 L76.0,685.42 L76.5,685.97 L77.0,685.55 L77.5,685.94 L78.0,685.92 L78.5,685.37 L79.0,685.69 L79.5,685.73 L80.0,685.66 L80.5,685.02 L81.0,685.69 L81.5,685.76 L82.0,685.20 L82.5,685.10 L83.0,685.07 L83.5,685.55 L84.0,685.11 L84.5,685.85 L85.0,685.42 L85.5,686.00 L86.0,685.74 L86.5,685.44 L87.0,685.19 L87.5,685.43 L88.0,685.61 L88.5,685.87 L89.0,685.90 L89.5,685.33 L90.0,685.03 L90.5,685.67 L91.0,685.69 L91.5,685.65 L92.0,685.80 L92.5,685.81 L93.0,685.62 L93.5,685.82 L94.0,685.12 L94.5,685.94 L95.0,685.66 L95.5,685.08 L96.0,685.16 L96.5,685.63 L97.0,685.29 L97.5,685.92 L98.0,685.26 L98.5,685.46 L99.0,685.48 L99.5,685.91 L100.0,685.27 L100.5,685.86 L101.0,685.68 L101.5,685.53 L102.0,685.90 L102.5,685.83 L103.0,685.70 L103.5,685.49 L104.0,684.98 L104.5,685.16 L105.0,685.58 L105.5,685.04 L106.0,685.57 L106.5,685.27 L107.0,685.30 L107.5,685.73 L108.0,685.75 L108.5,685.65 L109.0,685.34 L109.5,685.43 L110.0,685.87 L110.5,685.81 L111.0,685.48 L111.5,684.95 L112.0,685.77 L112.5,684.90 L113.0,684.97 L113.5,685.51 L114.0,685.04 L114.5,685.59 L115.0,685.52 L115.5,684.99 L116.0,685.73 L116.5,685.81 L117.0,685.46 L117.5,685.78 L118.0,685.59 L118.5,685.26 L119.0,685.60 L119.5,685.71 L120.0,685.46 L120.5,684.84 L121.0,685.13 L121.5,685.45 L122.0,685.11 L122.5,684.90 L123.0,685.18 L123.5,684.86 L124.0,685.19 L124.5,684.80 L125.0,685.42 L125.5,684.90 L126.0,685.62 L126.5,684.78 L127.0,685.30 L127.5,685.30 L128.0,684.85 L128.5,685.27 L129.0,685.19 L129.5,685.25 L130.0,684.81 L130.5,685.09 L131.0,685.44 L131.5,685.22 L132.0,684.84 L132.5,684.92 L133.0,685.46 L133.5,684.62 L134.0,685.04 L134.5,685.07 L135.0,684.98 L135.5,684.54 L136.0,684.64 L136.5,685.37 L137.0,684.97 L137.5,684.80 L138.0,684.96 L138.5,684.55 L139.0,684.57 L139.5,685.31 L140.0,685.24 L140.5,684.67 L141.0,684.78 L141.5,684.53 L142.0,684.77 L142.5,684.96 L143.0,685.19 L143.5,684.94 L144.0,685.27 L144.5,685.41 L145.0,684.98 L145.5,684.45 L146.0,684.53 L146.5,685.06 L147.0,684.52 L147.5,685.28 L148.0,684.43 L148.5,684.42 L149.0,685.36 L149.5,684.76 L150.0,684.91 L150.5,684.94 L151.0,684.46 L151.5,684.67 L152.0,684.70 L152.5,685.07 L153.0,685.11 L153.5,685.01 L154.0,684.50 L154.5,684.77 L155.0,685.22 L155.5,684.48 L156.0,684.65 L156.5,684.91 L157.0,685.29 L157.5,684.31 L158.0,684.98 L158.5,684.74 L159.0,684.81 L159.5,685.12 L160.0,684.37 L160.5,684.87 L161.0,684.59 L161.5,685.03 L162.0,684.98 L162.5,684.68 L163.0,684.42 L163.5,685.03 L164.0,684.97 L164.5,684.83 L165.0,685.01 L165.5,685.21 L166.0,684.51 L166.5,684.95 L167.0,685.07 L167.5,684.53 L168.0,685.17 L168.5,684.58 L169.0,685.22 L169.5,684.85 L170.0,685.24 L170.5,685.16 L171.0,685.06 L171.5,684.65 L172.0,684.74 L172.5,684.87 L173.0,685.09 L173.5,684.70 L174.0,685.19 L174.5,684.51 L175.0,684.82 L175.5,684.45 L176.0,684.48 L176.5,684.60 L177.0,684.36 L177.5,684.89 L178.0,684.94 L178.5,684.73 L179.0,685.13 L179.5,684.89 L180.0,685.03 L180.5,684.44 L181.0,684.69 L181.5,684.39 L182.0,684.53 L182.5,685.23 L183.0,684.52 L183.5,684.99 L184.0,684.78 L184.5,685.08 L185.0,685.29 L185.5,685.25 L186.0,685.40 L186.5,685.41 L187.0,684.85 L187.5,685.45 L188.0,685.23 L188.5,684.75 L189.0,684.81 L189.5,685.02 L190.0,685.35 L190.5,684.61 L191.0,685.42 L191.5,685.20 L192.0,685.14 L192.5,684.96 L193.0,684.95 L193.5,684.98 L194.0,685.30 L194.5,685.04 L195.0,685.32 L195.5,685.50 L196.0,684.72 L196.5,684.66 L197.0,685.60 L197.5,684.86 L198.0,685.50 L198.5,685.10 L199.0,684.93 L199.5,684.73 L200.0,685.16 L200.5,685.34 L201.0,684.81 L201.5,684.78 L202.0,685.07 L202.5,685.68 L203.0,685.56 L203.5,685.08 L204.0,685.24 L204.5,685.27 L205.0,685.57 L205.5,685.16 L206.0,685.25 L206.5,685.41 L207.0,685.16 L207.5,685.36 L208.0,685.70 L208.5,685.47 L209.0,685.03 L209.5,685.34 L210.0,685.58 L210.5,685.25 L211.0,685.42 L211.5,685.61 L212.0,685.43 L212.5,685.26 L213.0,685.97 L213.5,685.17 L214.0,686.03 L214.5,685.23 L215.0,685.71 L215.5,685.71 L216.0,685.59 L216.5,685.82 L217.0,686.09 L217.5,685.55 L218.0,685.30 L218.5,685.46 L219.0,686.15 L219.5,685.88 L220.0,686.05 L220.5,685.70 L221.0,685.65 L221.5,686.03 L222.0,685.93 L222.5,686.29 L223.0,685.55 L223.5,685.75 L224.0,686.11 L224.5,686.34 L225.0,685.91 L225.5,686.25 L226.0,685.58 L226.5,686.13 L227.0,685.83 L227.5,686.21 L228.0,685.83 L228.5,685.73 L229.0,685.83 L229.5,686.29 L230.0,686.30 L230.5,686.51 L231.0,686.02 L231.5,685.69 L232.0,686.45 L232.5,685.91 L233.0,686.38 L233.5,686.16 L234.0,686.13 L234.5,685.73 L235.0,685.94 L235.5,686.47 L236.0,686.20 L236.5,686.63 L237.0,686.57 L237.5,686.31 L238.0,686.77 L238.5,685.80 L239.0,686.21 L239.5,686.35 L240.0,685.88 L240.5,686.71 L241.0,686.00 L241.5,686.44 L242.0,686.14 L242.5,686.26 L243.0,686.36 L243.5,686.19 L244.0,686.08 L244.5,686.59 L245.0,686.56 L245.5,686.02 L246.0,686.92 L246.5,686.06 L247.0,686.19 L247.5,686.25 L248.0,686.34 L248.5,686.48 L249.0,686.90 L249.5,686.10 L250.0,686.58 L250.5,686.64 L251.0,686.27 L251.5,686.38 L252.0,686.47 L252.5,686.92 L253.0,686.81 L253.5,686.52 L254.0,686.11 L254.5,686.40 L255.0,686.86 L255.5,686.48 L256.0,686.44 L256.5,686.69 L257.0,686.09 L257.5,686.70 L258.0,686.73 L258.5,686.16 L259.0,686.46 L259.5,686.89 L260.0,686.29 L260.5,686.55 L261.0,686.36 L261.5,686.56 L262.0,686.39 L262.5,686.33 L263.0,686.90 L263.5,686.65 L264.0,686.94 L264.5,686.26 L265.0,686.37 L265.5,686.24 L266.0,686.71 L266.5,686.18 L267.0,686.46 L267.5,685.92 L268.0,686.24 L268.5,685.92 L269.0,686.51 L269.5,685.90 L270.0,686.42 L270.5,685.96 L271.0,685.64 L271.5,685.75 L272.0,686.01 L272.5,685.64 L273.0,685.62 L273.5,685.18 L274.0,685.03 L274.5,684.30 L275.0,684.70 L275.5,684.15 L276.0,683.72 L276.5,682.81 L277.0,682.53 L277.5,681.29 L278.0,679.69 L278.5,678.42 L279.0,675.51 L279.5,671.79 L280.0,667.21 L280.5,661.17 L281.0,653.96 L281.5,647.17 L282.0,640.41 L282.5,635.83 L282.8,634.81 L283.0,635.23 L283.5,638.44 L284.0,645.68 L284.5,652.98 L285.0,659.80 L285.5,665.80 L286.0,671.12 L286.5,674.19 L287.0,677.44 L287.5,679.38 L288.0,681.23 L288.5,682.06 L289.0,683.11 L289.5,684.00 L290.0,683.98 L290.5,684.07 L291.0,684.28 L291.5,685.37 L292.0,685.23 L292.5,685.40 L293.0,685.15 L293.5,685.37 L294.0,685.40 L294.5,686.41 L295.0,685.66 L295.5,686.03 L296.0,686.26 L296.5,686.43 L297.0,686.15 L297.5,686.63 L298.0,686.68 L298.5,687.07 L299.0,686.23 L299.5,686.47 L300.0,686.32 L300.5,686.54 L301.0,686.50 L301.5,686.34 L302.0,687.15 L302.5,686.64 L303.0,687.14 L303.5,687.23 L304.0,687.23 L304.5,686.48 L305.0,687.06 L305.5,687.34 L306.0,687.14 L306.5,687.12 L307.0,686.96 L307.5,687.37 L308.0,687.09 L308.5,686.92 L309.0,687.08 L309.5,687.06 L310.0,686.79 L310.5,687.28 L311.0,687.45 L311.5,687.27 L312.0,686.64 L312.5,687.04 L313.0,687.40 L313.5,686.77 L314.0,687.15 L314.5,687.33 L315.0,687.19 L315.5,686.98 L316.0,686.67 L316.5,687.36 L317.0,686.82 L317.5,687.25 L318.0,687.17 L318.5,687.37 L319.0,686.75 L319.5,687.61 L320.0,687.38 L320.5,687.49 L321.0,686.80 L321.5,687.32 L322.0,686.96 L322.5,687.27 L323.0,687.25 L323.5,686.94 L324.0,687.45 L324.5,686.91 L325.0,686.90 L325.5,687.11 L326.0,686.50 L326.5,687.19 L327.0,686.56 L327.5,687.03 L328.0,686.19 L328.5,686.05 L329.0,686.35 L329.5,685.79 L330.0,685.70 L330.5,685.07 L331.0,685.04 L331.5,684.30 L332.0,683.24 L332.5,681.38 L333.0,679.69 L333.5,678.38 L334.0,675.91 L334.5,674.78 L335.0,673.48 L335.3,673.66 L335.5,673.64 L336.0,674.44 L336.5,676.29 L337.0,677.93 L337.5,679.61 L338.0,681.05 L338.5,683.06 L339.0,684.10 L339.5,684.87 L340.0,685.35 L340.5,685.72 L341.0,686.50 L341.5,686.19 L342.0,686.13 L342.5,687.07 L343.0,687.00 L343.5,687.22 L344.0,687.39 L344.5,686.90 L345.0,686.68 L345.5,687.07 L346.0,687.11 L346.5,687.04 L347.0,687.48 L347.5,686.97 L348.0,687.72 L348.5,686.99 L349.0,687.08 L349.5,687.65 L350.0,687.07 L350.5,687.58 L351.0,687.14 L351.5,687.29 L352.0,687.37 L352.5,687.16 L353.0,687.74 L353.5,687.87 L354.0,687.87 L354.5,687.11 L355.0,686.99 L355.5,687.41 L356.0,687.72 L356.5,687.53 L357.0,687.95 L357.5,687.99 L358.0,687.69 L358.5,687.28 L359.0,687.42 L359.5,687.09 L360.0,687.43 L360.5,687.79 L361.0,687.36 L361.5,687.23 L362.0,687.59 L362.5,687.95 L363.0,687.71 L363.5,687.18 L364.0,687.50 L364.5,687.30 L365.0,687.89 L365.5,687.50 L366.0,687.53 L366.5,687.97 L367.0,687.39 L367.5,687.55 L368.0,688.08 L368.5,687.41 L369.0,687.65 L369.5,687.76 L370.0,687.45 L370.5,687.75 L371.0,687.54 L371.5,687.96 L372.0,687.68 L372.5,687.86 L373.0,687.71 L373.5,687.83 L374.0,687.53 L374.5,687.29 L375.0,687.51 L375.5,687.47 L376.0,687.17 L376.5,687.92 L377.0,687.68 L377.5,687.64 L378.0,687.87 L378.5,687.23 L379.0,687.29 L379.5,687.89 L380.0,687.21 L380.5,688.04 L381.0,687.68 L381.5,688.15 L382.0,688.04 L382.5,687.59 L383.0,687.53 L383.5,687.62 L384.0,687.96 L384.5,687.65 L385.0,687.91 L385.5,688.19 L386.0,687.95 L386.5,687.71 L387.0,687.95 L387.5,687.70 L388.0,687.79 L388.5,687.63 L389.0,688.15 L389.5,688.20 L390.0,687.78 L390.5,687.78 L391.0,687.32 L391.5,687.79 L392.0,688.15 L392.5,687.47 L393.0,688.00 L393.5,687.48 L394.0,687.95 L394.5,687.52 L395.0,687.83 L395.5,688.01 L396.0,687.27 L396.5,688.08 L397.0,687.77 L397.5,687.49 L398.0,687.55 L398.5,687.80 L399.0,687.99 L399.5,687.43 L400.0,687.32 L400.5,687.49 L401.0,687.89 L401.5,687.66 L402.0,688.02 L402.5,687.99 L403.0,687.63 L403.5,687.86 L404.0,687.41 L404.5,687.88 L405.0,687.92 L405.5,687.51 L406.0,687.94 L406.5,687.42 L407.0,688.25 L407.5,687.83 L408.0,688.20 L408.5,687.95 L409.0,687.50 L409.5,688.02 L410.0,687.90 L410.5,687.67 L411.0,687.98 L411.5,688.05 L412.0,687.97 L412.5,687.51 L413.0,688.26 L413.5,688.21 L414.0,687.73 L414.5,688.23 L415.0,688.30 L415.5,687.65 L416.0,687.50 L416.5,687.55 L417.0,687.80 L417.5,687.46 L418.0,687.55 L418.5,688.05 L419.0,687.33 L419.5,687.93 L420.0,687.73 L420.5,688.03 L421.0,687.58 L421.5,687.80 L422.0,687.54 L422.5,687.34 L423.0,688.19 L423.5,687.69 L424.0,687.62 L424.5,688.26 L425.0,687.70 L425.5,687.87 L426.0,687.47 L426.5,687.75 L427.0,688.21 L427.5,688.16 L428.0,688.16 L428.5,688.26 L429.0,687.57 L429.5,687.40 L430.0,687.47 L430.5,688.00 L431.0,687.89 L431.5,687.72 L432.0,688.06 L432.5,687.57 L433.0,687.96 L433.5,687.77 L434.0,687.49 L434.5,688.13 L435.0,687.54 L435.5,688.16 L436.0,688.12 L436.5,687.80 L437.0,687.81 L437.5,687.57 L438.0,687.50 L438.5,688.06 L439.0,687.74 L439.5,687.93 L440.0,687.73 L440.5,687.63 L441.0,687.53 L441.5,688.13 L442.0,687.80 L442.5,687.52 L443.0,688.25 L443.5,687.53 L444.0,687.60 L444.5,687.53 L445.0,687.93 L445.5,688.15 L446.0,687.41 L446.5,688.30 L447.0,688.08 L447.5,688.21 L448.0,687.80 L448.5,687.82 L449.0,687.47 L449.5,687.64 L450.0,688.25 L450.5,687.67 L451.0,688.28 L451.5,688.22 L452.0,688.30 L452.5,687.53 L453.0,687.81 L453.5,688.22 L454.0,687.70 L454.5,687.63 L455.0,687.41 L455.5,687.92 L456.0,687.94 L456.5,687.60 L457.0,687.65 L457.5,688.02 L458.0,687.56 L458.5,688.17 L459.0,688.26 L459.5,687.81 L460.0,687.52 L460.5,687.96 L461.0,687.68 L461.5,687.49 L462.0,688.09 L462.5,687.94 L463.0,687.66 L463.5,687.63 L464.0,688.11 L464.5,688.30 L465.0,687.73 L465.5,687.97 L466.0,687.60 L466.5,687.84 L467.0,687.96 L467.5,687.68 L468.0,687.98 L468.5,687.91 L469.0,687.41 L469.5,687.49 L470.0,687.78 L470.5,687.51 L471.0,687.91 L471.5,687.95 L472.0,687.98 L472.5,688.24 L473.0,687.96 L473.5,688.12 L474.0,687.46 L474.5,688.21 L475.0,688.27 L475.5,687.92 L476.0,688.16 L476.5,687.87 L477.0,687.75 L477.5,687.47 L478.0,687.79 L478.5,688.01 L479.0,688.09 L479.5,688.18 L480.0,687.80 L480.5,688.21 L481.0,687.63 L481.5,687.27 L482.0,687.66 L482.5,687.77 L483.0,687.99 L483.5,687.43 L484.0,687.21 L484.5,687.89 L485.0,687.34 L485.5,687.98 L486.0,687.67 L486.5,687.22 L487.0,687.58 L487.5,687.80 L488.0,687.22 L488.5,687.92 L489.0,686.98 L489.5,687.03 L490.0,687.43 L490.5,687.46 L491.0,687.33 L491.5,687.58 L492.0,686.78 L492.5,686.54 L493.0,686.93 L493.5,686.63 L494.0,686.54 L494.5,686.39 L495.0,686.69 L495.5,685.86 L496.0,685.98 L496.5,685.49 L497.0,684.73 L497.5,684.71 L498.0,683.17 L498.5,682.03 L499.0,680.35 L499.5,678.81 L500.0,676.24 L500.5,672.82 L501.0,669.07 L501.5,665.87 L502.0,662.26 L502.5,660.16 L502.9,659.64 L503.0,659.02 L503.5,660.41 L504.0,664.00 L504.5,667.61 L505.0,670.49 L505.5,673.98 L506.0,677.07 L506.5,679.84 L507.0,681.16 L507.5,683.22 L508.0,683.41 L508.5,685.00 L509.0,684.73 L509.5,685.71 L510.0,686.41 L510.5,686.42 L511.0,686.83 L511.5,686.44 L512.0,687.20 L512.5,687.27 L513.0,686.75 L513.5,687.35 L514.0,687.58 L514.5,686.95 L515.0,687.19 L515.5,687.63 L516.0,687.48 L516.5,687.87 L517.0,687.43 L517.5,687.49 L518.0,687.24 L518.5,687.38 L519.0,688.01 L519.5,687.42 L520.0,688.08 L520.5,688.01 L521.0,687.80 L521.5,687.55 L522.0,687.27 L522.5,687.40 L523.0,688.13 L523.5,688.27 L524.0,688.29 L524.5,687.62 L525.0,688.29 L525.5,687.80 L526.0,687.74 L526.5,688.29 L527.0,688.21 L527.5,688.08 L528.0,687.69 L528.5,687.52 L529.0,687.61 L529.5,687.69 L530.0,687.63 L530.5,688.01 L531.0,687.76 L531.5,687.67 L532.0,688.34 L532.5,687.83 L533.0,687.47 L533.5,687.49 L534.0,688.03 L534.5,687.52 L535.0,688.05 L535.5,687.52 L536.0,687.97 L536.5,688.12 L537.0,688.05 L537.5,687.72 L538.0,688.35 L538.5,688.49 L539.0,688.33 L539.5,688.45 L540.0,688.50 L540.5,687.90 L541.0,688.07 L541.5,687.95 L542.0,688.32 L542.5,687.71 L543.0,687.77 L543.5,687.99 L544.0,688.09 L544.5,688.54 L545.0,687.88 L545.5,687.55 L546.0,687.94 L546.5,688.43 L547.0,687.65 L547.5,688.08 L548.0,688.16 L548.5,688.40 L549.0,687.89 L549.5,688.17 L550.0,688.52 L550.5,688.54 L551.0,688.13 L551.5,687.91 L552.0,688.22 L552.5,688.30 L553.0,688.25 L553.5,688.25 L554.0,687.96 L554.5,688.29 L555.0,687.93 L555.5,687.81 L556.0,687.68 L556.5,688.13 L557.0,687.75 L557.5,687.86 L558.0,687.88 L558.5,687.96 L559.0,688.00 L559.5,688.56 L560.0,688.11 L560.5,688.13 L561.0,687.99 L561.5,688.13 L562.0,688.40 L562.5,688.11 L563.0,688.10 L563.5,687.94 L564.0,687.77 L564.5,687.80 L565.0,687.68 L565.5,687.87 L566.0,687.63 L566.5,688.00 L567.0,688.16 L567.5,687.70 L568.0,688.34 L568.5,688.04 L569.0,688.21 L569.5,688.01 L570.0,688.38 L570.5,688.26 L571.0,687.70 L571.5,688.13 L572.0,687.84 L572.5,688.32 L573.0,687.95 L573.5,687.80 L574.0,687.60 L574.5,688.56 L575.0,687.69 L575.5,687.82 L576.0,688.49 L576.5,687.61 L577.0,687.97 L577.5,687.99 L578.0,688.23 L578.5,688.33 L579.0,688.52 L579.5,687.86 L580.0,687.62 L580.5,687.75 L581.0,687.53 L581.5,687.79 L582.0,688.13 L582.5,688.40 L583.0,687.60 L583.5,687.76 L584.0,688.38 L584.5,688.07 L585.0,687.87 L585.5,687.53 L586.0,687.51 L586.5,687.66 L587.0,688.04 L587.5,687.47 L588.0,687.90 L588.5,688.20 L589.0,687.37 L589.5,687.64 L590.0,687.74 L590.5,687.91 L591.0,688.02 L591.5,687.93 L592.0,687.66 L592.5,687.53 L593.0,687.78 L593.5,687.57 L594.0,687.99 L594.5,687.54 L595.0,687.54 L595.5,687.55 L596.0,687.29 L596.5,687.21 L597.0,687.28 L597.5,687.10 L598.0,687.36 L598.5,686.49 L599.0,686.47 L599.5,686.68 L600.0,686.17 L600.5,685.45 L601.0,684.58 L601.5,683.62 L602.0,682.76 L602.5,681.36 L603.0,679.58 L603.5,677.25 L604.0,674.97 L604.5,672.35 L605.0,669.20 L605.5,667.55 L606.0,666.39 L606.2,665.76 L606.5,666.07 L607.0,667.31 L607.5,670.09 L608.0,673.00 L608.5,675.43 L609.0,678.04 L609.5,680.15 L610.0,681.29 L610.5,682.65 L611.0,684.14 L611.5,685.34 L612.0,685.71 L612.5,685.89 L613.0,686.03 L613.5,686.16 L614.0,686.88 L614.5,687.16 L615.0,686.93 L615.5,686.74 L616.0,687.03 L616.5,687.54 L617.0,687.68 L617.5,687.37 L618.0,687.92 L618.5,687.47 L619.0,687.15 L619.5,687.37 L620.0,688.09 L620.5,687.94 L621.0,687.35 L621.5,687.57 L622.0,687.70 L622.5,687.81 L623.0,687.37 L623.5,688.28 L624.0,687.91 L624.5,687.65 L625.0,687.43 L625.5,687.98 L626.0,688.34 L626.5,688.13 L627.0,688.28 L627.5,688.29 L628.0,688.08 L628.5,687.47 L629.0,687.72 L629.5,687.98 L630.0,687.80 L630.5,687.58 L631.0,687.41 L631.5,688.18 L632.0,687.93 L632.5,687.51 L633.0,687.60 L633.5,687.89 L634.0,687.01 L634.5,687.30 L635.0,686.66 L635.5,687.02 L636.0,686.55 L636.5,686.28 L637.0,685.28 L637.5,685.00 L638.0,684.52 L638.5,684.45 L639.0,685.16 L639.5,685.48 L640.0,685.91 L640.5,686.27 L641.0,686.27 L641.5,686.82 L642.0,687.38 L642.5,687.16 L643.0,687.85 L643.5,687.89 L644.0,687.49 L644.5,687.66 L645.0,688.06 L645.5,687.58 L646.0,687.72 L646.5,687.69 L647.0,687.63 L647.5,688.45 L648.0,688.56 L648.5,688.40 L649.0,688.10 L649.5,688.36 L650.0,688.31 L650.5,688.08 L651.0,688.16 L651.5,687.78 L652.0,687.90 L652.5,688.01 L653.0,688.03 L653.5,688.34 L654.0,687.93 L654.5,687.93 L655.0,688.57 L655.5,688.49 L656.0,688.64 L656.5,688.49 L657.0,687.91 L657.5,688.21 L658.0,688.56 L658.5,688.53 L659.0,687.96 L659.5,688.22 L660.0,688.32 L660.5,687.75 L661.0,687.98 L661.5,688.48 L662.0,688.41 L662.5,688.20 L663.0,688.32 L663.5,688.28 L664.0,688.10 L664.5,687.84 L665.0,688.50 L665.5,688.53 L666.0,688.20 L666.5,688.53 L667.0,688.59 L667.5,688.46 L668.0,688.58 L668.5,688.74 L669.0,687.81 L669.5,688.72 L670.0,688.23 L670.5,688.55 L671.0,688.52 L671.5,687.88 L672.0,688.37 L672.5,687.87 L673.0,688.52 L673.5,688.12 L674.0,688.16 L674.5,688.06 L675.0,688.60 L675.5,688.43 L676.0,688.09 L676.5,688.53 L677.0,687.98 L677.5,688.60 L678.0,688.40 L678.5,688.56 L679.0,688.41 L679.5,688.78 L680.0,688.49 L680.5,688.26 L681.0,688.39 L681.5,688.37 L682.0,688.09 L682.5,688.11 L683.0,688.60 L683.5,688.62 L684.0,688.77 L684.5,688.49 L685.0,688.31 L685.5,688.20 L686.0,688.51 L686.5,688.46 L687.0,688.75 L687.5,688.56 L688.0,688.20 L688.5,688.09 L689.0,687.86 L689.5,688.60 L690.0,688.24 L690.5,688.21 L691.0,687.87 L691.5,688.31 L692.0,688.72 L692.5,688.10 L693.0,688.56 L693.5,688.58 L694.0,688.48 L694.5,688.42 L695.0,688.07 L695.5,688.50 L696.0,688.41 L696.5,688.79 L697.0,688.34 L697.5,688.18 L698.0,688.73 L698.5,688.45 L699.0,688.17 L699.5,688.48 L700.0,687.98 L700.5,688.02 L701.0,688.71 L701.5,688.29 L702.0,688.63 L702.5,688.05 L703.0,688.30 L703.5,688.07 L704.0,688.64 L704.5,688.43 L705.0,688.23 L705.5,688.22 L706.0,688.05 L706.5,688.05 L707.0,688.53 L707.5,688.15 L708.0,687.94 L708.5,688.22 L709.0,688.29 L709.5,688.83 L710.0,688.23 L710.5,688.24 L711.0,688.81 L711.5,688.56 L712.0,688.30 L712.5,688.24 L713.0,688.07 L713.5,688.00 L714.0,688.32 L714.5,688.48 L715.0,687.95 L715.5,688.32 L716.0,688.02 L716.5,688.45 L717.0,688.19 L717.5,688.51 L718.0,688.63 L718.5,688.25 L719.0,688.23 L719.5,687.93 L720.0,688.06 L720.5,688.47 L721.0,688.66 L721.5,687.99 L722.0,688.82 L722.5,688.76 L723.0,688.21 L723.5,688.39 L724.0,688.52 L724.5,688.18 L725.0,688.22 L725.5,688.57 L726.0,688.33 L726.5,688.29 L727.0,688.41 L727.5,687.97 L728.0,688.32 L728.5,688.14 L729.0,688.02 L729.5,688.37 L730.0,688.55 L730.5,688.38 L731.0,688.35 L731.5,688.52 L732.0,688.27 L732.5,688.83 L733.0,688.06 L733.5,687.86 L734.0,688.42 L734.5,688.54 L735.0,688.23 L735.5,688.24 L736.0,688.19 L736.5,688.09 L737.0,688.63 L737.5,688.70 L738.0,688.12 L738.5,688.40 L739.0,688.30 L739.5,687.97 L740.0,688.57 L740.5,688.36 L741.0,688.82 L741.5,688.74 L742.0,688.73 L742.5,688.08 L743.0,687.93 L743.5,688.62 L744.0,687.92 L744.5,688.49 L745.0,687.98 L745.5,688.50 L746.0,687.84 L746.5,687.87 L747.0,688.64 L747.5,688.28 L748.0,688.20 L748.5,688.71 L749.0,688.51 L749.5,687.93 L750.0,688.39 L750.5,688.04 L751.0,688.09 L751.5,687.89 L752.0,687.75 L752.5,687.75 L753.0,687.63 L753.5,687.41 L754.0,687.93 L754.5,687.23 L755.0,687.17 L755.5,687.13 L756.0,686.68 L756.5,685.83 L757.0,686.33 L757.5,686.09 L758.0,685.92 L758.5,685.49 L759.0,686.21 L759.5,686.32 L760.0,686.04 L760.5,686.70 L761.0,687.31 L761.5,687.40 L762.0,688.01 L762.5,688.02 L763.0,688.20 L763.5,688.44 L764.0,687.88 L764.5,688.50 L765.0,687.64 L765.5,688.47 L766.0,687.78 L766.5,688.22 L767.0,688.18 L767.5,687.82 L768.0,688.40 L768.5,688.57 L769.0,688.01 L769.5,688.04 L770.0,688.58 L770.5,688.34 L771.0,687.84 L771.5,688.13 L772.0,688.77 L772.5,688.11 L773.0,688.13 L773.5,688.29 L774.0,688.73 L774.5,688.66 L775.0,688.24 L775.5,688.52 L776.0,687.89 L776.5,687.93 L777.0,688.24 L777.5,688.50 L778.0,688.01 L778.5,687.91 L779.0,688.72 L779.5,688.06 L780.0,687.93 L780.5,687.96 L781.0,687.96 L781.5,688.16 L782.0,688.46 L782.5,688.54 L783.0,688.17 L783.5,688.40 L784.0,688.22 L784.5,688.46 L785.0,687.99 L785.5,688.51 L786.0,687.89 L786.5,688.81 L787.0,688.10 L787.5,688.44 L788.0,688.08 L788.5,688.33 L789.0,688.15 L789.5,688.53 L790.0,688.67 L790.5,688.74 L791.0,688.87 L791.5,688.35 L792.0,688.44 L792.5,688.24 L793.0,688.18 L793.5,688.40 L794.0,688.87 L794.5,687.95 L795.0,688.64 L795.5,688.22 L796.0,688.49 L796.5,688.16 L797.0,688.61 L797.5,688.39 L798.0,688.21 L798.5,688.34 L799.0,687.90 L799.5,687.99 L800.0,688.80 L800.5,687.98 L801.0,688.29 L801.5,688.56 L802.0,687.93 L802.5,688.83 L803.0,688.10 L803.5,688.86 L804.0,688.33 L804.5,688.48 L805.0,688.50 L805.5,687.98 L806.0,688.40 L806.5,688.64 L807.0,688.68 L807.5,688.63 L808.0,688.57 L808.5,688.02 L809.0,688.30 L809.5,688.40 L810.0,687.93 L810.5,688.65 L811.0,687.99 L811.5,688.45 L812.0,688.15 L812.5,688.05 L813.0,688.84 L813.5,688.50 L814.0,688.61 L814.5,688.49 L815.0,688.44 L815.5,688.75 L816.0,687.94 L816.5,688.25 L817.0,688.09 L817.5,688.47 L818.0,688.26 L818.5,688.79 L819.0,688.10 L819.5,688.13 L820.0,688.77 L820.5,688.58 L821.0,688.28 L821.5,688.22 L822.0,688.58 L822.5,687.99 L823.0,688.56 L823.5,688.06 L824.0,688.63 L824.5,687.90 L825.0,688.73 L825.5,688.67 L826.0,687.83 L826.5,687.96 L827.0,688.70 L827.5,688.60 L828.0,688.06 L828.5,688.56 L829.0,688.33 L829.5,687.98 L830.0,688.41 L830.5,688.12 L831.0,687.83 L831.5,688.52 L832.0,688.37 L832.5,687.87 L833.0,688.03 L833.5,688.25 L834.0,687.91 L834.5,687.75 L835.0,687.97 L835.5,688.34 L836.0,687.42 L836.5,687.49 L837.0,687.61 L837.5,687.97 L838.0,687.80 L838.5,686.58 L839.0,686.90 L839.5,686.01 L840.0,685.58 L840.5,684.90 L841.0,684.55 L841.5,684.22 L842.0,683.31 L842.5,681.83 L843.0,681.60 L843.5,680.88 L843.9,680.13 L844.0,680.96 L844.5,680.62 L845.0,681.95 L845.5,681.93 L846.0,683.59 L846.5,684.07 L847.0,684.85 L847.5,685.19 L848.0,686.05 L848.5,686.77 L849.0,686.93 L849.5,687.62 L850.0,687.39 L850.5,687.92 L851.0,687.27 L851.5,687.97 L852.0,687.90 L852.5,688.25 L853.0,687.75 L853.5,687.91 L854.0,688.30 L854.5,687.77 L855.0,687.91 L855.5,688.40 L856.0,688.22 L856.5,688.07 L857.0,687.60 L857.5,688.36 L858.0,688.01 L858.5,687.83 L859.0,687.98 L859.5,687.73 L860.0,688.42 L860.5,688.36 L861.0,688.52 L861.5,688.20 L862.0,687.66 L862.5,687.89 L863.0,688.41 L863.5,687.36 L864.0,687.62 L864.5,687.32 L865.0,687.20 L865.5,687.12 L866.0,687.23 L866.5,686.38 L867.0,686.82 L867.5,685.94 L868.0,685.18 L868.5,684.56 L869.0,684.43 L869.5,683.76 L870.0,683.56 L870.5,683.04 L871.0,683.42 L871.5,683.93 L872.0,684.01 L872.5,684.98 L873.0,685.87 L873.5,686.13 L874.0,686.11 L874.5,686.99 L875.0,686.74 L875.5,687.04 L876.0,687.10 L876.5,687.77 L877.0,687.53 L877.5,687.71 L878.0,687.62 L878.5,688.45 L879.0,687.75 L879.5,688.31 L880.0,688.47 L880.5,688.14 L881.0,688.30 L881.5,688.07 L882.0,688.57 L882.5,688.46 L883.0,687.86 L883.5,688.50 L884.0,687.95 L884.5,688.30 L885.0,688.01 L885.5,688.32 L886.0,688.50 L886.5,688.58 L887.0,688.18 L887.5,687.92 L888.0,688.32 L888.5,688.79 L889.0,688.43 L889.5,688.50 L890.0,688.65 L890.5,688.53 L891.0,688.85 L891.5,688.85 L892.0,688.64 L892.5,688.71 L893.0,688.05 L893.5,688.18 L894.0,688.63 L894.5,688.50 L895.0,688.78 L895.5,688.70 L896.0,688.25 L896.5,688.10 L897.0,688.59 L897.5,688.04 L898.0,688.43 L898.5,688.21 L899.0,688.34 L899.5,688.59 L900.0,688.57 L900.5,688.56 L901.0,688.00 L901.5,688.84 L902.0,688.65 L902.5,688.85 L903.0,688.56 L903.5,688.59 L904.0,688.84 L904.5,688.69 L905.0,688.58 L905.5,687.99 L906.0,687.97 L906.5,688.67 L907.0,688.80 L907.5,688.34 L908.0,688.16 L908.5,688.40 L909.0,688.80 L909.5,688.71 L910.0,688.09 L910.5,688.16 L911.0,688.17 L911.5,688.70 L912.0,688.21 L912.5,688.85 L913.0,688.37 L913.5,688.15 L914.0,688.38 L914.5,688.10 L915.0,688.84 L915.5,687.99 L916.0,688.38 L916.5,688.34 L917.0,688.00 L917.5,688.19 L918.0,688.95 L918.5,688.83 L919.0,688.39 L919.5,688.84 L920.0,688.88 L920.5,688.83 L921.0,688.69 L921.5,688.54 L922.0,688.48 L922.5,688.69 L923.0,688.57 L923.5,688.94 L924.0,688.15 L924.5,688.87 L925.0,688.72 L925.5,688.41 L926.0,688.82 L926.5,688.26 L927.0,688.36 L927.5,688.55 L928.0,688.94 L928.5,688.21 L929.0,688.82 L929.5,688.63 L930.0,688.89 L930.5,688.27 L931.0,688.64 L931.5,688.86 L932.0,688.86 L932.5,688.67 L933.0,688.81 L933.5,688.61 L934.0,688.52 L934.5,688.16 L935.0,688.49 L935.5,688.95 L936.0,688.92 L936.5,688.01 L937.0,688.27 L937.5,688.21 L938.0,688.81 L938.5,688.15 L939.0,688.74 L939.5,688.17 L940.0,688.31 L940.5,688.94 L941.0,688.09 L941.5,688.55 L942.0,688.24 L942.5,688.72 L943.0,688.03 L943.5,688.64 L944.0,688.22 L944.5,688.92 L945.0,688.29 L945.5,688.63 L946.0,687.99 L946.5,688.90 L947.0,688.60 L947.5,688.88 L948.0,688.70 L948.5,688.02 L949.0,688.70 L949.5,688.34 L950.0,688.16 L950.5,688.85 L951.0,688.62 L951.5,688.30 L952.0,688.02 L952.5,688.60 L953.0,688.01 L953.5,688.18 L954.0,687.99 L954.5,688.11 L955.0,688.69 L955.5,688.20 L956.0,688.92 L956.5,688.21 L957.0,688.73 L957.5,688.66 L958.0,688.57 L958.5,688.52 L959.0,688.05 L959.5,688.74 L960.0,688.83 L960.5,688.43 L961.0,688.08 L961.5,687.98 L962.0,688.14 L962.5,688.85 L963.0,688.19 L963.5,688.14 L964.0,688.38 L964.5,687.88 L965.0,688.62 L965.5,688.60 L966.0,688.11 L966.5,687.82 L967.0,688.67 L967.5,688.57 L968.0,688.50 L968.5,687.92 L969.0,688.64 L969.5,688.29 L970.0,687.65 L970.5,688.56 L971.0,688.22 L971.5,687.65 L972.0,688.28 L972.5,687.89 L973.0,687.80 L973.5,687.03 L974.0,687.01 L974.5,687.33 L975.0,686.22 L975.5,685.98 L976.0,685.36 L976.5,685.29 L977.0,684.18 L977.5,684.12 L978.0,683.07 L978.5,682.78 L979.0,682.47 L979.5,682.37 L980.0,681.75 L980.5,682.36 L981.0,683.42 L981.5,683.67 L982.0,684.98 L982.5,685.04 L983.0,685.92 L983.5,686.05 L984.0,686.93 L984.5,686.82 L985.0,687.23 L985.5,687.73 L986.0,688.00 L986.5,687.44 L987.0,687.57 L987.5,687.68 L988.0,688.30 L988.5,688.26 L989.0,688.34 L989.5,688.47 L990.0,687.93 L990.5,688.22 L991.0,687.75 L991.5,688.12 L992.0,688.39 L992.5,688.06 L993.0,688.61 L993.5,688.04 L994.0,688.28 L994.5,688.54 L995.0,688.09 L995.5,688.54 L996.0,688.28 L996.5,687.94 L997.0,688.00 L997.5,688.56 L998.0,688.73 L998.5,688.60 L999.0,688.78 L999.5,688.59 L1000.0,688.71 L1000.5,688.77 L1001.0,688.54" fill="none" stroke="#000000" stroke-width="5.0" stroke-linejoin="round" stroke-linecap="round"/>
<line x1="164.8" y1="779" x2="164.8" y2="815" stroke="#303030" stroke-width="2.4"/>
<line x1="367.5" y1="779" x2="367.5" y2="815" stroke="#303030" stroke-width="2.4"/>
<line x1="404.5" y1="779" x2="404.5" y2="815" stroke="#303030" stroke-width="2.4"/>
<line x1="492.6" y1="779" x2="492.6" y2="815" stroke="#303030" stroke-width="2.4"/>
<line x1="521.3" y1="779" x2="521.3" y2="815" stroke="#303030" stroke-width="2.4"/>
<line x1="632.4" y1="779" x2="632.4" y2="815" stroke="#303030" stroke-width="2.4"/>
<line x1="670.5" y1="779" x2="670.5" y2="815" stroke="#303030" stroke-width="2.4"/>
<line x1="723.2" y1="779" x2="723.2" y2="815" stroke="#303030" stroke-width="2.4"/>
<line x1="744.9" y1="779" x2="744.9" y2="815" stroke="#303030" stroke-width="2.4"/>
<line x1="828.2" y1="779" x2="828.2" y2="815" stroke="#303030" stroke-width="2.4"/>
<line x1="888.9" y1="779" x2="888.9" y2="815" stroke="#303030" stroke-width="2.4"/>
<line x1="959.5" y1="779" x2="959.5" y2="815" stroke="#303030" stroke-width="2.4"/>
<path d="M70.1,815.5 L70.1,3.7 L1009.1,3.7 L1009.1,815.5" fill="none" stroke="#141414" stroke-width="3.2" stroke-linejoin="miter"/>
<line x1="68.6" y1="815.5" x2="1010.7" y2="815.5" stroke="#141414" stroke-width="2.3"/>
<line x1="70.00" y1="815.5" x2="70.00" y2="831.5" stroke="#000" stroke-width="2.2"/>
<line x1="186.25" y1="815.5" x2="186.25" y2="831.5" stroke="#000" stroke-width="2.2"/>
<line x1="302.50" y1="815.5" x2="302.50" y2="831.5" stroke="#000" stroke-width="2.2"/>
<line x1="418.75" y1="815.5" x2="418.75" y2="831.5" stroke="#000" stroke-width="2.2"/>
<line x1="535.00" y1="815.5" x2="535.00" y2="831.5" stroke="#000" stroke-width="2.2"/>
<line x1="651.25" y1="815.5" x2="651.25" y2="831.5" stroke="#000" stroke-width="2.2"/>
<line x1="767.50" y1="815.5" x2="767.50" y2="831.5" stroke="#000" stroke-width="2.2"/>
<line x1="883.75" y1="815.5" x2="883.75" y2="831.5" stroke="#000" stroke-width="2.2"/>
<line x1="1000.00" y1="815.5" x2="1000.00" y2="831.5" stroke="#000" stroke-width="2.2"/>
<line x1="128.12" y1="815.5" x2="128.12" y2="822.5" stroke="#000" stroke-width="2.2"/>
<line x1="244.38" y1="815.5" x2="244.38" y2="822.5" stroke="#000" stroke-width="2.2"/>
<line x1="360.62" y1="815.5" x2="360.62" y2="822.5" stroke="#000" stroke-width="2.2"/>
<line x1="476.88" y1="815.5" x2="476.88" y2="822.5" stroke="#000" stroke-width="2.2"/>
<line x1="593.12" y1="815.5" x2="593.12" y2="822.5" stroke="#000" stroke-width="2.2"/>
<line x1="709.38" y1="815.5" x2="709.38" y2="822.5" stroke="#000" stroke-width="2.2"/>
<line x1="825.62" y1="815.5" x2="825.62" y2="822.5" stroke="#000" stroke-width="2.2"/>
<line x1="941.88" y1="815.5" x2="941.88" y2="822.5" stroke="#000" stroke-width="2.2"/>
<text transform="translate(53.49,869.90) scale(0.8394,1)" font-family="'Liberation Sans',Arial,sans-serif" font-weight="normal" font-size="35.14" fill="#000">10</text>
<text transform="translate(170.51,869.90) scale(0.8190,1)" font-family="'Liberation Sans',Arial,sans-serif" font-weight="normal" font-size="35.14" fill="#000">20</text>
<text transform="translate(286.76,869.90) scale(0.8190,1)" font-family="'Liberation Sans',Arial,sans-serif" font-weight="normal" font-size="35.14" fill="#000">30</text>
<text transform="translate(403.01,869.90) scale(0.8190,1)" font-family="'Liberation Sans',Arial,sans-serif" font-weight="normal" font-size="35.14" fill="#000">40</text>
<text transform="translate(519.56,869.90) scale(0.8110,1)" font-family="'Liberation Sans',Arial,sans-serif" font-weight="normal" font-size="35.14" fill="#000">50</text>
<text transform="translate(635.51,869.90) scale(0.8190,1)" font-family="'Liberation Sans',Arial,sans-serif" font-weight="normal" font-size="35.14" fill="#000">60</text>
<text transform="translate(751.76,869.90) scale(0.8190,1)" font-family="'Liberation Sans',Arial,sans-serif" font-weight="normal" font-size="35.14" fill="#000">70</text>
<text transform="translate(868.01,869.90) scale(0.8190,1)" font-family="'Liberation Sans',Arial,sans-serif" font-weight="normal" font-size="35.14" fill="#000">80</text>
<text transform="translate(984.41,869.90) scale(0.8150,1)" font-family="'Liberation Sans',Arial,sans-serif" font-weight="normal" font-size="35.14" fill="#000">90</text>
<text transform="translate(89.04,118.90) scale(0.8366,1)" font-family="'Liberation Serif','Times New Roman',serif" font-weight="bold" font-size="39.12" fill="#000">x=0.11</text>
<text transform="translate(83.64,212.70) scale(0.8071,1)" font-family="'Liberation Serif','Times New Roman',serif" font-weight="bold" font-size="39.58" fill="#000">x=0.09</text>
<text transform="translate(80.54,341.00) scale(0.8099,1)" font-family="'Liberation Serif','Times New Roman',serif" font-weight="bold" font-size="39.12" fill="#000">x=0.07</text>
<text transform="translate(77.04,459.90) scale(0.8363,1)" font-family="'Liberation Serif','Times New Roman',serif" font-weight="bold" font-size="38.37" fill="#000">x=0.05</text>
<text transform="translate(76.04,581.00) scale(0.8290,1)" font-family="'Liberation Serif','Times New Roman',serif" font-weight="bold" font-size="38.67" fill="#000">x=0.02</text>
<text transform="translate(80.14,664.40) scale(0.8542,1)" font-family="'Liberation Serif','Times New Roman',serif" font-weight="bold" font-size="37.46" fill="#000">x=0.00</text>
<text transform="translate(315.21,662.60) scale(0.8754,1)" font-family="'Liberation Serif','Times New Roman',serif" font-weight="bold" font-size="30.21" fill="#000">(2 0 0)</text>
<text transform="translate(478.60,644.20) scale(0.8126,1)" font-family="'Liberation Serif','Times New Roman',serif" font-weight="bold" font-size="30.06" fill="#000">(2 2 0)</text>
<text transform="translate(563.31,659.20) scale(0.8877,1)" font-family="'Liberation Serif','Times New Roman',serif" font-weight="bold" font-size="27.34" fill="#000">(3 1 1)</text>
<text transform="translate(630.82,675.00) scale(0.8744,1)" font-family="'Liberation Serif','Times New Roman',serif" font-weight="bold" font-size="27.49" fill="#000">(2 2 2)</text>
<text transform="translate(730.01,677.00) scale(0.8470,1)" font-family="'Liberation Serif','Times New Roman',serif" font-weight="bold" font-size="28.70" fill="#000">(4 0 0)</text>
<text transform="translate(800.82,666.00) scale(0.9042,1)" font-family="'Liberation Serif','Times New Roman',serif" font-weight="bold" font-size="26.59" fill="#000">(3 3 1)</text>
<text transform="translate(867.03,677.20) scale(0.8551,1)" font-family="'Liberation Serif','Times New Roman',serif" font-weight="bold" font-size="27.79" fill="#000">(4 2 0)</text>
<text transform="translate(939.29,673.50) scale(0.8810,1)" font-family="'Liberation Serif','Times New Roman',serif" font-weight="bold" font-size="27.95" fill="#000">(4 2 2)</text>
<text transform="translate(291.95,620.62) rotate(90) scale(1,0.8418)" font-family="'Liberation Serif','Times New Roman',serif" font-weight="bold" font-size="19.53" fill="#000">(1 1 1)</text>
<text transform="translate(135.60,762.40) scale(0.8972,1)" font-family="'Liberation Serif','Times New Roman',serif" font-weight="bold" font-size="22.21" fill="#000">(1 1 0)</text>
<text transform="translate(332.40,765.40) scale(0.9476,1)" font-family="'Liberation Serif','Times New Roman',serif" font-weight="bold" font-size="21.15" fill="#000">(1 1 1)</text>
<text transform="translate(398.71,769.10) scale(0.9839,1)" font-family="'Liberation Serif','Times New Roman',serif" font-weight="bold" font-size="20.09" fill="#000">(2 0 2)</text>
<text transform="translate(482.52,718.57) rotate(90) scale(1,0.7347)" font-family="'Liberation Serif','Times New Roman',serif" font-weight="bold" font-size="22.83" fill="#000">(0 2 2)</text>
<text transform="translate(515.03,712.25) rotate(90) scale(1,0.7820)" font-family="'Liberation Serif','Times New Roman',serif" font-weight="bold" font-size="23.30" fill="#000">(0 2 1)</text>
<text transform="translate(607.93,747.26) rotate(90) scale(1,0.8483)" font-family="'Liberation Serif','Times New Roman',serif" font-weight="bold" font-size="23.18" fill="#000">(0 2 3)</text>
<text transform="translate(650.91,747.26) rotate(90) scale(1,0.7620)" font-family="'Liberation Serif','Times New Roman',serif" font-weight="bold" font-size="23.18" fill="#000">(3 2 1)</text>
<text transform="translate(701.57,747.78) rotate(90) scale(1,0.8300)" font-family="'Liberation Serif','Times New Roman',serif" font-weight="bold" font-size="22.76" fill="#000">(3 1 2)</text>
<text transform="translate(754.75,744.17) rotate(90) scale(1,0.7988)" font-family="'Liberation Serif','Times New Roman',serif" font-weight="bold" font-size="22.95" fill="#000">(1 1 3)</text>
<text transform="translate(807.49,748.27) rotate(90) scale(1,0.7662)" font-family="'Liberation Serif','Times New Roman',serif" font-weight="bold" font-size="22.91" fill="#000">(1 1 4)</text>
<text transform="translate(870.35,746.27) rotate(90) scale(1,0.7371)" font-family="'Liberation Serif','Times New Roman',serif" font-weight="bold" font-size="22.91" fill="#000">(2 2 1)</text>
<text transform="translate(966.67,747.88) rotate(90) scale(1,0.8300)" font-family="'Liberation Serif','Times New Roman',serif" font-weight="bold" font-size="22.76" fill="#000">(1 3 0)</text>
<text transform="translate(710.69,44.80) scale(0.8658,1)" font-family="'Liberation Serif','Times New Roman',serif" font-weight="bold" font-size="33.59" fill="#000">JCPDS No. 034-0394</text>
<text transform="translate(630.04,731.40) scale(0.8791,1)" font-family="'Liberation Serif','Times New Roman',serif" font-weight="bold" font-size="33.28" fill="#000">CuO JCPDS No. 01-080-1916</text>
<text transform="translate(452.04,938.30) scale(0.8674,1)" font-family="'Liberation Serif','Times New Roman',serif" font-weight="bold" font-size="42.45" fill="#000"><tspan font-weight="normal">2θ (</tspan>degree<tspan font-weight="normal">)</tspan></text>
<text transform="translate(24.38,535.27) rotate(-90) scale(1,0.8070)" font-family="'Liberation Serif','Times New Roman',serif" font-weight="bold" font-size="41.99" fill="#000">Intensity (a.u)</text>
<text transform="translate(558.44,45.10) scale(0.8798,1)" font-family="'Liberation Serif','Times New Roman',serif" font-weight="bold" font-size="35.45" fill="#000">Ce</text>
<text transform="translate(592.74,54.30) scale(0.8523,1)" font-family="'Liberation Serif','Times New Roman',serif" font-weight="bold" font-size="22.90" fill="#000">1-x</text>
<text transform="translate(617.96,45.10) scale(0.8697,1)" font-family="'Liberation Serif','Times New Roman',serif" font-weight="bold" font-size="35.45" fill="#000">Cu</text>
<text transform="translate(656.91,54.30) scale(1.1143,1)" font-family="'Liberation Serif','Times New Roman',serif" font-weight="bold" font-size="15.38" fill="#000">x</text>
<text transform="translate(666.36,45.10) scale(0.8669,1)" font-family="'Liberation Serif','Times New Roman',serif" font-weight="bold" font-size="35.45" fill="#000">O</text>
</g>
</svg></body></html>
